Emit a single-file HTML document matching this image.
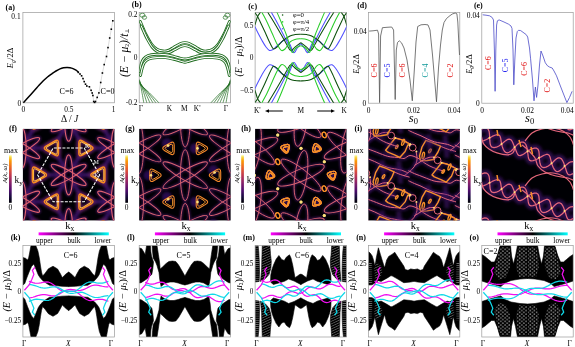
<!DOCTYPE html>
<html><head><meta charset="utf-8"><style>
html,body{margin:0;padding:0;background:#fff;width:575px;height:347px;overflow:hidden}
svg{display:block;font-family:'Liberation Serif', 'DejaVu Serif', serif}
</style></head><body>
<svg width="575" height="347" viewBox="0 0 575 347">
<text x="5.60" y="9.60" font-size="8" text-anchor="start" font-weight="bold" font-style="normal" fill="#000" >(a)</text>
<text x="131.80" y="7.30" font-size="8" text-anchor="start" font-weight="bold" font-style="normal" fill="#000" >(b)</text>
<text x="248.20" y="8.70" font-size="8" text-anchor="start" font-weight="bold" font-style="normal" fill="#000" >(c)</text>
<text x="357.20" y="8.40" font-size="8" text-anchor="start" font-weight="bold" font-style="normal" fill="#000" >(d)</text>
<text x="473.90" y="7.60" font-size="8" text-anchor="start" font-weight="bold" font-style="normal" fill="#000" >(e)</text>
<rect x="22.90" y="12.40" width="91.50" height="90.40" fill="none" stroke="#9a9a9a" stroke-width="0.7"/>
<text x="20.60" y="18.60" font-size="7.4" text-anchor="end" font-weight="normal" font-style="normal" fill="#000" >0.1</text>
<text x="21.30" y="106.20" font-size="7.4" text-anchor="end" font-weight="normal" font-style="normal" fill="#000" >0</text>
<text x="23.40" y="112.30" font-size="7.4" text-anchor="middle" font-weight="normal" font-style="normal" fill="#000" >0</text>
<text x="68.90" y="112.30" font-size="7.4" text-anchor="middle" font-weight="normal" font-style="normal" fill="#000" >0.5</text>
<text x="113.60" y="112.30" font-size="7.4" text-anchor="middle" font-weight="normal" font-style="normal" fill="#000" >1</text>
<text x="69.70" y="122.30" font-size="9.5" text-anchor="middle" font-weight="normal" font-style="normal" fill="#000" >Δ / <tspan font-style="italic">J</tspan></text>
<text transform="translate(13.3,58) rotate(-90)" font-size="8.5" text-anchor="middle"><tspan font-style="italic">E</tspan><tspan font-style="italic" font-size="6" dy="1.5">g</tspan><tspan dy="-1.5">/2Δ</tspan></text>
<text x="66.50" y="93.60" font-size="8" text-anchor="middle" font-weight="normal" font-style="normal" fill="#000" >C=6</text>
<text x="107.50" y="93.60" font-size="8" text-anchor="middle" font-weight="normal" font-style="normal" fill="#000" >C=0</text>
<path d="M23.40,102.70 C24.33,101.67 27.13,98.57 29.00,96.50 C30.87,94.43 32.93,92.17 34.60,90.30 C36.27,88.43 37.55,86.88 39.00,85.30 C40.45,83.72 41.88,82.18 43.30,80.80 C44.72,79.42 46.07,78.17 47.50,77.00 C48.93,75.83 50.48,74.80 51.90,73.80 C53.32,72.80 54.65,71.82 56.00,71.00 C57.35,70.18 58.75,69.43 60.00,68.90 C61.25,68.37 62.33,68.05 63.50,67.80 C64.67,67.55 65.92,67.42 67.00,67.40 C68.08,67.38 69.00,67.50 70.00,67.70 C71.00,67.90 72.00,68.18 73.00,68.60 C74.00,69.02 75.08,69.60 76.00,70.20 C76.92,70.80 78.08,71.87 78.50,72.20" fill="none" stroke="#000" stroke-width="1.5"/>
<path d="M78.30,72.40 L80.00,74.00 L81.60,75.80 L83.00,78.60 L84.20,81.60 L85.50,84.20 L86.80,86.00 L89.40,86.80 L91.10,90.30 L92.20,93.00 L92.90,95.50 L93.70,101.50 L94.60,102.40 L95.50,101.50 L97.20,97.40 L98.90,92.90 L100.70,82.50 L102.40,73.00 L104.20,64.60 L106.50,56.50 L108.00,47.60 L109.70,38.00 L111.30,29.20 L112.80,20.80" fill="none" stroke="#bbb" stroke-width="0.5"/>
<rect x="77.50" y="71.60" width="1.6" height="1.6" fill="#000"/>
<rect x="79.20" y="73.20" width="1.6" height="1.6" fill="#000"/>
<rect x="80.80" y="75.00" width="1.6" height="1.6" fill="#000"/>
<rect x="82.20" y="77.80" width="1.6" height="1.6" fill="#000"/>
<rect x="83.40" y="80.80" width="1.6" height="1.6" fill="#000"/>
<rect x="84.70" y="83.40" width="1.6" height="1.6" fill="#000"/>
<rect x="86.00" y="85.20" width="1.6" height="1.6" fill="#000"/>
<rect x="88.60" y="86.00" width="1.6" height="1.6" fill="#000"/>
<rect x="90.30" y="89.50" width="1.6" height="1.6" fill="#000"/>
<rect x="91.40" y="92.20" width="1.6" height="1.6" fill="#000"/>
<rect x="92.10" y="94.70" width="1.6" height="1.6" fill="#000"/>
<rect x="92.90" y="100.70" width="1.6" height="1.6" fill="#000"/>
<rect x="93.80" y="101.60" width="1.6" height="1.6" fill="#000"/>
<rect x="94.70" y="100.70" width="1.6" height="1.6" fill="#000"/>
<rect x="96.40" y="96.60" width="1.6" height="1.6" fill="#000"/>
<rect x="98.10" y="92.10" width="1.6" height="1.6" fill="#000"/>
<rect x="99.90" y="81.70" width="1.6" height="1.6" fill="#000"/>
<rect x="101.60" y="72.20" width="1.6" height="1.6" fill="#000"/>
<rect x="103.40" y="63.80" width="1.6" height="1.6" fill="#000"/>
<rect x="105.70" y="55.70" width="1.6" height="1.6" fill="#000"/>
<rect x="107.20" y="46.80" width="1.6" height="1.6" fill="#000"/>
<rect x="108.90" y="37.20" width="1.6" height="1.6" fill="#000"/>
<rect x="110.50" y="28.40" width="1.6" height="1.6" fill="#000"/>
<rect x="112.00" y="20.00" width="1.6" height="1.6" fill="#000"/>
<rect x="139.20" y="12.40" width="91.40" height="90.40" fill="none" stroke="#9a9a9a" stroke-width="0.7"/>
<text x="137.50" y="17.20" font-size="7.4" text-anchor="end" font-weight="normal" font-style="normal" fill="#000" >0.2</text>
<text x="137.50" y="60.10" font-size="7.4" text-anchor="end" font-weight="normal" font-style="normal" fill="#000" >0</text>
<text x="137.50" y="104.90" font-size="7.4" text-anchor="end" font-weight="normal" font-style="normal" fill="#000" >-0.2</text>
<text x="140.90" y="111.20" font-size="7.4" text-anchor="middle" font-weight="normal" font-style="normal" fill="#000" >Γ</text>
<text x="169.30" y="111.20" font-size="7.4" text-anchor="middle" font-weight="normal" font-style="normal" fill="#000" >K</text>
<text x="184.20" y="111.20" font-size="7.4" text-anchor="middle" font-weight="normal" font-style="normal" fill="#000" >M</text>
<text x="197.20" y="111.20" font-size="7.4" text-anchor="middle" font-weight="normal" font-style="normal" fill="#000" >K'</text>
<text x="226.00" y="111.20" font-size="7.4" text-anchor="middle" font-weight="normal" font-style="normal" fill="#000" >Γ</text>
<text transform="translate(127.8,52.7) rotate(-90)" font-size="11.6" text-anchor="middle" font-style="italic">(E − μ<tspan font-size="5.5" dy="1.4" font-style="normal">2</tspan><tspan dy="-1.4">)/</tspan><tspan>t</tspan><tspan font-size="5.5" dy="1.4" font-style="normal">⊥</tspan></text>
<clipPath id="clipb"><rect x="139.2" y="12.4" width="91.4" height="90.39999999999999"/></clipPath>
<g clip-path="url(#clipb)">
<path d="M140.30,21.50 C140.67,22.33 141.55,24.33 142.50,26.50 C143.45,28.67 144.50,31.58 146.00,34.50 C147.50,37.42 149.67,41.55 151.50,44.00 C153.33,46.45 155.08,48.03 157.00,49.20 C158.92,50.37 161.17,50.78 163.00,51.00 C164.83,51.22 166.25,51.08 168.00,50.50 C169.75,49.92 171.42,48.67 173.50,47.50 C175.58,46.33 178.60,44.32 180.50,43.50 C182.40,42.68 183.43,42.60 184.90,42.60 C186.37,42.60 187.40,42.68 189.30,43.50 C191.20,44.32 194.22,46.33 196.30,47.50 C198.38,48.67 200.05,49.92 201.80,50.50 C203.55,51.08 204.97,51.22 206.80,51.00 C208.63,50.78 210.88,50.37 212.80,49.20 C214.72,48.03 216.47,46.45 218.30,44.00 C220.13,41.55 222.30,37.42 223.80,34.50 C225.30,31.58 226.35,28.67 227.30,26.50 C228.25,24.33 229.13,22.33 229.50,21.50" fill="none" stroke="#1e6b1e" stroke-width="2.9" stroke-linecap="round" stroke-linejoin="round"/>
<path d="M140.30,21.50 C140.67,22.33 141.55,24.33 142.50,26.50 C143.45,28.67 144.50,31.58 146.00,34.50 C147.50,37.42 149.67,41.55 151.50,44.00 C153.33,46.45 155.08,48.03 157.00,49.20 C158.92,50.37 161.17,50.78 163.00,51.00 C164.83,51.22 166.25,51.08 168.00,50.50 C169.75,49.92 171.42,48.67 173.50,47.50 C175.58,46.33 178.60,44.32 180.50,43.50 C182.40,42.68 183.43,42.60 184.90,42.60 C186.37,42.60 187.40,42.68 189.30,43.50 C191.20,44.32 194.22,46.33 196.30,47.50 C198.38,48.67 200.05,49.92 201.80,50.50 C203.55,51.08 204.97,51.22 206.80,51.00 C208.63,50.78 210.88,50.37 212.80,49.20 C214.72,48.03 216.47,46.45 218.30,44.00 C220.13,41.55 222.30,37.42 223.80,34.50 C225.30,31.58 226.35,28.67 227.30,26.50 C228.25,24.33 229.13,22.33 229.50,21.50" fill="none" stroke="#fff" stroke-width="1.1" stroke-linecap="round" stroke-linejoin="round"/>
<path d="M141.30,26.00 C141.67,26.83 142.55,28.92 143.50,31.00 C144.45,33.08 145.50,35.75 147.00,38.50 C148.50,41.25 150.67,45.25 152.50,47.50 C154.33,49.75 156.08,51.03 158.00,52.00 C159.92,52.97 162.17,53.20 164.00,53.30 C165.83,53.40 167.25,53.18 169.00,52.60 C170.75,52.02 172.50,50.82 174.50,49.80 C176.50,48.78 179.27,47.20 181.00,46.50 C182.73,45.80 183.60,45.60 184.90,45.60 C186.20,45.60 187.07,45.80 188.80,46.50 C190.53,47.20 193.30,48.78 195.30,49.80 C197.30,50.82 199.05,52.02 200.80,52.60 C202.55,53.18 203.97,53.40 205.80,53.30 C207.63,53.20 209.88,52.97 211.80,52.00 C213.72,51.03 215.47,49.75 217.30,47.50 C219.13,45.25 221.30,41.25 222.80,38.50 C224.30,35.75 225.35,33.08 226.30,31.00 C227.25,28.92 228.13,26.83 228.50,26.00" fill="none" stroke="#1e6b1e" stroke-width="2.9" stroke-linecap="round" stroke-linejoin="round"/>
<path d="M141.30,26.00 C141.67,26.83 142.55,28.92 143.50,31.00 C144.45,33.08 145.50,35.75 147.00,38.50 C148.50,41.25 150.67,45.25 152.50,47.50 C154.33,49.75 156.08,51.03 158.00,52.00 C159.92,52.97 162.17,53.20 164.00,53.30 C165.83,53.40 167.25,53.18 169.00,52.60 C170.75,52.02 172.50,50.82 174.50,49.80 C176.50,48.78 179.27,47.20 181.00,46.50 C182.73,45.80 183.60,45.60 184.90,45.60 C186.20,45.60 187.07,45.80 188.80,46.50 C190.53,47.20 193.30,48.78 195.30,49.80 C197.30,50.82 199.05,52.02 200.80,52.60 C202.55,53.18 203.97,53.40 205.80,53.30 C207.63,53.20 209.88,52.97 211.80,52.00 C213.72,51.03 215.47,49.75 217.30,47.50 C219.13,45.25 221.30,41.25 222.80,38.50 C224.30,35.75 225.35,33.08 226.30,31.00 C227.25,28.92 228.13,26.83 228.50,26.00" fill="none" stroke="#fff" stroke-width="1.1" stroke-linecap="round" stroke-linejoin="round"/>
<path d="M140.00,71.50 C140.20,70.25 140.62,66.08 141.20,64.00 C141.78,61.92 142.37,60.40 143.50,59.00 C144.63,57.60 145.87,56.38 148.00,55.60 C150.13,54.82 153.48,54.47 156.30,54.30 C159.12,54.13 162.03,54.27 164.90,54.60 C167.77,54.93 170.90,55.68 173.50,56.30 C176.10,56.92 178.60,57.85 180.50,58.30 C182.40,58.75 183.43,59.00 184.90,59.00 C186.37,59.00 187.40,58.75 189.30,58.30 C191.20,57.85 193.70,56.92 196.30,56.30 C198.90,55.68 202.03,54.93 204.90,54.60 C207.77,54.27 210.68,54.13 213.50,54.30 C216.32,54.47 219.67,54.82 221.80,55.60 C223.93,56.38 225.17,57.60 226.30,59.00 C227.43,60.40 228.02,61.92 228.60,64.00 C229.18,66.08 229.60,70.25 229.80,71.50" fill="none" stroke="#1e6b1e" stroke-width="2.9" stroke-linecap="round" stroke-linejoin="round"/>
<path d="M140.00,71.50 C140.20,70.25 140.62,66.08 141.20,64.00 C141.78,61.92 142.37,60.40 143.50,59.00 C144.63,57.60 145.87,56.38 148.00,55.60 C150.13,54.82 153.48,54.47 156.30,54.30 C159.12,54.13 162.03,54.27 164.90,54.60 C167.77,54.93 170.90,55.68 173.50,56.30 C176.10,56.92 178.60,57.85 180.50,58.30 C182.40,58.75 183.43,59.00 184.90,59.00 C186.37,59.00 187.40,58.75 189.30,58.30 C191.20,57.85 193.70,56.92 196.30,56.30 C198.90,55.68 202.03,54.93 204.90,54.60 C207.77,54.27 210.68,54.13 213.50,54.30 C216.32,54.47 219.67,54.82 221.80,55.60 C223.93,56.38 225.17,57.60 226.30,59.00 C227.43,60.40 228.02,61.92 228.60,64.00 C229.18,66.08 229.60,70.25 229.80,71.50" fill="none" stroke="#fff" stroke-width="1.1" stroke-linecap="round" stroke-linejoin="round"/>
<path d="M140.50,75.50 C140.78,74.25 141.53,70.17 142.20,68.00 C142.87,65.83 143.37,64.00 144.50,62.50 C145.63,61.00 146.92,59.82 149.00,59.00 C151.08,58.18 154.25,57.83 157.00,57.60 C159.75,57.37 162.67,57.32 165.50,57.60 C168.33,57.88 171.42,58.68 174.00,59.30 C176.58,59.92 179.18,60.82 181.00,61.30 C182.82,61.78 183.60,62.20 184.90,62.20 C186.20,62.20 186.98,61.78 188.80,61.30 C190.62,60.82 193.22,59.92 195.80,59.30 C198.38,58.68 201.47,57.88 204.30,57.60 C207.13,57.32 210.05,57.37 212.80,57.60 C215.55,57.83 218.72,58.18 220.80,59.00 C222.88,59.82 224.17,61.00 225.30,62.50 C226.43,64.00 226.93,65.83 227.60,68.00 C228.27,70.17 229.02,74.25 229.30,75.50" fill="none" stroke="#1e6b1e" stroke-width="2.9" stroke-linecap="round" stroke-linejoin="round"/>
<path d="M140.50,75.50 C140.78,74.25 141.53,70.17 142.20,68.00 C142.87,65.83 143.37,64.00 144.50,62.50 C145.63,61.00 146.92,59.82 149.00,59.00 C151.08,58.18 154.25,57.83 157.00,57.60 C159.75,57.37 162.67,57.32 165.50,57.60 C168.33,57.88 171.42,58.68 174.00,59.30 C176.58,59.92 179.18,60.82 181.00,61.30 C182.82,61.78 183.60,62.20 184.90,62.20 C186.20,62.20 186.98,61.78 188.80,61.30 C190.62,60.82 193.22,59.92 195.80,59.30 C198.38,58.68 201.47,57.88 204.30,57.60 C207.13,57.32 210.05,57.37 212.80,57.60 C215.55,57.83 218.72,58.18 220.80,59.00 C222.88,59.82 224.17,61.00 225.30,62.50 C226.43,64.00 226.93,65.83 227.60,68.00 C228.27,70.17 229.02,74.25 229.30,75.50" fill="none" stroke="#fff" stroke-width="1.1" stroke-linecap="round" stroke-linejoin="round"/>
<path d="M139.40,79.50 C139.75,81.25 140.73,85.92 141.50,90.00 C142.27,94.08 143.58,101.67 144.00,104.00" fill="none" stroke="#1e6b1e" stroke-width="0.7"/>
<path d="M230.40,79.50 C230.05,81.25 229.07,85.92 228.30,90.00 C227.53,94.08 226.22,101.67 225.80,104.00" fill="none" stroke="#1e6b1e" stroke-width="0.7"/>
<path d="M139.40,80.40 C140.02,82.10 141.80,86.67 143.10,90.60 C144.40,94.53 146.52,101.77 147.20,104.00" fill="none" stroke="#1e6b1e" stroke-width="0.7"/>
<path d="M230.40,80.40 C229.78,82.10 228.00,86.67 226.70,90.60 C225.40,94.53 223.28,101.77 222.60,104.00" fill="none" stroke="#1e6b1e" stroke-width="0.7"/>
<path d="M139.40,81.30 C140.28,82.95 142.87,87.42 144.70,91.20 C146.53,94.98 149.45,101.87 150.40,104.00" fill="none" stroke="#1e6b1e" stroke-width="0.7"/>
<path d="M230.40,81.30 C229.52,82.95 226.93,87.42 225.10,91.20 C223.27,94.98 220.35,101.87 219.40,104.00" fill="none" stroke="#1e6b1e" stroke-width="0.7"/>
<path d="M139.40,82.20 C140.55,83.80 143.93,88.17 146.30,91.80 C148.67,95.43 152.38,101.97 153.60,104.00" fill="none" stroke="#1e6b1e" stroke-width="0.7"/>
<path d="M230.40,82.20 C229.25,83.80 225.87,88.17 223.50,91.80 C221.13,95.43 217.42,101.97 216.20,104.00" fill="none" stroke="#1e6b1e" stroke-width="0.7"/>
<path d="M139.40,83.10 C140.82,84.65 145.00,88.92 147.90,92.40 C150.80,95.88 155.32,102.07 156.80,104.00" fill="none" stroke="#1e6b1e" stroke-width="0.7"/>
<path d="M230.40,83.10 C228.98,84.65 224.80,88.92 221.90,92.40 C219.00,95.88 214.48,102.07 213.00,104.00" fill="none" stroke="#1e6b1e" stroke-width="0.7"/>
<path d="M139.40,84.00 C141.08,85.50 146.07,89.67 149.50,93.00 C152.93,96.33 158.25,102.17 160.00,104.00" fill="none" stroke="#1e6b1e" stroke-width="0.7"/>
<path d="M230.40,84.00 C228.72,85.50 223.73,89.67 220.30,93.00 C216.87,96.33 211.55,102.17 209.80,104.00" fill="none" stroke="#1e6b1e" stroke-width="0.7"/>
<ellipse cx="142.39999999999998" cy="15.2" rx="2.6" ry="2.0" fill="none" stroke="#1e6b1e" stroke-width="0.7"/>
<ellipse cx="144.39999999999998" cy="17.5" rx="2.2" ry="1.8" fill="none" stroke="#1e6b1e" stroke-width="0.7"/>
<ellipse cx="227.4" cy="15.2" rx="2.6" ry="2.0" fill="none" stroke="#1e6b1e" stroke-width="0.7"/>
<ellipse cx="225.4" cy="17.5" rx="2.2" ry="1.8" fill="none" stroke="#1e6b1e" stroke-width="0.7"/>
</g>
<rect x="255.10" y="12.40" width="91.40" height="90.40" fill="none" stroke="#9a9a9a" stroke-width="0.7"/>
<text x="253.40" y="28.20" font-size="7.4" text-anchor="end" font-weight="normal" font-style="normal" fill="#000" >0.5</text>
<text x="253.40" y="59.60" font-size="7.4" text-anchor="end" font-weight="normal" font-style="normal" fill="#000" >0</text>
<text x="253.40" y="93.10" font-size="7.4" text-anchor="end" font-weight="normal" font-style="normal" fill="#000" >−0.5</text>
<text transform="translate(242.0,56.6) rotate(-90)" font-size="9.6" text-anchor="middle" font-style="italic">(E − μ<tspan font-size="5.5" dy="1.4" font-style="normal">2</tspan><tspan dy="-1.4" font-style="normal">)/Δ</tspan></text>
<text x="257.30" y="113.30" font-size="7.4" text-anchor="middle" font-weight="normal" font-style="normal" fill="#000" >K'</text>
<text x="300.80" y="113.30" font-size="7.4" text-anchor="middle" font-weight="normal" font-style="normal" fill="#000" >M</text>
<text x="344.10" y="113.30" font-size="7.4" text-anchor="middle" font-weight="normal" font-style="normal" fill="#000" >K</text>
<path d="M267.5,111 L282.8,111" stroke="#000" stroke-width="1"/><path d="M265,111 L269,109.3 L269,112.7Z" fill="#000"/>
<path d="M317.2,111 L332.5,111" stroke="#000" stroke-width="1"/><path d="M335,111 L331,109.3 L331,112.7Z" fill="#000"/>
<clipPath id="clipc"><rect x="255.1" y="12.4" width="91.4" height="90.39999999999999"/></clipPath>
<g clip-path="url(#clipc)">
<path d="M253.00,22.00 C253.35,22.83 254.27,25.17 255.10,27.00 C255.93,28.83 256.85,30.75 258.00,33.00 C259.15,35.25 260.67,38.17 262.00,40.50 C263.33,42.83 264.75,45.35 266.00,47.00 C267.25,48.65 268.33,49.98 269.50,50.40 C270.67,50.82 271.75,50.23 273.00,49.50 C274.25,48.77 275.38,47.42 277.00,46.00 C278.62,44.58 281.03,42.05 282.70,41.00 C284.37,39.95 285.78,39.12 287.00,39.70 C288.22,40.28 288.88,42.35 290.00,44.50 C291.12,46.65 292.53,51.93 293.70,52.60 C294.87,53.27 295.82,50.02 297.00,48.50 C298.18,46.98 300.17,44.33 300.80,43.50" fill="none" stroke="#5050ff" stroke-width="1.05"/>
<path d="M253.00,93.20 C253.35,92.37 254.27,90.03 255.10,88.20 C255.93,86.37 256.85,84.45 258.00,82.20 C259.15,79.95 260.67,77.03 262.00,74.70 C263.33,72.37 264.75,69.85 266.00,68.20 C267.25,66.55 268.33,65.22 269.50,64.80 C270.67,64.38 271.75,64.97 273.00,65.70 C274.25,66.43 275.38,67.78 277.00,69.20 C278.62,70.62 281.03,73.15 282.70,74.20 C284.37,75.25 285.78,76.08 287.00,75.50 C288.22,74.92 288.88,72.85 290.00,70.70 C291.12,68.55 292.53,63.27 293.70,62.60 C294.87,61.93 295.82,65.18 297.00,66.70 C298.18,68.22 300.17,70.87 300.80,71.70" fill="none" stroke="#5050ff" stroke-width="1.05"/>
<path d="M348.60,22.00 C348.25,22.83 347.33,25.17 346.50,27.00 C345.67,28.83 344.75,30.75 343.60,33.00 C342.45,35.25 340.93,38.17 339.60,40.50 C338.27,42.83 336.85,45.35 335.60,47.00 C334.35,48.65 333.27,49.98 332.10,50.40 C330.93,50.82 329.85,50.23 328.60,49.50 C327.35,48.77 326.22,47.42 324.60,46.00 C322.98,44.58 320.57,42.05 318.90,41.00 C317.23,39.95 315.82,39.12 314.60,39.70 C313.38,40.28 312.72,42.35 311.60,44.50 C310.48,46.65 309.07,51.93 307.90,52.60 C306.73,53.27 305.78,50.02 304.60,48.50 C303.42,46.98 301.43,44.33 300.80,43.50" fill="none" stroke="#5050ff" stroke-width="1.05"/>
<path d="M348.60,93.20 C348.25,92.37 347.33,90.03 346.50,88.20 C345.67,86.37 344.75,84.45 343.60,82.20 C342.45,79.95 340.93,77.03 339.60,74.70 C338.27,72.37 336.85,69.85 335.60,68.20 C334.35,66.55 333.27,65.22 332.10,64.80 C330.93,64.38 329.85,64.97 328.60,65.70 C327.35,66.43 326.22,67.78 324.60,69.20 C322.98,70.62 320.57,73.15 318.90,74.20 C317.23,75.25 315.82,76.08 314.60,75.50 C313.38,74.92 312.72,72.85 311.60,70.70 C310.48,68.55 309.07,63.27 307.90,62.60 C306.73,61.93 305.78,65.18 304.60,66.70 C303.42,68.22 301.43,70.87 300.80,71.70" fill="none" stroke="#5050ff" stroke-width="1.05"/>
<path d="M270.00,9.00 C270.25,9.57 270.50,10.48 271.50,12.40 C272.50,14.32 274.42,17.57 276.00,20.50 C277.58,23.43 279.33,26.75 281.00,30.00 C282.67,33.25 284.50,37.08 286.00,40.00 C287.50,42.92 288.72,45.40 290.00,47.50 C291.28,49.60 293.08,51.75 293.70,52.60" fill="none" stroke="#5050ff" stroke-width="1.05"/>
<path d="M270.00,106.20 C270.25,105.63 270.50,104.72 271.50,102.80 C272.50,100.88 274.42,97.63 276.00,94.70 C277.58,91.77 279.33,88.45 281.00,85.20 C282.67,81.95 284.50,78.12 286.00,75.20 C287.50,72.28 288.72,69.80 290.00,67.70 C291.28,65.60 293.08,63.45 293.70,62.60" fill="none" stroke="#5050ff" stroke-width="1.05"/>
<path d="M331.60,9.00 C331.35,9.57 331.10,10.48 330.10,12.40 C329.10,14.32 327.18,17.57 325.60,20.50 C324.02,23.43 322.27,26.75 320.60,30.00 C318.93,33.25 317.10,37.08 315.60,40.00 C314.10,42.92 312.88,45.40 311.60,47.50 C310.32,49.60 308.52,51.75 307.90,52.60" fill="none" stroke="#5050ff" stroke-width="1.05"/>
<path d="M331.60,106.20 C331.35,105.63 331.10,104.72 330.10,102.80 C329.10,100.88 327.18,97.63 325.60,94.70 C324.02,91.77 322.27,88.45 320.60,85.20 C318.93,81.95 317.10,78.12 315.60,75.20 C314.10,72.28 312.88,69.80 311.60,67.70 C310.32,65.60 308.52,63.45 307.90,62.60" fill="none" stroke="#5050ff" stroke-width="1.05"/>
<path d="M253.00,10.00 C253.35,10.48 254.33,11.82 255.10,12.90 C255.87,13.98 256.62,14.73 257.60,16.50 C258.58,18.27 259.77,20.92 261.00,23.50 C262.23,26.08 263.67,29.08 265.00,32.00 C266.33,34.92 267.83,38.50 269.00,41.00 C270.17,43.50 271.22,45.67 272.00,47.00 C272.78,48.33 272.87,49.00 273.70,49.00 C274.53,49.00 275.47,48.38 277.00,47.00 C278.53,45.62 280.73,42.53 282.90,40.70 C285.07,38.87 287.98,37.02 290.00,36.00 C292.02,34.98 293.20,34.88 295.00,34.60 C296.80,34.32 299.83,34.35 300.80,34.30" fill="none" stroke="#0b4f0b" stroke-width="1.05"/>
<path d="M253.00,105.20 C253.35,104.72 254.33,103.38 255.10,102.30 C255.87,101.22 256.62,100.47 257.60,98.70 C258.58,96.93 259.77,94.28 261.00,91.70 C262.23,89.12 263.67,86.12 265.00,83.20 C266.33,80.28 267.83,76.70 269.00,74.20 C270.17,71.70 271.22,69.53 272.00,68.20 C272.78,66.87 272.87,66.20 273.70,66.20 C274.53,66.20 275.47,66.82 277.00,68.20 C278.53,69.58 280.73,72.67 282.90,74.50 C285.07,76.33 287.98,78.18 290.00,79.20 C292.02,80.22 293.20,80.32 295.00,80.60 C296.80,80.88 299.83,80.85 300.80,80.90" fill="none" stroke="#0b4f0b" stroke-width="1.05"/>
<path d="M348.60,10.00 C348.25,10.48 347.27,11.82 346.50,12.90 C345.73,13.98 344.98,14.73 344.00,16.50 C343.02,18.27 341.83,20.92 340.60,23.50 C339.37,26.08 337.93,29.08 336.60,32.00 C335.27,34.92 333.77,38.50 332.60,41.00 C331.43,43.50 330.38,45.67 329.60,47.00 C328.82,48.33 328.73,49.00 327.90,49.00 C327.07,49.00 326.13,48.38 324.60,47.00 C323.07,45.62 320.87,42.53 318.70,40.70 C316.53,38.87 313.62,37.02 311.60,36.00 C309.58,34.98 308.40,34.88 306.60,34.60 C304.80,34.32 301.77,34.35 300.80,34.30" fill="none" stroke="#0b4f0b" stroke-width="1.05"/>
<path d="M348.60,105.20 C348.25,104.72 347.27,103.38 346.50,102.30 C345.73,101.22 344.98,100.47 344.00,98.70 C343.02,96.93 341.83,94.28 340.60,91.70 C339.37,89.12 337.93,86.12 336.60,83.20 C335.27,80.28 333.77,76.70 332.60,74.20 C331.43,71.70 330.38,69.53 329.60,68.20 C328.82,66.87 328.73,66.20 327.90,66.20 C327.07,66.20 326.13,66.82 324.60,68.20 C323.07,69.58 320.87,72.67 318.70,74.50 C316.53,76.33 313.62,78.18 311.60,79.20 C309.58,80.22 308.40,80.32 306.60,80.60 C304.80,80.88 301.77,80.85 300.80,80.90" fill="none" stroke="#0b4f0b" stroke-width="1.05"/>
<path d="M266.50,9.00 C266.75,9.57 266.58,9.90 268.00,12.40 C269.42,14.90 272.67,20.07 275.00,24.00 C277.33,27.93 280.00,32.50 282.00,36.00 C284.00,39.50 285.55,42.58 287.00,45.00 C288.45,47.42 289.37,50.13 290.70,50.50 C292.03,50.87 293.32,48.52 295.00,47.20 C296.68,45.88 299.83,43.37 300.80,42.60" fill="none" stroke="#0b4f0b" stroke-width="1.05"/>
<path d="M266.50,106.20 C266.75,105.63 266.58,105.30 268.00,102.80 C269.42,100.30 272.67,95.13 275.00,91.20 C277.33,87.27 280.00,82.70 282.00,79.20 C284.00,75.70 285.55,72.62 287.00,70.20 C288.45,67.78 289.37,65.07 290.70,64.70 C292.03,64.33 293.32,66.68 295.00,68.00 C296.68,69.32 299.83,71.83 300.80,72.60" fill="none" stroke="#0b4f0b" stroke-width="1.05"/>
<path d="M335.10,9.00 C334.85,9.57 335.02,9.90 333.60,12.40 C332.18,14.90 328.93,20.07 326.60,24.00 C324.27,27.93 321.60,32.50 319.60,36.00 C317.60,39.50 316.05,42.58 314.60,45.00 C313.15,47.42 312.23,50.13 310.90,50.50 C309.57,50.87 308.28,48.52 306.60,47.20 C304.92,45.88 301.77,43.37 300.80,42.60" fill="none" stroke="#0b4f0b" stroke-width="1.05"/>
<path d="M335.10,106.20 C334.85,105.63 335.02,105.30 333.60,102.80 C332.18,100.30 328.93,95.13 326.60,91.20 C324.27,87.27 321.60,82.70 319.60,79.20 C317.60,75.70 316.05,72.62 314.60,70.20 C313.15,67.78 312.23,65.07 310.90,64.70 C309.57,64.33 308.28,66.68 306.60,68.00 C304.92,69.32 301.77,71.83 300.80,72.60" fill="none" stroke="#0b4f0b" stroke-width="1.05"/>
<path d="M253.50,27.00 C253.77,26.57 254.42,26.15 255.10,24.40 C255.78,22.65 256.70,18.53 257.60,16.50 C258.50,14.47 259.77,13.45 260.50,12.20 C261.23,10.95 261.75,9.53 262.00,9.00" fill="none" stroke="#0b4f0b" stroke-width="1.05"/>
<path d="M253.50,88.20 C253.77,88.63 254.42,89.05 255.10,90.80 C255.78,92.55 256.70,96.67 257.60,98.70 C258.50,100.73 259.77,101.75 260.50,103.00 C261.23,104.25 261.75,105.67 262.00,106.20" fill="none" stroke="#0b4f0b" stroke-width="1.05"/>
<path d="M348.10,27.00 C347.83,26.57 347.18,26.15 346.50,24.40 C345.82,22.65 344.90,18.53 344.00,16.50 C343.10,14.47 341.83,13.45 341.10,12.20 C340.37,10.95 339.85,9.53 339.60,9.00" fill="none" stroke="#0b4f0b" stroke-width="1.05"/>
<path d="M348.10,88.20 C347.83,88.63 347.18,89.05 346.50,90.80 C345.82,92.55 344.90,96.67 344.00,98.70 C343.10,100.73 341.83,101.75 341.10,103.00 C340.37,104.25 339.85,105.67 339.60,106.20" fill="none" stroke="#0b4f0b" stroke-width="1.05"/>
<path d="M260.50,9.00 C260.75,9.57 260.92,10.23 262.00,12.40 C263.08,14.57 265.33,18.57 267.00,22.00 C268.67,25.43 270.33,29.33 272.00,33.00 C273.67,36.67 275.45,41.10 277.00,44.00 C278.55,46.90 279.97,49.57 281.30,50.40 C282.63,51.23 283.55,50.40 285.00,49.00 C286.45,47.60 288.33,43.60 290.00,42.00 C291.67,40.40 293.20,39.95 295.00,39.40 C296.80,38.85 299.83,38.82 300.80,38.70" fill="none" stroke="#28cc28" stroke-width="1.05"/>
<path d="M260.50,106.20 C260.75,105.63 260.92,104.97 262.00,102.80 C263.08,100.63 265.33,96.63 267.00,93.20 C268.67,89.77 270.33,85.87 272.00,82.20 C273.67,78.53 275.45,74.10 277.00,71.20 C278.55,68.30 279.97,65.63 281.30,64.80 C282.63,63.97 283.55,64.80 285.00,66.20 C286.45,67.60 288.33,71.60 290.00,73.20 C291.67,74.80 293.20,75.25 295.00,75.80 C296.80,76.35 299.83,76.38 300.80,76.50" fill="none" stroke="#28cc28" stroke-width="1.05"/>
<path d="M341.10,9.00 C340.85,9.57 340.68,10.23 339.60,12.40 C338.52,14.57 336.27,18.57 334.60,22.00 C332.93,25.43 331.27,29.33 329.60,33.00 C327.93,36.67 326.15,41.10 324.60,44.00 C323.05,46.90 321.63,49.57 320.30,50.40 C318.97,51.23 318.05,50.40 316.60,49.00 C315.15,47.60 313.27,43.60 311.60,42.00 C309.93,40.40 308.40,39.95 306.60,39.40 C304.80,38.85 301.77,38.82 300.80,38.70" fill="none" stroke="#28cc28" stroke-width="1.05"/>
<path d="M341.10,106.20 C340.85,105.63 340.68,104.97 339.60,102.80 C338.52,100.63 336.27,96.63 334.60,93.20 C332.93,89.77 331.27,85.87 329.60,82.20 C327.93,78.53 326.15,74.10 324.60,71.20 C323.05,68.30 321.63,65.63 320.30,64.80 C318.97,63.97 318.05,64.80 316.60,66.20 C315.15,67.60 313.27,71.60 311.60,73.20 C309.93,74.80 308.40,75.25 306.60,75.80 C304.80,76.35 301.77,76.38 300.80,76.50" fill="none" stroke="#28cc28" stroke-width="1.05"/>
<path d="M275.00,9.00 C275.33,9.57 275.83,9.90 277.00,12.40 C278.17,14.90 280.33,19.98 282.00,24.00 C283.67,28.02 285.38,31.83 287.00,36.50 C288.62,41.17 290.20,50.08 291.70,52.00 C293.20,53.92 294.48,49.07 296.00,48.00 C297.52,46.93 300.00,46.00 300.80,45.60" fill="none" stroke="#28cc28" stroke-width="1.05"/>
<path d="M275.00,106.20 C275.33,105.63 275.83,105.30 277.00,102.80 C278.17,100.30 280.33,95.22 282.00,91.20 C283.67,87.18 285.38,83.37 287.00,78.70 C288.62,74.03 290.20,65.12 291.70,63.20 C293.20,61.28 294.48,66.13 296.00,67.20 C297.52,68.27 300.00,69.20 300.80,69.60" fill="none" stroke="#28cc28" stroke-width="1.05"/>
<path d="M326.60,9.00 C326.27,9.57 325.77,9.90 324.60,12.40 C323.43,14.90 321.27,19.98 319.60,24.00 C317.93,28.02 316.22,31.83 314.60,36.50 C312.98,41.17 311.40,50.08 309.90,52.00 C308.40,53.92 307.12,49.07 305.60,48.00 C304.08,46.93 301.60,46.00 300.80,45.60" fill="none" stroke="#28cc28" stroke-width="1.05"/>
<path d="M326.60,106.20 C326.27,105.63 325.77,105.30 324.60,102.80 C323.43,100.30 321.27,95.22 319.60,91.20 C317.93,87.18 316.22,83.37 314.60,78.70 C312.98,74.03 311.40,65.12 309.90,63.20 C308.40,61.28 307.12,66.13 305.60,67.20 C304.08,68.27 301.60,69.20 300.80,69.60" fill="none" stroke="#28cc28" stroke-width="1.05"/>
</g>
<circle cx="282.6" cy="15" r="0.8" fill="#0b5a0b"/>
<text x="292.80" y="17.20" font-size="6.8" text-anchor="start" font-weight="normal" font-style="normal" fill="#000" >φ=0</text>
<circle cx="282.6" cy="21.9" r="0.8" fill="#33cc33"/>
<text x="292.80" y="24.10" font-size="6.8" text-anchor="start" font-weight="normal" font-style="normal" fill="#000" >φ=π/4</text>
<circle cx="282.6" cy="28.8" r="0.8" fill="#5555ff"/>
<text x="292.80" y="31.00" font-size="6.8" text-anchor="start" font-weight="normal" font-style="normal" fill="#000" >φ=π/2</text>
<rect x="368.40" y="12.40" width="91.40" height="90.80" fill="none" stroke="#9a9a9a" stroke-width="0.7"/>
<text x="366.60" y="33.60" font-size="7.4" text-anchor="end" font-weight="normal" font-style="normal" fill="#000" >0.04</text>
<text x="366.20" y="106.30" font-size="7.4" text-anchor="end" font-weight="normal" font-style="normal" fill="#000" >0</text>
<text x="368.60" y="112.60" font-size="7.4" text-anchor="middle" font-weight="normal" font-style="normal" fill="#000" >0</text>
<text x="413.60" y="112.60" font-size="7.4" text-anchor="middle" font-weight="normal" font-style="normal" fill="#000" >0.02</text>
<text x="453.90" y="112.60" font-size="7.4" text-anchor="middle" font-weight="normal" font-style="normal" fill="#000" >0.04</text>
<text transform="translate(358.6,64) rotate(-90)" font-size="8.2" text-anchor="middle"><tspan font-style="italic">E</tspan><tspan font-style="italic" font-size="5.5" dy="1.4">g</tspan><tspan dy="-1.4">/2Δ</tspan></text>
<text x="413.4" y="121.6" font-size="12.5" text-anchor="middle"><tspan font-style="italic">s</tspan><tspan font-size="8.5" dy="2">0</tspan></text>
<path d="M369.20,31.10 L373.00,30.80 L377.50,30.20 L378.60,34.00 L379.60,102.60 L380.60,36.00 L382.40,27.70 L387.00,27.30 L391.70,27.00 L393.60,30.00 L395.20,99.50 L396.30,50.00 L397.50,42.50 L399.30,40.80 L401.50,42.80 L404.00,48.00 L407.00,60.00 L410.00,80.00 L412.30,100.80 L414.20,72.00 L416.00,42.00 L417.70,26.50 L421.00,24.80 L425.00,24.50 L428.00,24.90 L430.00,30.00 L432.50,55.00 L434.80,82.00 L436.50,101.80 L438.50,68.00 L440.50,45.00 L442.30,30.00 L444.00,22.50 L446.50,18.50 L450.00,15.60 L452.30,14.00 L455.20,13.00 L456.90,13.80 L457.80,22.00 L458.70,40.00 L459.50,55.00" fill="none" stroke="#555" stroke-width="0.8" stroke-linejoin="round"/>
<text x="0" y="0" transform="translate(374.20,70.50) rotate(-90)" font-size="8" text-anchor="middle" font-style="normal" fill="#e01010" dominant-baseline="central">C=6</text>
<text x="0" y="0" transform="translate(387.10,70.50) rotate(-90)" font-size="8" text-anchor="middle" font-style="normal" fill="#1010ee" dominant-baseline="central">C=5</text>
<text x="0" y="0" transform="translate(402.80,70.50) rotate(-90)" font-size="8" text-anchor="middle" font-style="normal" fill="#e01010" dominant-baseline="central">C=6</text>
<text x="0" y="0" transform="translate(425.10,70.50) rotate(-90)" font-size="8" text-anchor="middle" font-style="normal" fill="#129a9a" dominant-baseline="central">C=4</text>
<text x="0" y="0" transform="translate(450.40,70.50) rotate(-90)" font-size="8" text-anchor="middle" font-style="normal" fill="#e01010" dominant-baseline="central">C=2</text>
<rect x="481.80" y="12.40" width="91.40" height="90.80" fill="none" stroke="#9a9a9a" stroke-width="0.7"/>
<text x="479.80" y="18.40" font-size="7.4" text-anchor="end" font-weight="normal" font-style="normal" fill="#000" >0.04</text>
<text x="479.60" y="106.30" font-size="7.4" text-anchor="end" font-weight="normal" font-style="normal" fill="#000" >0</text>
<text x="482.20" y="112.60" font-size="7.4" text-anchor="middle" font-weight="normal" font-style="normal" fill="#000" >0</text>
<text x="527.50" y="112.60" font-size="7.4" text-anchor="middle" font-weight="normal" font-style="normal" fill="#000" >0.02</text>
<text x="567.20" y="112.60" font-size="7.4" text-anchor="middle" font-weight="normal" font-style="normal" fill="#000" >0.04</text>
<text transform="translate(471.8,64) rotate(-90)" font-size="8.2" text-anchor="middle"><tspan font-style="italic">E</tspan><tspan font-style="italic" font-size="5.5" dy="1.4">g</tspan><tspan dy="-1.4">/2Δ</tspan></text>
<text x="529.6" y="121.6" font-size="12.5" text-anchor="middle"><tspan font-style="italic">s</tspan><tspan font-size="8.5" dy="2">0</tspan></text>
<path d="M482.70,14.80 L486.00,15.20 L489.60,15.80 L492.20,17.50 L493.50,20.00 L494.40,50.00 L495.10,91.30 L495.80,50.00 L496.60,25.00 L497.40,20.80 L499.10,19.90 L504.00,22.00 L508.60,24.20 L511.00,26.00 L512.00,28.50 L513.00,50.00 L513.80,84.80 L514.80,60.00 L516.00,38.00 L517.30,31.50 L518.50,30.30 L520.70,30.60 L526.20,34.60 L527.70,37.00 L529.50,48.00 L530.60,58.80 L532.50,80.00 L534.00,100.80 L535.40,87.00 L536.60,97.40 L538.00,85.00 L539.50,65.00 L541.00,51.00 L543.00,56.00 L545.30,62.80 L547.50,65.80 L549.60,67.10 L552.20,68.00 L554.00,71.00 L556.50,75.80 L560.00,85.00 L563.50,94.00 L566.90,102.60 L569.50,97.50 L572.10,91.30" fill="none" stroke="#4a4ac8" stroke-width="0.8" stroke-linejoin="round"/>
<text x="0" y="0" transform="translate(488.70,63.20) rotate(-90)" font-size="8" text-anchor="middle" font-style="normal" fill="#e01010" dominant-baseline="central">C=6</text>
<text x="0" y="0" transform="translate(505.20,65.40) rotate(-90)" font-size="8" text-anchor="middle" font-style="normal" fill="#1010ee" dominant-baseline="central">C=5</text>
<text x="0" y="0" transform="translate(524.50,68.90) rotate(-90)" font-size="8" text-anchor="middle" font-style="normal" fill="#e01010" dominant-baseline="central">C=6</text>
<text x="0" y="0" transform="translate(547.50,85.70) rotate(-90)" font-size="8" text-anchor="middle" font-style="normal" fill="#e01010" dominant-baseline="central">C=2</text>
<defs><linearGradient id="cbar" x1="0" x2="0" y1="0" y2="1"><stop offset="0" stop-color="#fcffa4"/><stop offset="0.050000000000000044" stop-color="#f7d13d"/><stop offset="0.12" stop-color="#fb9b06"/><stop offset="0.25" stop-color="#ed6925"/><stop offset="0.37" stop-color="#cf4446"/><stop offset="0.5" stop-color="#a52c60"/><stop offset="0.62" stop-color="#781c6d"/><stop offset="0.75" stop-color="#4a0c6b"/><stop offset="0.87" stop-color="#1b0c41"/><stop offset="1" stop-color="#000004"/></linearGradient><filter id="glow" x="-50%" y="-50%" width="200%" height="200%"><feGaussianBlur stdDeviation="1.6"/></filter><filter id="glow2" x="-50%" y="-50%" width="200%" height="200%"><feGaussianBlur stdDeviation="0.9"/></filter><filter id="soft" x="-10%" y="-10%" width="120%" height="120%"><feGaussianBlur stdDeviation="0.35"/></filter></defs>
<clipPath id="hc0"><rect x="22.90" y="128.90" width="91.50" height="91.50"/></clipPath>
<rect x="22.90" y="128.90" width="91.50" height="91.50" fill="#000004"/>
<g clip-path="url(#hc0)">
<g fill="none" stroke="#4b1580" stroke-width="4.5" opacity="0.75" filter="url(#glow)"><path d="M124.15,94.35L136.15,94.35"/><path d="M119.65,102.14L125.65,112.54"/><path d="M110.65,102.14L104.65,112.54"/><path d="M106.15,94.35L94.15,94.35"/><path d="M110.65,86.56L104.65,76.16"/><path d="M119.65,86.56L125.65,76.16"/><path d="M31.15,94.35L43.15,94.35"/><path d="M26.65,102.14L32.65,112.54"/><path d="M17.65,102.14L11.65,112.54"/><path d="M13.15,94.35L1.15,94.35"/><path d="M17.65,86.56L11.65,76.16"/><path d="M26.65,86.56L32.65,76.16"/><path d="M77.65,121.20L89.65,121.20"/><path d="M73.15,128.99L79.15,139.39"/><path d="M64.15,128.99L58.15,139.39"/><path d="M59.65,121.20L47.65,121.20"/><path d="M64.15,113.41L58.15,103.01"/><path d="M73.15,113.41L79.15,103.01"/><path d="M124.15,148.05L136.15,148.05"/><path d="M119.65,155.84L125.65,166.24"/><path d="M110.65,155.84L104.65,166.24"/><path d="M106.15,148.05L94.15,148.05"/><path d="M110.65,140.26L104.65,129.86"/><path d="M119.65,140.26L125.65,129.86"/><path d="M31.15,148.05L43.15,148.05"/><path d="M26.65,155.84L32.65,166.24"/><path d="M17.65,155.84L11.65,166.24"/><path d="M13.15,148.05L1.15,148.05"/><path d="M17.65,140.26L11.65,129.86"/><path d="M26.65,140.26L32.65,129.86"/><path d="M77.65,174.90L89.65,174.90"/><path d="M73.15,182.69L79.15,193.09"/><path d="M64.15,182.69L58.15,193.09"/><path d="M59.65,174.90L47.65,174.90"/><path d="M64.15,167.11L58.15,156.71"/><path d="M73.15,167.11L79.15,156.71"/><path d="M124.15,201.75L136.15,201.75"/><path d="M119.65,209.54L125.65,219.94"/><path d="M110.65,209.54L104.65,219.94"/><path d="M106.15,201.75L94.15,201.75"/><path d="M110.65,193.96L104.65,183.56"/><path d="M119.65,193.96L125.65,183.56"/><path d="M31.15,201.75L43.15,201.75"/><path d="M26.65,209.54L32.65,219.94"/><path d="M17.65,209.54L11.65,219.94"/><path d="M13.15,201.75L1.15,201.75"/><path d="M17.65,193.96L11.65,183.56"/><path d="M26.65,193.96L32.65,183.56"/><path d="M77.65,228.60L89.65,228.60"/><path d="M73.15,236.39L79.15,246.79"/><path d="M64.15,236.39L58.15,246.79"/><path d="M59.65,228.60L47.65,228.60"/><path d="M64.15,220.81L58.15,210.41"/><path d="M73.15,220.81L79.15,210.41"/><path d="M124.15,255.45L136.15,255.45"/><path d="M119.65,263.24L125.65,273.64"/><path d="M110.65,263.24L104.65,273.64"/><path d="M106.15,255.45L94.15,255.45"/><path d="M110.65,247.66L104.65,237.26"/><path d="M119.65,247.66L125.65,237.26"/><path d="M31.15,255.45L43.15,255.45"/><path d="M26.65,263.24L32.65,273.64"/><path d="M17.65,263.24L11.65,273.64"/><path d="M13.15,255.45L1.15,255.45"/><path d="M17.65,247.66L11.65,237.26"/><path d="M26.65,247.66L32.65,237.26"/></g>
<g fill="none" stroke="#5a1a7a" stroke-width="3" opacity="0.6" filter="url(#glow2)"><ellipse cx="0" cy="0" rx="20.0" ry="4.0" transform="translate(115.15,94.35) rotate(90)"/><ellipse cx="0" cy="0" rx="20.0" ry="4.0" transform="translate(115.15,94.35) rotate(30)"/><ellipse cx="0" cy="0" rx="20.0" ry="4.0" transform="translate(115.15,94.35) rotate(150)"/><ellipse cx="0" cy="0" rx="20.0" ry="4.0" transform="translate(22.15,94.35) rotate(90)"/><ellipse cx="0" cy="0" rx="20.0" ry="4.0" transform="translate(22.15,94.35) rotate(30)"/><ellipse cx="0" cy="0" rx="20.0" ry="4.0" transform="translate(22.15,94.35) rotate(150)"/><ellipse cx="0" cy="0" rx="20.0" ry="4.0" transform="translate(68.65,121.20) rotate(90)"/><ellipse cx="0" cy="0" rx="20.0" ry="4.0" transform="translate(68.65,121.20) rotate(30)"/><ellipse cx="0" cy="0" rx="20.0" ry="4.0" transform="translate(68.65,121.20) rotate(150)"/><ellipse cx="0" cy="0" rx="20.0" ry="4.0" transform="translate(115.15,148.05) rotate(90)"/><ellipse cx="0" cy="0" rx="20.0" ry="4.0" transform="translate(115.15,148.05) rotate(30)"/><ellipse cx="0" cy="0" rx="20.0" ry="4.0" transform="translate(115.15,148.05) rotate(150)"/><ellipse cx="0" cy="0" rx="20.0" ry="4.0" transform="translate(22.15,148.05) rotate(90)"/><ellipse cx="0" cy="0" rx="20.0" ry="4.0" transform="translate(22.15,148.05) rotate(30)"/><ellipse cx="0" cy="0" rx="20.0" ry="4.0" transform="translate(22.15,148.05) rotate(150)"/><ellipse cx="0" cy="0" rx="20.0" ry="4.0" transform="translate(68.65,174.90) rotate(90)"/><ellipse cx="0" cy="0" rx="20.0" ry="4.0" transform="translate(68.65,174.90) rotate(30)"/><ellipse cx="0" cy="0" rx="20.0" ry="4.0" transform="translate(68.65,174.90) rotate(150)"/><ellipse cx="0" cy="0" rx="20.0" ry="4.0" transform="translate(115.15,201.75) rotate(90)"/><ellipse cx="0" cy="0" rx="20.0" ry="4.0" transform="translate(115.15,201.75) rotate(30)"/><ellipse cx="0" cy="0" rx="20.0" ry="4.0" transform="translate(115.15,201.75) rotate(150)"/><ellipse cx="0" cy="0" rx="20.0" ry="4.0" transform="translate(22.15,201.75) rotate(90)"/><ellipse cx="0" cy="0" rx="20.0" ry="4.0" transform="translate(22.15,201.75) rotate(30)"/><ellipse cx="0" cy="0" rx="20.0" ry="4.0" transform="translate(22.15,201.75) rotate(150)"/><ellipse cx="0" cy="0" rx="20.0" ry="4.0" transform="translate(68.65,228.60) rotate(90)"/><ellipse cx="0" cy="0" rx="20.0" ry="4.0" transform="translate(68.65,228.60) rotate(30)"/><ellipse cx="0" cy="0" rx="20.0" ry="4.0" transform="translate(68.65,228.60) rotate(150)"/><ellipse cx="0" cy="0" rx="20.0" ry="4.0" transform="translate(115.15,255.45) rotate(90)"/><ellipse cx="0" cy="0" rx="20.0" ry="4.0" transform="translate(115.15,255.45) rotate(30)"/><ellipse cx="0" cy="0" rx="20.0" ry="4.0" transform="translate(115.15,255.45) rotate(150)"/><ellipse cx="0" cy="0" rx="20.0" ry="4.0" transform="translate(22.15,255.45) rotate(90)"/><ellipse cx="0" cy="0" rx="20.0" ry="4.0" transform="translate(22.15,255.45) rotate(30)"/><ellipse cx="0" cy="0" rx="20.0" ry="4.0" transform="translate(22.15,255.45) rotate(150)"/></g>
<g fill="none" stroke="#8a2a8a" stroke-width="5" opacity="0.7" filter="url(#glow)"><path d="M-1.75,253.43 Q1.75,255.45 -1.75,257.47 L-10.65,262.61 Q-14.15,264.63 -14.15,260.59 L-14.15,250.31 Q-14.15,246.27 -10.65,248.29 Z"/><path d="M151.45,260.59 Q151.45,264.63 147.95,262.61 L139.05,257.47 Q135.55,255.45 139.05,253.43 L147.95,248.29 Q151.45,246.27 151.45,250.31 Z"/><path d="M58.45,260.59 Q58.45,264.63 54.95,262.61 L46.05,257.47 Q42.55,255.45 46.05,253.43 L54.95,248.29 Q58.45,246.27 58.45,250.31 Z"/><path d="M44.75,226.58 Q48.25,228.60 44.75,230.62 L35.85,235.76 Q32.35,237.78 32.35,233.74 L32.35,223.46 Q32.35,219.42 35.85,221.44 Z"/><path d="M-1.75,199.73 Q1.75,201.75 -1.75,203.77 L-10.65,208.91 Q-14.15,210.93 -14.15,206.89 L-14.15,196.61 Q-14.15,192.57 -10.65,194.59 Z"/><path d="M44.75,119.18 Q48.25,121.20 44.75,123.22 L35.85,128.36 Q32.35,130.38 32.35,126.34 L32.35,116.06 Q32.35,112.02 35.85,114.04 Z"/><path d="M11.95,72.64 Q11.95,76.68 8.45,74.66 L-0.45,69.52 Q-3.95,67.50 -0.45,65.48 L8.45,60.34 Q11.95,58.32 11.95,62.36 Z"/><path d="M137.75,226.58 Q141.25,228.60 137.75,230.62 L128.85,235.76 Q125.35,237.78 125.35,233.74 L125.35,223.46 Q125.35,219.42 128.85,221.44 Z"/><path d="M137.75,119.18 Q141.25,121.20 137.75,123.22 L128.85,128.36 Q125.35,130.38 125.35,126.34 L125.35,116.06 Q125.35,112.02 128.85,114.04 Z"/><path d="M44.75,280.28 Q48.25,282.30 44.75,284.32 L35.85,289.46 Q32.35,291.48 32.35,287.44 L32.35,277.16 Q32.35,273.12 35.85,275.14 Z"/><path d="M91.25,92.33 Q94.75,94.35 91.25,96.37 L82.35,101.51 Q78.85,103.53 78.85,99.49 L78.85,89.21 Q78.85,85.17 82.35,87.19 Z"/><path d="M58.45,206.89 Q58.45,210.93 54.95,208.91 L46.05,203.77 Q42.55,201.75 46.05,199.73 L54.95,194.59 Q58.45,192.57 58.45,196.61 Z"/><path d="M104.95,233.74 Q104.95,237.78 101.45,235.76 L92.55,230.62 Q89.05,228.60 92.55,226.58 L101.45,221.44 Q104.95,219.42 104.95,223.46 Z"/><path d="M44.75,172.88 Q48.25,174.90 44.75,176.92 L35.85,182.06 Q32.35,184.08 32.35,180.04 L32.35,169.76 Q32.35,165.72 35.85,167.74 Z"/><path d="M151.45,206.89 Q151.45,210.93 147.95,208.91 L139.05,203.77 Q135.55,201.75 139.05,199.73 L147.95,194.59 Q151.45,192.57 151.45,196.61 Z"/><path d="M11.95,233.74 Q11.95,237.78 8.45,235.76 L-0.45,230.62 Q-3.95,228.60 -0.45,226.58 L8.45,221.44 Q11.95,219.42 11.95,223.46 Z"/><path d="M104.95,287.44 Q104.95,291.48 101.45,289.46 L92.55,284.32 Q89.05,282.30 92.55,280.28 L101.45,275.14 Q104.95,273.12 104.95,277.16 Z"/><path d="M104.95,126.34 Q104.95,130.38 101.45,128.36 L92.55,123.22 Q89.05,121.20 92.55,119.18 L101.45,114.04 Q104.95,112.02 104.95,116.06 Z"/><path d="M137.75,280.28 Q141.25,282.30 137.75,284.32 L128.85,289.46 Q125.35,291.48 125.35,287.44 L125.35,277.16 Q125.35,273.12 128.85,275.14 Z"/><path d="M91.25,146.03 Q94.75,148.05 91.25,150.07 L82.35,155.21 Q78.85,157.23 78.85,153.19 L78.85,142.91 Q78.85,138.87 82.35,140.89 Z"/><path d="M-1.75,92.33 Q1.75,94.35 -1.75,96.37 L-10.65,101.51 Q-14.15,103.53 -14.15,99.49 L-14.15,89.21 Q-14.15,85.17 -10.65,87.19 Z"/><path d="M11.95,287.44 Q11.95,291.48 8.45,289.46 L-0.45,284.32 Q-3.95,282.30 -0.45,280.28 L8.45,275.14 Q11.95,273.12 11.95,277.16 Z"/><path d="M11.95,126.34 Q11.95,130.38 8.45,128.36 L-0.45,123.22 Q-3.95,121.20 -0.45,119.18 L8.45,114.04 Q11.95,112.02 11.95,116.06 Z"/><path d="M151.45,99.49 Q151.45,103.53 147.95,101.51 L139.05,96.37 Q135.55,94.35 139.05,92.33 L147.95,87.19 Q151.45,85.17 151.45,89.21 Z"/><path d="M104.95,180.04 Q104.95,184.08 101.45,182.06 L92.55,176.92 Q89.05,174.90 92.55,172.88 L101.45,167.74 Q104.95,165.72 104.95,169.76 Z"/><path d="M137.75,172.88 Q141.25,174.90 137.75,176.92 L128.85,182.06 Q125.35,184.08 125.35,180.04 L125.35,169.76 Q125.35,165.72 128.85,167.74 Z"/><path d="M58.45,99.49 Q58.45,103.53 54.95,101.51 L46.05,96.37 Q42.55,94.35 46.05,92.33 L54.95,87.19 Q58.45,85.17 58.45,89.21 Z"/><path d="M-1.75,146.03 Q1.75,148.05 -1.75,150.07 L-10.65,155.21 Q-14.15,157.23 -14.15,153.19 L-14.15,142.91 Q-14.15,138.87 -10.65,140.89 Z"/><path d="M44.75,65.48 Q48.25,67.50 44.75,69.52 L35.85,74.66 Q32.35,76.68 32.35,72.64 L32.35,62.36 Q32.35,58.32 35.85,60.34 Z"/><path d="M11.95,180.04 Q11.95,184.08 8.45,182.06 L-0.45,176.92 Q-3.95,174.90 -0.45,172.88 L8.45,167.74 Q11.95,165.72 11.95,169.76 Z"/><path d="M91.25,253.43 Q94.75,255.45 91.25,257.47 L82.35,262.61 Q78.85,264.63 78.85,260.59 L78.85,250.31 Q78.85,246.27 82.35,248.29 Z"/><path d="M151.45,153.19 Q151.45,157.23 147.95,155.21 L139.05,150.07 Q135.55,148.05 139.05,146.03 L147.95,140.89 Q151.45,138.87 151.45,142.91 Z"/><path d="M91.25,199.73 Q94.75,201.75 91.25,203.77 L82.35,208.91 Q78.85,210.93 78.85,206.89 L78.85,196.61 Q78.85,192.57 82.35,194.59 Z"/><path d="M58.45,153.19 Q58.45,157.23 54.95,155.21 L46.05,150.07 Q42.55,148.05 46.05,146.03 L54.95,140.89 Q58.45,138.87 58.45,142.91 Z"/><path d="M137.75,65.48 Q141.25,67.50 137.75,69.52 L128.85,74.66 Q125.35,76.68 125.35,72.64 L125.35,62.36 Q125.35,58.32 128.85,60.34 Z"/><path d="M104.95,72.64 Q104.95,76.68 101.45,74.66 L92.55,69.52 Q89.05,67.50 92.55,65.48 L101.45,60.34 Q104.95,58.32 104.95,62.36 Z"/></g>
<g fill="none" stroke="#e0626e" stroke-width="1.1"><ellipse cx="0" cy="0" rx="20.0" ry="4.0" transform="translate(115.15,94.35) rotate(90)"/><ellipse cx="0" cy="0" rx="20.0" ry="4.0" transform="translate(115.15,94.35) rotate(30)"/><ellipse cx="0" cy="0" rx="20.0" ry="4.0" transform="translate(115.15,94.35) rotate(150)"/><ellipse cx="0" cy="0" rx="20.0" ry="4.0" transform="translate(22.15,94.35) rotate(90)"/><ellipse cx="0" cy="0" rx="20.0" ry="4.0" transform="translate(22.15,94.35) rotate(30)"/><ellipse cx="0" cy="0" rx="20.0" ry="4.0" transform="translate(22.15,94.35) rotate(150)"/><ellipse cx="0" cy="0" rx="20.0" ry="4.0" transform="translate(68.65,121.20) rotate(90)"/><ellipse cx="0" cy="0" rx="20.0" ry="4.0" transform="translate(68.65,121.20) rotate(30)"/><ellipse cx="0" cy="0" rx="20.0" ry="4.0" transform="translate(68.65,121.20) rotate(150)"/><ellipse cx="0" cy="0" rx="20.0" ry="4.0" transform="translate(115.15,148.05) rotate(90)"/><ellipse cx="0" cy="0" rx="20.0" ry="4.0" transform="translate(115.15,148.05) rotate(30)"/><ellipse cx="0" cy="0" rx="20.0" ry="4.0" transform="translate(115.15,148.05) rotate(150)"/><ellipse cx="0" cy="0" rx="20.0" ry="4.0" transform="translate(22.15,148.05) rotate(90)"/><ellipse cx="0" cy="0" rx="20.0" ry="4.0" transform="translate(22.15,148.05) rotate(30)"/><ellipse cx="0" cy="0" rx="20.0" ry="4.0" transform="translate(22.15,148.05) rotate(150)"/><ellipse cx="0" cy="0" rx="20.0" ry="4.0" transform="translate(68.65,174.90) rotate(90)"/><ellipse cx="0" cy="0" rx="20.0" ry="4.0" transform="translate(68.65,174.90) rotate(30)"/><ellipse cx="0" cy="0" rx="20.0" ry="4.0" transform="translate(68.65,174.90) rotate(150)"/><ellipse cx="0" cy="0" rx="20.0" ry="4.0" transform="translate(115.15,201.75) rotate(90)"/><ellipse cx="0" cy="0" rx="20.0" ry="4.0" transform="translate(115.15,201.75) rotate(30)"/><ellipse cx="0" cy="0" rx="20.0" ry="4.0" transform="translate(115.15,201.75) rotate(150)"/><ellipse cx="0" cy="0" rx="20.0" ry="4.0" transform="translate(22.15,201.75) rotate(90)"/><ellipse cx="0" cy="0" rx="20.0" ry="4.0" transform="translate(22.15,201.75) rotate(30)"/><ellipse cx="0" cy="0" rx="20.0" ry="4.0" transform="translate(22.15,201.75) rotate(150)"/><ellipse cx="0" cy="0" rx="20.0" ry="4.0" transform="translate(68.65,228.60) rotate(90)"/><ellipse cx="0" cy="0" rx="20.0" ry="4.0" transform="translate(68.65,228.60) rotate(30)"/><ellipse cx="0" cy="0" rx="20.0" ry="4.0" transform="translate(68.65,228.60) rotate(150)"/><ellipse cx="0" cy="0" rx="20.0" ry="4.0" transform="translate(115.15,255.45) rotate(90)"/><ellipse cx="0" cy="0" rx="20.0" ry="4.0" transform="translate(115.15,255.45) rotate(30)"/><ellipse cx="0" cy="0" rx="20.0" ry="4.0" transform="translate(115.15,255.45) rotate(150)"/><ellipse cx="0" cy="0" rx="20.0" ry="4.0" transform="translate(22.15,255.45) rotate(90)"/><ellipse cx="0" cy="0" rx="20.0" ry="4.0" transform="translate(22.15,255.45) rotate(30)"/><ellipse cx="0" cy="0" rx="20.0" ry="4.0" transform="translate(22.15,255.45) rotate(150)"/></g>
<g fill="none" stroke="#f98c1e" stroke-width="1.45"><path d="M-1.75,253.43 Q1.75,255.45 -1.75,257.47 L-10.65,262.61 Q-14.15,264.63 -14.15,260.59 L-14.15,250.31 Q-14.15,246.27 -10.65,248.29 Z"/><path d="M151.45,260.59 Q151.45,264.63 147.95,262.61 L139.05,257.47 Q135.55,255.45 139.05,253.43 L147.95,248.29 Q151.45,246.27 151.45,250.31 Z"/><path d="M58.45,260.59 Q58.45,264.63 54.95,262.61 L46.05,257.47 Q42.55,255.45 46.05,253.43 L54.95,248.29 Q58.45,246.27 58.45,250.31 Z"/><path d="M44.75,226.58 Q48.25,228.60 44.75,230.62 L35.85,235.76 Q32.35,237.78 32.35,233.74 L32.35,223.46 Q32.35,219.42 35.85,221.44 Z"/><path d="M-1.75,199.73 Q1.75,201.75 -1.75,203.77 L-10.65,208.91 Q-14.15,210.93 -14.15,206.89 L-14.15,196.61 Q-14.15,192.57 -10.65,194.59 Z"/><path d="M44.75,119.18 Q48.25,121.20 44.75,123.22 L35.85,128.36 Q32.35,130.38 32.35,126.34 L32.35,116.06 Q32.35,112.02 35.85,114.04 Z"/><path d="M11.95,72.64 Q11.95,76.68 8.45,74.66 L-0.45,69.52 Q-3.95,67.50 -0.45,65.48 L8.45,60.34 Q11.95,58.32 11.95,62.36 Z"/><path d="M137.75,226.58 Q141.25,228.60 137.75,230.62 L128.85,235.76 Q125.35,237.78 125.35,233.74 L125.35,223.46 Q125.35,219.42 128.85,221.44 Z"/><path d="M137.75,119.18 Q141.25,121.20 137.75,123.22 L128.85,128.36 Q125.35,130.38 125.35,126.34 L125.35,116.06 Q125.35,112.02 128.85,114.04 Z"/><path d="M44.75,280.28 Q48.25,282.30 44.75,284.32 L35.85,289.46 Q32.35,291.48 32.35,287.44 L32.35,277.16 Q32.35,273.12 35.85,275.14 Z"/><path d="M91.25,92.33 Q94.75,94.35 91.25,96.37 L82.35,101.51 Q78.85,103.53 78.85,99.49 L78.85,89.21 Q78.85,85.17 82.35,87.19 Z"/><path d="M58.45,206.89 Q58.45,210.93 54.95,208.91 L46.05,203.77 Q42.55,201.75 46.05,199.73 L54.95,194.59 Q58.45,192.57 58.45,196.61 Z"/><path d="M104.95,233.74 Q104.95,237.78 101.45,235.76 L92.55,230.62 Q89.05,228.60 92.55,226.58 L101.45,221.44 Q104.95,219.42 104.95,223.46 Z"/><path d="M44.75,172.88 Q48.25,174.90 44.75,176.92 L35.85,182.06 Q32.35,184.08 32.35,180.04 L32.35,169.76 Q32.35,165.72 35.85,167.74 Z"/><path d="M151.45,206.89 Q151.45,210.93 147.95,208.91 L139.05,203.77 Q135.55,201.75 139.05,199.73 L147.95,194.59 Q151.45,192.57 151.45,196.61 Z"/><path d="M11.95,233.74 Q11.95,237.78 8.45,235.76 L-0.45,230.62 Q-3.95,228.60 -0.45,226.58 L8.45,221.44 Q11.95,219.42 11.95,223.46 Z"/><path d="M104.95,287.44 Q104.95,291.48 101.45,289.46 L92.55,284.32 Q89.05,282.30 92.55,280.28 L101.45,275.14 Q104.95,273.12 104.95,277.16 Z"/><path d="M104.95,126.34 Q104.95,130.38 101.45,128.36 L92.55,123.22 Q89.05,121.20 92.55,119.18 L101.45,114.04 Q104.95,112.02 104.95,116.06 Z"/><path d="M137.75,280.28 Q141.25,282.30 137.75,284.32 L128.85,289.46 Q125.35,291.48 125.35,287.44 L125.35,277.16 Q125.35,273.12 128.85,275.14 Z"/><path d="M91.25,146.03 Q94.75,148.05 91.25,150.07 L82.35,155.21 Q78.85,157.23 78.85,153.19 L78.85,142.91 Q78.85,138.87 82.35,140.89 Z"/><path d="M-1.75,92.33 Q1.75,94.35 -1.75,96.37 L-10.65,101.51 Q-14.15,103.53 -14.15,99.49 L-14.15,89.21 Q-14.15,85.17 -10.65,87.19 Z"/><path d="M11.95,287.44 Q11.95,291.48 8.45,289.46 L-0.45,284.32 Q-3.95,282.30 -0.45,280.28 L8.45,275.14 Q11.95,273.12 11.95,277.16 Z"/><path d="M11.95,126.34 Q11.95,130.38 8.45,128.36 L-0.45,123.22 Q-3.95,121.20 -0.45,119.18 L8.45,114.04 Q11.95,112.02 11.95,116.06 Z"/><path d="M151.45,99.49 Q151.45,103.53 147.95,101.51 L139.05,96.37 Q135.55,94.35 139.05,92.33 L147.95,87.19 Q151.45,85.17 151.45,89.21 Z"/><path d="M104.95,180.04 Q104.95,184.08 101.45,182.06 L92.55,176.92 Q89.05,174.90 92.55,172.88 L101.45,167.74 Q104.95,165.72 104.95,169.76 Z"/><path d="M137.75,172.88 Q141.25,174.90 137.75,176.92 L128.85,182.06 Q125.35,184.08 125.35,180.04 L125.35,169.76 Q125.35,165.72 128.85,167.74 Z"/><path d="M58.45,99.49 Q58.45,103.53 54.95,101.51 L46.05,96.37 Q42.55,94.35 46.05,92.33 L54.95,87.19 Q58.45,85.17 58.45,89.21 Z"/><path d="M-1.75,146.03 Q1.75,148.05 -1.75,150.07 L-10.65,155.21 Q-14.15,157.23 -14.15,153.19 L-14.15,142.91 Q-14.15,138.87 -10.65,140.89 Z"/><path d="M44.75,65.48 Q48.25,67.50 44.75,69.52 L35.85,74.66 Q32.35,76.68 32.35,72.64 L32.35,62.36 Q32.35,58.32 35.85,60.34 Z"/><path d="M11.95,180.04 Q11.95,184.08 8.45,182.06 L-0.45,176.92 Q-3.95,174.90 -0.45,172.88 L8.45,167.74 Q11.95,165.72 11.95,169.76 Z"/><path d="M91.25,253.43 Q94.75,255.45 91.25,257.47 L82.35,262.61 Q78.85,264.63 78.85,260.59 L78.85,250.31 Q78.85,246.27 82.35,248.29 Z"/><path d="M151.45,153.19 Q151.45,157.23 147.95,155.21 L139.05,150.07 Q135.55,148.05 139.05,146.03 L147.95,140.89 Q151.45,138.87 151.45,142.91 Z"/><path d="M91.25,199.73 Q94.75,201.75 91.25,203.77 L82.35,208.91 Q78.85,210.93 78.85,206.89 L78.85,196.61 Q78.85,192.57 82.35,194.59 Z"/><path d="M58.45,153.19 Q58.45,157.23 54.95,155.21 L46.05,150.07 Q42.55,148.05 46.05,146.03 L54.95,140.89 Q58.45,138.87 58.45,142.91 Z"/><path d="M137.75,65.48 Q141.25,67.50 137.75,69.52 L128.85,74.66 Q125.35,76.68 125.35,72.64 L125.35,62.36 Q125.35,58.32 128.85,60.34 Z"/><path d="M104.95,72.64 Q104.95,76.68 101.45,74.66 L92.55,69.52 Q89.05,67.50 92.55,65.48 L101.45,60.34 Q104.95,58.32 104.95,62.36 Z"/></g>
<g fill="none" stroke="#fcb83e" stroke-width="1.1"><path d="M-3.29,253.87 Q-0.55,255.45 -3.29,257.03 L-10.26,261.06 Q-13.00,262.64 -13.00,259.48 L-13.00,251.42 Q-13.00,248.26 -10.26,249.84 Z"/><path d="M150.30,259.48 Q150.30,262.64 147.56,261.06 L140.59,257.03 Q137.85,255.45 140.59,253.87 L147.56,249.84 Q150.30,248.26 150.30,251.42 Z"/><path d="M57.30,259.48 Q57.30,262.64 54.56,261.06 L47.59,257.03 Q44.85,255.45 47.59,253.87 L54.56,249.84 Q57.30,248.26 57.30,251.42 Z"/><path d="M43.21,227.02 Q45.95,228.60 43.21,230.18 L36.24,234.21 Q33.50,235.79 33.50,232.63 L33.50,224.57 Q33.50,221.41 36.24,222.99 Z"/><path d="M-3.29,200.17 Q-0.55,201.75 -3.29,203.33 L-10.26,207.36 Q-13.00,208.94 -13.00,205.78 L-13.00,197.72 Q-13.00,194.56 -10.26,196.14 Z"/><path d="M43.21,119.62 Q45.95,121.20 43.21,122.78 L36.24,126.81 Q33.50,128.39 33.50,125.23 L33.50,117.17 Q33.50,114.01 36.24,115.59 Z"/><path d="M10.80,71.53 Q10.80,74.69 8.06,73.11 L1.09,69.08 Q-1.65,67.50 1.09,65.92 L8.06,61.89 Q10.80,60.31 10.80,63.47 Z"/><path d="M136.21,227.02 Q138.95,228.60 136.21,230.18 L129.24,234.21 Q126.50,235.79 126.50,232.63 L126.50,224.57 Q126.50,221.41 129.24,222.99 Z"/><path d="M136.21,119.62 Q138.95,121.20 136.21,122.78 L129.24,126.81 Q126.50,128.39 126.50,125.23 L126.50,117.17 Q126.50,114.01 129.24,115.59 Z"/><path d="M43.21,280.72 Q45.95,282.30 43.21,283.88 L36.24,287.91 Q33.50,289.49 33.50,286.33 L33.50,278.27 Q33.50,275.11 36.24,276.69 Z"/><path d="M89.71,92.77 Q92.45,94.35 89.71,95.93 L82.74,99.96 Q80.00,101.54 80.00,98.38 L80.00,90.32 Q80.00,87.16 82.74,88.74 Z"/><path d="M57.30,205.78 Q57.30,208.94 54.56,207.36 L47.59,203.33 Q44.85,201.75 47.59,200.17 L54.56,196.14 Q57.30,194.56 57.30,197.72 Z"/><path d="M103.80,232.63 Q103.80,235.79 101.06,234.21 L94.09,230.18 Q91.35,228.60 94.09,227.02 L101.06,222.99 Q103.80,221.41 103.80,224.57 Z"/><path d="M43.21,173.32 Q45.95,174.90 43.21,176.48 L36.24,180.51 Q33.50,182.09 33.50,178.93 L33.50,170.87 Q33.50,167.71 36.24,169.29 Z"/><path d="M150.30,205.78 Q150.30,208.94 147.56,207.36 L140.59,203.33 Q137.85,201.75 140.59,200.17 L147.56,196.14 Q150.30,194.56 150.30,197.72 Z"/><path d="M10.80,232.63 Q10.80,235.79 8.06,234.21 L1.09,230.18 Q-1.65,228.60 1.09,227.02 L8.06,222.99 Q10.80,221.41 10.80,224.57 Z"/><path d="M103.80,286.33 Q103.80,289.49 101.06,287.91 L94.09,283.88 Q91.35,282.30 94.09,280.72 L101.06,276.69 Q103.80,275.11 103.80,278.27 Z"/><path d="M103.80,125.23 Q103.80,128.39 101.06,126.81 L94.09,122.78 Q91.35,121.20 94.09,119.62 L101.06,115.59 Q103.80,114.01 103.80,117.17 Z"/><path d="M136.21,280.72 Q138.95,282.30 136.21,283.88 L129.24,287.91 Q126.50,289.49 126.50,286.33 L126.50,278.27 Q126.50,275.11 129.24,276.69 Z"/><path d="M89.71,146.47 Q92.45,148.05 89.71,149.63 L82.74,153.66 Q80.00,155.24 80.00,152.08 L80.00,144.02 Q80.00,140.86 82.74,142.44 Z"/><path d="M-3.29,92.77 Q-0.55,94.35 -3.29,95.93 L-10.26,99.96 Q-13.00,101.54 -13.00,98.38 L-13.00,90.32 Q-13.00,87.16 -10.26,88.74 Z"/><path d="M10.80,286.33 Q10.80,289.49 8.06,287.91 L1.09,283.88 Q-1.65,282.30 1.09,280.72 L8.06,276.69 Q10.80,275.11 10.80,278.27 Z"/><path d="M10.80,125.23 Q10.80,128.39 8.06,126.81 L1.09,122.78 Q-1.65,121.20 1.09,119.62 L8.06,115.59 Q10.80,114.01 10.80,117.17 Z"/><path d="M150.30,98.38 Q150.30,101.54 147.56,99.96 L140.59,95.93 Q137.85,94.35 140.59,92.77 L147.56,88.74 Q150.30,87.16 150.30,90.32 Z"/><path d="M103.80,178.93 Q103.80,182.09 101.06,180.51 L94.09,176.48 Q91.35,174.90 94.09,173.32 L101.06,169.29 Q103.80,167.71 103.80,170.87 Z"/><path d="M136.21,173.32 Q138.95,174.90 136.21,176.48 L129.24,180.51 Q126.50,182.09 126.50,178.93 L126.50,170.87 Q126.50,167.71 129.24,169.29 Z"/><path d="M57.30,98.38 Q57.30,101.54 54.56,99.96 L47.59,95.93 Q44.85,94.35 47.59,92.77 L54.56,88.74 Q57.30,87.16 57.30,90.32 Z"/><path d="M-3.29,146.47 Q-0.55,148.05 -3.29,149.63 L-10.26,153.66 Q-13.00,155.24 -13.00,152.08 L-13.00,144.02 Q-13.00,140.86 -10.26,142.44 Z"/><path d="M43.21,65.92 Q45.95,67.50 43.21,69.08 L36.24,73.11 Q33.50,74.69 33.50,71.53 L33.50,63.47 Q33.50,60.31 36.24,61.89 Z"/><path d="M10.80,178.93 Q10.80,182.09 8.06,180.51 L1.09,176.48 Q-1.65,174.90 1.09,173.32 L8.06,169.29 Q10.80,167.71 10.80,170.87 Z"/><path d="M89.71,253.87 Q92.45,255.45 89.71,257.03 L82.74,261.06 Q80.00,262.64 80.00,259.48 L80.00,251.42 Q80.00,248.26 82.74,249.84 Z"/><path d="M150.30,152.08 Q150.30,155.24 147.56,153.66 L140.59,149.63 Q137.85,148.05 140.59,146.47 L147.56,142.44 Q150.30,140.86 150.30,144.02 Z"/><path d="M89.71,200.17 Q92.45,201.75 89.71,203.33 L82.74,207.36 Q80.00,208.94 80.00,205.78 L80.00,197.72 Q80.00,194.56 82.74,196.14 Z"/><path d="M57.30,152.08 Q57.30,155.24 54.56,153.66 L47.59,149.63 Q44.85,148.05 47.59,146.47 L54.56,142.44 Q57.30,140.86 57.30,144.02 Z"/><path d="M136.21,65.92 Q138.95,67.50 136.21,69.08 L129.24,73.11 Q126.50,74.69 126.50,71.53 L126.50,63.47 Q126.50,60.31 129.24,61.89 Z"/><path d="M103.80,71.53 Q103.80,74.69 101.06,73.11 L94.09,69.08 Q91.35,67.50 94.09,65.92 L101.06,61.89 Q103.80,60.31 103.80,63.47 Z"/></g>
<path d="M99.65,174.90 L84.15,201.75 L53.15,201.75 L37.65,174.90 L53.15,148.05 L84.15,148.05Z" fill="none" stroke="#fff" stroke-width="1.1" stroke-dasharray="3,1.3"/>
<text x="85.0" y="147.6" font-size="6" fill="#fff">K'</text>
<text x="93.4" y="163.5" font-size="6" fill="#fff">M</text>
<text x="94.2" y="176.7" font-size="6" fill="#fff">K</text>
</g>
<text x="9.00" y="131.20" font-size="8" text-anchor="start" font-weight="bold" font-style="normal" fill="#000" >(f)</text>
<text x="11.00" y="152.80" font-size="8" text-anchor="middle" font-weight="normal" font-style="normal" fill="#000" >max</text>
<rect x="9.00" y="155.2" width="2.7" height="47.6" fill="url(#cbar)"/>
<text x="10.40" y="210.30" font-size="7.4" text-anchor="middle" font-weight="normal" font-style="normal" fill="#000" >0</text>
<text transform="translate(4.70,173.3) rotate(-90)" font-size="6.6" text-anchor="middle" dominant-baseline="central" font-style="italic">A(k, ω)</text>
<text x="14.60" y="183" font-size="9.5">k<tspan font-size="7" dy="1.8">y</tspan></text>
<text x="69.85" y="229.3" font-size="10.5" text-anchor="middle">k<tspan font-size="7.5" dy="1.8">x</tspan></text>
<clipPath id="hc1"><rect x="139.20" y="128.90" width="91.40" height="91.50"/></clipPath>
<rect x="139.20" y="128.90" width="91.40" height="91.50" fill="#000004"/>
<g clip-path="url(#hc1)">
<g fill="#3a1070" opacity="0.7" filter="url(#glow)"><circle cx="241.20" cy="121.50" r="5"/><circle cx="148.20" cy="175.20" r="5"/><circle cx="148.20" cy="282.60" r="5"/><circle cx="120.20" cy="170.00" r="5"/><circle cx="166.70" cy="196.85" r="5"/><circle cx="120.20" cy="277.40" r="5"/><circle cx="120.20" cy="223.70" r="5"/><circle cx="120.20" cy="62.60" r="5"/><circle cx="101.70" cy="94.65" r="5"/><circle cx="194.70" cy="202.05" r="5"/><circle cx="194.70" cy="94.65" r="5"/><circle cx="259.70" cy="143.15" r="5"/><circle cx="101.70" cy="255.75" r="5"/><circle cx="166.70" cy="89.45" r="5"/><circle cx="148.20" cy="121.50" r="5"/><circle cx="259.70" cy="196.85" r="5"/><circle cx="120.20" cy="116.30" r="5"/><circle cx="241.20" cy="67.80" r="5"/><circle cx="213.20" cy="223.70" r="5"/><circle cx="241.20" cy="175.20" r="5"/><circle cx="259.70" cy="89.45" r="5"/><circle cx="194.70" cy="255.75" r="5"/><circle cx="213.20" cy="62.60" r="5"/><circle cx="241.20" cy="228.90" r="5"/><circle cx="241.20" cy="282.60" r="5"/><circle cx="213.20" cy="170.00" r="5"/><circle cx="166.70" cy="250.55" r="5"/><circle cx="213.20" cy="277.40" r="5"/><circle cx="101.70" cy="148.35" r="5"/><circle cx="259.70" cy="250.55" r="5"/><circle cx="148.20" cy="228.90" r="5"/><circle cx="148.20" cy="67.80" r="5"/><circle cx="166.70" cy="143.15" r="5"/><circle cx="101.70" cy="202.05" r="5"/><circle cx="213.20" cy="116.30" r="5"/><circle cx="194.70" cy="148.35" r="5"/></g>
<g fill="none" stroke="#5a1a7a" stroke-width="3" opacity="0.5" filter="url(#glow2)"><ellipse cx="0" cy="0" rx="25.5" ry="4.8" transform="translate(231.70,94.65) rotate(90)"/><ellipse cx="0" cy="0" rx="25.5" ry="4.8" transform="translate(231.70,94.65) rotate(30)"/><ellipse cx="0" cy="0" rx="25.5" ry="4.8" transform="translate(231.70,94.65) rotate(150)"/><ellipse cx="0" cy="0" rx="25.5" ry="4.8" transform="translate(138.70,94.65) rotate(90)"/><ellipse cx="0" cy="0" rx="25.5" ry="4.8" transform="translate(138.70,94.65) rotate(30)"/><ellipse cx="0" cy="0" rx="25.5" ry="4.8" transform="translate(138.70,94.65) rotate(150)"/><ellipse cx="0" cy="0" rx="25.5" ry="4.8" transform="translate(185.20,121.50) rotate(90)"/><ellipse cx="0" cy="0" rx="25.5" ry="4.8" transform="translate(185.20,121.50) rotate(30)"/><ellipse cx="0" cy="0" rx="25.5" ry="4.8" transform="translate(185.20,121.50) rotate(150)"/><ellipse cx="0" cy="0" rx="25.5" ry="4.8" transform="translate(231.70,148.35) rotate(90)"/><ellipse cx="0" cy="0" rx="25.5" ry="4.8" transform="translate(231.70,148.35) rotate(30)"/><ellipse cx="0" cy="0" rx="25.5" ry="4.8" transform="translate(231.70,148.35) rotate(150)"/><ellipse cx="0" cy="0" rx="25.5" ry="4.8" transform="translate(138.70,148.35) rotate(90)"/><ellipse cx="0" cy="0" rx="25.5" ry="4.8" transform="translate(138.70,148.35) rotate(30)"/><ellipse cx="0" cy="0" rx="25.5" ry="4.8" transform="translate(138.70,148.35) rotate(150)"/><ellipse cx="0" cy="0" rx="25.5" ry="4.8" transform="translate(185.20,175.20) rotate(90)"/><ellipse cx="0" cy="0" rx="25.5" ry="4.8" transform="translate(185.20,175.20) rotate(30)"/><ellipse cx="0" cy="0" rx="25.5" ry="4.8" transform="translate(185.20,175.20) rotate(150)"/><ellipse cx="0" cy="0" rx="25.5" ry="4.8" transform="translate(231.70,202.05) rotate(90)"/><ellipse cx="0" cy="0" rx="25.5" ry="4.8" transform="translate(231.70,202.05) rotate(30)"/><ellipse cx="0" cy="0" rx="25.5" ry="4.8" transform="translate(231.70,202.05) rotate(150)"/><ellipse cx="0" cy="0" rx="25.5" ry="4.8" transform="translate(138.70,202.05) rotate(90)"/><ellipse cx="0" cy="0" rx="25.5" ry="4.8" transform="translate(138.70,202.05) rotate(30)"/><ellipse cx="0" cy="0" rx="25.5" ry="4.8" transform="translate(138.70,202.05) rotate(150)"/><ellipse cx="0" cy="0" rx="25.5" ry="4.8" transform="translate(185.20,228.90) rotate(90)"/><ellipse cx="0" cy="0" rx="25.5" ry="4.8" transform="translate(185.20,228.90) rotate(30)"/><ellipse cx="0" cy="0" rx="25.5" ry="4.8" transform="translate(185.20,228.90) rotate(150)"/><ellipse cx="0" cy="0" rx="25.5" ry="4.8" transform="translate(231.70,255.75) rotate(90)"/><ellipse cx="0" cy="0" rx="25.5" ry="4.8" transform="translate(231.70,255.75) rotate(30)"/><ellipse cx="0" cy="0" rx="25.5" ry="4.8" transform="translate(231.70,255.75) rotate(150)"/><ellipse cx="0" cy="0" rx="25.5" ry="4.8" transform="translate(138.70,255.75) rotate(90)"/><ellipse cx="0" cy="0" rx="25.5" ry="4.8" transform="translate(138.70,255.75) rotate(30)"/><ellipse cx="0" cy="0" rx="25.5" ry="4.8" transform="translate(138.70,255.75) rotate(150)"/></g>
<g fill="none" stroke="#dc6470" stroke-width="0.9"><ellipse cx="0" cy="0" rx="25.5" ry="4.8" transform="translate(231.70,94.65) rotate(90)"/><ellipse cx="0" cy="0" rx="25.5" ry="4.8" transform="translate(231.70,94.65) rotate(30)"/><ellipse cx="0" cy="0" rx="25.5" ry="4.8" transform="translate(231.70,94.65) rotate(150)"/><ellipse cx="0" cy="0" rx="25.5" ry="4.8" transform="translate(138.70,94.65) rotate(90)"/><ellipse cx="0" cy="0" rx="25.5" ry="4.8" transform="translate(138.70,94.65) rotate(30)"/><ellipse cx="0" cy="0" rx="25.5" ry="4.8" transform="translate(138.70,94.65) rotate(150)"/><ellipse cx="0" cy="0" rx="25.5" ry="4.8" transform="translate(185.20,121.50) rotate(90)"/><ellipse cx="0" cy="0" rx="25.5" ry="4.8" transform="translate(185.20,121.50) rotate(30)"/><ellipse cx="0" cy="0" rx="25.5" ry="4.8" transform="translate(185.20,121.50) rotate(150)"/><ellipse cx="0" cy="0" rx="25.5" ry="4.8" transform="translate(231.70,148.35) rotate(90)"/><ellipse cx="0" cy="0" rx="25.5" ry="4.8" transform="translate(231.70,148.35) rotate(30)"/><ellipse cx="0" cy="0" rx="25.5" ry="4.8" transform="translate(231.70,148.35) rotate(150)"/><ellipse cx="0" cy="0" rx="25.5" ry="4.8" transform="translate(138.70,148.35) rotate(90)"/><ellipse cx="0" cy="0" rx="25.5" ry="4.8" transform="translate(138.70,148.35) rotate(30)"/><ellipse cx="0" cy="0" rx="25.5" ry="4.8" transform="translate(138.70,148.35) rotate(150)"/><ellipse cx="0" cy="0" rx="25.5" ry="4.8" transform="translate(185.20,175.20) rotate(90)"/><ellipse cx="0" cy="0" rx="25.5" ry="4.8" transform="translate(185.20,175.20) rotate(30)"/><ellipse cx="0" cy="0" rx="25.5" ry="4.8" transform="translate(185.20,175.20) rotate(150)"/><ellipse cx="0" cy="0" rx="25.5" ry="4.8" transform="translate(231.70,202.05) rotate(90)"/><ellipse cx="0" cy="0" rx="25.5" ry="4.8" transform="translate(231.70,202.05) rotate(30)"/><ellipse cx="0" cy="0" rx="25.5" ry="4.8" transform="translate(231.70,202.05) rotate(150)"/><ellipse cx="0" cy="0" rx="25.5" ry="4.8" transform="translate(138.70,202.05) rotate(90)"/><ellipse cx="0" cy="0" rx="25.5" ry="4.8" transform="translate(138.70,202.05) rotate(30)"/><ellipse cx="0" cy="0" rx="25.5" ry="4.8" transform="translate(138.70,202.05) rotate(150)"/><ellipse cx="0" cy="0" rx="25.5" ry="4.8" transform="translate(185.20,228.90) rotate(90)"/><ellipse cx="0" cy="0" rx="25.5" ry="4.8" transform="translate(185.20,228.90) rotate(30)"/><ellipse cx="0" cy="0" rx="25.5" ry="4.8" transform="translate(185.20,228.90) rotate(150)"/><ellipse cx="0" cy="0" rx="25.5" ry="4.8" transform="translate(231.70,255.75) rotate(90)"/><ellipse cx="0" cy="0" rx="25.5" ry="4.8" transform="translate(231.70,255.75) rotate(30)"/><ellipse cx="0" cy="0" rx="25.5" ry="4.8" transform="translate(231.70,255.75) rotate(150)"/><ellipse cx="0" cy="0" rx="25.5" ry="4.8" transform="translate(138.70,255.75) rotate(90)"/><ellipse cx="0" cy="0" rx="25.5" ry="4.8" transform="translate(138.70,255.75) rotate(30)"/><ellipse cx="0" cy="0" rx="25.5" ry="4.8" transform="translate(138.70,255.75) rotate(150)"/></g>
<g fill="none" stroke="#f4882a" stroke-width="1.1"><path d="M252.15,119.16 Q256.20,121.50 252.15,123.84 L246.75,126.96 Q242.70,129.29 242.70,124.62 L242.70,118.38 Q242.70,113.71 246.75,116.04 Z"/><path d="M159.15,172.86 Q163.20,175.20 159.15,177.54 L153.75,180.66 Q149.70,182.99 149.70,178.32 L149.70,172.08 Q149.70,167.41 153.75,169.74 Z"/><path d="M159.15,280.26 Q163.20,282.60 159.15,284.94 L153.75,288.06 Q149.70,290.39 149.70,285.72 L149.70,279.48 Q149.70,274.81 153.75,277.14 Z"/><path d="M127.70,178.32 Q127.70,182.99 123.65,180.66 L118.25,177.54 Q114.20,175.20 118.25,172.86 L123.65,169.74 Q127.70,167.41 127.70,172.08 Z"/><path d="M174.20,205.17 Q174.20,209.84 170.15,207.51 L164.75,204.39 Q160.70,202.05 164.75,199.71 L170.15,196.59 Q174.20,194.26 174.20,198.93 Z"/><path d="M127.70,285.72 Q127.70,290.39 123.65,288.06 L118.25,284.94 Q114.20,282.60 118.25,280.26 L123.65,277.14 Q127.70,274.81 127.70,279.48 Z"/><path d="M127.70,232.02 Q127.70,236.69 123.65,234.36 L118.25,231.24 Q114.20,228.90 118.25,226.56 L123.65,223.44 Q127.70,221.11 127.70,225.78 Z"/><path d="M127.70,70.92 Q127.70,75.59 123.65,73.26 L118.25,70.14 Q114.20,67.80 118.25,65.46 L123.65,62.34 Q127.70,60.01 127.70,64.68 Z"/><path d="M112.65,92.31 Q116.70,94.65 112.65,96.99 L107.25,100.11 Q103.20,102.44 103.20,97.77 L103.20,91.53 Q103.20,86.86 107.25,89.19 Z"/><path d="M205.65,199.71 Q209.70,202.05 205.65,204.39 L200.25,207.51 Q196.20,209.84 196.20,205.17 L196.20,198.93 Q196.20,194.26 200.25,196.59 Z"/><path d="M205.65,92.31 Q209.70,94.65 205.65,96.99 L200.25,100.11 Q196.20,102.44 196.20,97.77 L196.20,91.53 Q196.20,86.86 200.25,89.19 Z"/><path d="M267.20,151.47 Q267.20,156.14 263.15,153.81 L257.75,150.69 Q253.70,148.35 257.75,146.01 L263.15,142.89 Q267.20,140.56 267.20,145.23 Z"/><path d="M112.65,253.41 Q116.70,255.75 112.65,258.09 L107.25,261.21 Q103.20,263.54 103.20,258.87 L103.20,252.63 Q103.20,247.96 107.25,250.29 Z"/><path d="M174.20,97.77 Q174.20,102.44 170.15,100.11 L164.75,96.99 Q160.70,94.65 164.75,92.31 L170.15,89.19 Q174.20,86.86 174.20,91.53 Z"/><path d="M159.15,119.16 Q163.20,121.50 159.15,123.84 L153.75,126.96 Q149.70,129.29 149.70,124.62 L149.70,118.38 Q149.70,113.71 153.75,116.04 Z"/><path d="M267.20,205.17 Q267.20,209.84 263.15,207.51 L257.75,204.39 Q253.70,202.05 257.75,199.71 L263.15,196.59 Q267.20,194.26 267.20,198.93 Z"/><path d="M127.70,124.62 Q127.70,129.29 123.65,126.96 L118.25,123.84 Q114.20,121.50 118.25,119.16 L123.65,116.04 Q127.70,113.71 127.70,118.38 Z"/><path d="M252.15,65.46 Q256.20,67.80 252.15,70.14 L246.75,73.26 Q242.70,75.59 242.70,70.92 L242.70,64.68 Q242.70,60.01 246.75,62.34 Z"/><path d="M220.70,232.02 Q220.70,236.69 216.65,234.36 L211.25,231.24 Q207.20,228.90 211.25,226.56 L216.65,223.44 Q220.70,221.11 220.70,225.78 Z"/><path d="M252.15,172.86 Q256.20,175.20 252.15,177.54 L246.75,180.66 Q242.70,182.99 242.70,178.32 L242.70,172.08 Q242.70,167.41 246.75,169.74 Z"/><path d="M267.20,97.77 Q267.20,102.44 263.15,100.11 L257.75,96.99 Q253.70,94.65 257.75,92.31 L263.15,89.19 Q267.20,86.86 267.20,91.53 Z"/><path d="M205.65,253.41 Q209.70,255.75 205.65,258.09 L200.25,261.21 Q196.20,263.54 196.20,258.87 L196.20,252.63 Q196.20,247.96 200.25,250.29 Z"/><path d="M220.70,70.92 Q220.70,75.59 216.65,73.26 L211.25,70.14 Q207.20,67.80 211.25,65.46 L216.65,62.34 Q220.70,60.01 220.70,64.68 Z"/><path d="M252.15,226.56 Q256.20,228.90 252.15,231.24 L246.75,234.36 Q242.70,236.69 242.70,232.02 L242.70,225.78 Q242.70,221.11 246.75,223.44 Z"/><path d="M252.15,280.26 Q256.20,282.60 252.15,284.94 L246.75,288.06 Q242.70,290.39 242.70,285.72 L242.70,279.48 Q242.70,274.81 246.75,277.14 Z"/><path d="M220.70,178.32 Q220.70,182.99 216.65,180.66 L211.25,177.54 Q207.20,175.20 211.25,172.86 L216.65,169.74 Q220.70,167.41 220.70,172.08 Z"/><path d="M174.20,258.87 Q174.20,263.54 170.15,261.21 L164.75,258.09 Q160.70,255.75 164.75,253.41 L170.15,250.29 Q174.20,247.96 174.20,252.63 Z"/><path d="M220.70,285.72 Q220.70,290.39 216.65,288.06 L211.25,284.94 Q207.20,282.60 211.25,280.26 L216.65,277.14 Q220.70,274.81 220.70,279.48 Z"/><path d="M112.65,146.01 Q116.70,148.35 112.65,150.69 L107.25,153.81 Q103.20,156.14 103.20,151.47 L103.20,145.23 Q103.20,140.56 107.25,142.89 Z"/><path d="M267.20,258.87 Q267.20,263.54 263.15,261.21 L257.75,258.09 Q253.70,255.75 257.75,253.41 L263.15,250.29 Q267.20,247.96 267.20,252.63 Z"/><path d="M159.15,226.56 Q163.20,228.90 159.15,231.24 L153.75,234.36 Q149.70,236.69 149.70,232.02 L149.70,225.78 Q149.70,221.11 153.75,223.44 Z"/><path d="M159.15,65.46 Q163.20,67.80 159.15,70.14 L153.75,73.26 Q149.70,75.59 149.70,70.92 L149.70,64.68 Q149.70,60.01 153.75,62.34 Z"/><path d="M174.20,151.47 Q174.20,156.14 170.15,153.81 L164.75,150.69 Q160.70,148.35 164.75,146.01 L170.15,142.89 Q174.20,140.56 174.20,145.23 Z"/><path d="M112.65,199.71 Q116.70,202.05 112.65,204.39 L107.25,207.51 Q103.20,209.84 103.20,205.17 L103.20,198.93 Q103.20,194.26 107.25,196.59 Z"/><path d="M220.70,124.62 Q220.70,129.29 216.65,126.96 L211.25,123.84 Q207.20,121.50 211.25,119.16 L216.65,116.04 Q220.70,113.71 220.70,118.38 Z"/><path d="M205.65,146.01 Q209.70,148.35 205.65,150.69 L200.25,153.81 Q196.20,156.14 196.20,151.47 L196.20,145.23 Q196.20,140.56 200.25,142.89 Z"/></g>
<g fill="none" stroke="#f79a30" stroke-width="1.0"><path d="M250.50,119.94 Q253.20,121.50 250.50,123.06 L246.90,125.14 Q244.20,126.70 244.20,123.58 L244.20,119.42 Q244.20,116.30 246.90,117.86 Z"/><path d="M157.50,173.64 Q160.20,175.20 157.50,176.76 L153.90,178.84 Q151.20,180.40 151.20,177.28 L151.20,173.12 Q151.20,170.00 153.90,171.56 Z"/><path d="M157.50,281.04 Q160.20,282.60 157.50,284.16 L153.90,286.24 Q151.20,287.80 151.20,284.68 L151.20,280.52 Q151.20,277.40 153.90,278.96 Z"/><path d="M126.20,177.28 Q126.20,180.40 123.50,178.84 L119.90,176.76 Q117.20,175.20 119.90,173.64 L123.50,171.56 Q126.20,170.00 126.20,173.12 Z"/><path d="M172.70,204.13 Q172.70,207.25 170.00,205.69 L166.40,203.61 Q163.70,202.05 166.40,200.49 L170.00,198.41 Q172.70,196.85 172.70,199.97 Z"/><path d="M126.20,284.68 Q126.20,287.80 123.50,286.24 L119.90,284.16 Q117.20,282.60 119.90,281.04 L123.50,278.96 Q126.20,277.40 126.20,280.52 Z"/><path d="M126.20,230.98 Q126.20,234.10 123.50,232.54 L119.90,230.46 Q117.20,228.90 119.90,227.34 L123.50,225.26 Q126.20,223.70 126.20,226.82 Z"/><path d="M126.20,69.88 Q126.20,73.00 123.50,71.44 L119.90,69.36 Q117.20,67.80 119.90,66.24 L123.50,64.16 Q126.20,62.60 126.20,65.72 Z"/><path d="M111.00,93.09 Q113.70,94.65 111.00,96.21 L107.40,98.29 Q104.70,99.85 104.70,96.73 L104.70,92.57 Q104.70,89.45 107.40,91.01 Z"/><path d="M204.00,200.49 Q206.70,202.05 204.00,203.61 L200.40,205.69 Q197.70,207.25 197.70,204.13 L197.70,199.97 Q197.70,196.85 200.40,198.41 Z"/><path d="M204.00,93.09 Q206.70,94.65 204.00,96.21 L200.40,98.29 Q197.70,99.85 197.70,96.73 L197.70,92.57 Q197.70,89.45 200.40,91.01 Z"/><path d="M265.70,150.43 Q265.70,153.55 263.00,151.99 L259.40,149.91 Q256.70,148.35 259.40,146.79 L263.00,144.71 Q265.70,143.15 265.70,146.27 Z"/><path d="M111.00,254.19 Q113.70,255.75 111.00,257.31 L107.40,259.39 Q104.70,260.95 104.70,257.83 L104.70,253.67 Q104.70,250.55 107.40,252.11 Z"/><path d="M172.70,96.73 Q172.70,99.85 170.00,98.29 L166.40,96.21 Q163.70,94.65 166.40,93.09 L170.00,91.01 Q172.70,89.45 172.70,92.57 Z"/><path d="M157.50,119.94 Q160.20,121.50 157.50,123.06 L153.90,125.14 Q151.20,126.70 151.20,123.58 L151.20,119.42 Q151.20,116.30 153.90,117.86 Z"/><path d="M265.70,204.13 Q265.70,207.25 263.00,205.69 L259.40,203.61 Q256.70,202.05 259.40,200.49 L263.00,198.41 Q265.70,196.85 265.70,199.97 Z"/><path d="M126.20,123.58 Q126.20,126.70 123.50,125.14 L119.90,123.06 Q117.20,121.50 119.90,119.94 L123.50,117.86 Q126.20,116.30 126.20,119.42 Z"/><path d="M250.50,66.24 Q253.20,67.80 250.50,69.36 L246.90,71.44 Q244.20,73.00 244.20,69.88 L244.20,65.72 Q244.20,62.60 246.90,64.16 Z"/><path d="M219.20,230.98 Q219.20,234.10 216.50,232.54 L212.90,230.46 Q210.20,228.90 212.90,227.34 L216.50,225.26 Q219.20,223.70 219.20,226.82 Z"/><path d="M250.50,173.64 Q253.20,175.20 250.50,176.76 L246.90,178.84 Q244.20,180.40 244.20,177.28 L244.20,173.12 Q244.20,170.00 246.90,171.56 Z"/><path d="M265.70,96.73 Q265.70,99.85 263.00,98.29 L259.40,96.21 Q256.70,94.65 259.40,93.09 L263.00,91.01 Q265.70,89.45 265.70,92.57 Z"/><path d="M204.00,254.19 Q206.70,255.75 204.00,257.31 L200.40,259.39 Q197.70,260.95 197.70,257.83 L197.70,253.67 Q197.70,250.55 200.40,252.11 Z"/><path d="M219.20,69.88 Q219.20,73.00 216.50,71.44 L212.90,69.36 Q210.20,67.80 212.90,66.24 L216.50,64.16 Q219.20,62.60 219.20,65.72 Z"/><path d="M250.50,227.34 Q253.20,228.90 250.50,230.46 L246.90,232.54 Q244.20,234.10 244.20,230.98 L244.20,226.82 Q244.20,223.70 246.90,225.26 Z"/><path d="M250.50,281.04 Q253.20,282.60 250.50,284.16 L246.90,286.24 Q244.20,287.80 244.20,284.68 L244.20,280.52 Q244.20,277.40 246.90,278.96 Z"/><path d="M219.20,177.28 Q219.20,180.40 216.50,178.84 L212.90,176.76 Q210.20,175.20 212.90,173.64 L216.50,171.56 Q219.20,170.00 219.20,173.12 Z"/><path d="M172.70,257.83 Q172.70,260.95 170.00,259.39 L166.40,257.31 Q163.70,255.75 166.40,254.19 L170.00,252.11 Q172.70,250.55 172.70,253.67 Z"/><path d="M219.20,284.68 Q219.20,287.80 216.50,286.24 L212.90,284.16 Q210.20,282.60 212.90,281.04 L216.50,278.96 Q219.20,277.40 219.20,280.52 Z"/><path d="M111.00,146.79 Q113.70,148.35 111.00,149.91 L107.40,151.99 Q104.70,153.55 104.70,150.43 L104.70,146.27 Q104.70,143.15 107.40,144.71 Z"/><path d="M265.70,257.83 Q265.70,260.95 263.00,259.39 L259.40,257.31 Q256.70,255.75 259.40,254.19 L263.00,252.11 Q265.70,250.55 265.70,253.67 Z"/><path d="M157.50,227.34 Q160.20,228.90 157.50,230.46 L153.90,232.54 Q151.20,234.10 151.20,230.98 L151.20,226.82 Q151.20,223.70 153.90,225.26 Z"/><path d="M157.50,66.24 Q160.20,67.80 157.50,69.36 L153.90,71.44 Q151.20,73.00 151.20,69.88 L151.20,65.72 Q151.20,62.60 153.90,64.16 Z"/><path d="M172.70,150.43 Q172.70,153.55 170.00,151.99 L166.40,149.91 Q163.70,148.35 166.40,146.79 L170.00,144.71 Q172.70,143.15 172.70,146.27 Z"/><path d="M111.00,200.49 Q113.70,202.05 111.00,203.61 L107.40,205.69 Q104.70,207.25 104.70,204.13 L104.70,199.97 Q104.70,196.85 107.40,198.41 Z"/><path d="M219.20,123.58 Q219.20,126.70 216.50,125.14 L212.90,123.06 Q210.20,121.50 212.90,119.94 L216.50,117.86 Q219.20,116.30 219.20,119.42 Z"/><path d="M204.00,146.79 Q206.70,148.35 204.00,149.91 L200.40,151.99 Q197.70,153.55 197.70,150.43 L197.70,146.27 Q197.70,143.15 200.40,144.71 Z"/></g>
<g fill="#fde27a" filter="url(#soft)"><circle cx="244.00" cy="121.50" r="1.3"/><circle cx="151.00" cy="175.20" r="1.3"/><circle cx="151.00" cy="282.60" r="1.3"/><circle cx="121.60" cy="172.43" r="1.3"/><circle cx="168.10" cy="199.28" r="1.3"/><circle cx="121.60" cy="279.83" r="1.3"/><circle cx="121.60" cy="226.13" r="1.3"/><circle cx="121.60" cy="65.03" r="1.3"/><circle cx="104.50" cy="94.65" r="1.3"/><circle cx="197.50" cy="202.05" r="1.3"/><circle cx="197.50" cy="94.65" r="1.3"/><circle cx="261.10" cy="145.58" r="1.3"/><circle cx="104.50" cy="255.75" r="1.3"/><circle cx="168.10" cy="91.88" r="1.3"/><circle cx="151.00" cy="121.50" r="1.3"/><circle cx="261.10" cy="199.28" r="1.3"/><circle cx="121.60" cy="118.73" r="1.3"/><circle cx="244.00" cy="67.80" r="1.3"/><circle cx="214.60" cy="226.13" r="1.3"/><circle cx="244.00" cy="175.20" r="1.3"/><circle cx="261.10" cy="91.88" r="1.3"/><circle cx="197.50" cy="255.75" r="1.3"/><circle cx="214.60" cy="65.03" r="1.3"/><circle cx="244.00" cy="228.90" r="1.3"/><circle cx="244.00" cy="282.60" r="1.3"/><circle cx="214.60" cy="172.43" r="1.3"/><circle cx="168.10" cy="252.98" r="1.3"/><circle cx="214.60" cy="279.83" r="1.3"/><circle cx="104.50" cy="148.35" r="1.3"/><circle cx="261.10" cy="252.98" r="1.3"/><circle cx="151.00" cy="228.90" r="1.3"/><circle cx="151.00" cy="67.80" r="1.3"/><circle cx="168.10" cy="145.58" r="1.3"/><circle cx="104.50" cy="202.05" r="1.3"/><circle cx="214.60" cy="118.73" r="1.3"/><circle cx="197.50" cy="148.35" r="1.3"/></g>
</g>
<text x="125.30" y="131.20" font-size="8" text-anchor="start" font-weight="bold" font-style="normal" fill="#000" >(g)</text>
<text x="127.30" y="152.80" font-size="8" text-anchor="middle" font-weight="normal" font-style="normal" fill="#000" >max</text>
<rect x="125.30" y="155.2" width="2.7" height="47.6" fill="url(#cbar)"/>
<text x="126.70" y="210.30" font-size="7.4" text-anchor="middle" font-weight="normal" font-style="normal" fill="#000" >0</text>
<text transform="translate(121.00,173.3) rotate(-90)" font-size="6.6" text-anchor="middle" dominant-baseline="central" font-style="italic">A(k, ω)</text>
<text x="130.90" y="183" font-size="9.5">k<tspan font-size="7" dy="1.8">y</tspan></text>
<text x="186.10" y="229.3" font-size="10.5" text-anchor="middle">k<tspan font-size="7.5" dy="1.8">x</tspan></text>
<clipPath id="hc2"><rect x="255.10" y="128.90" width="91.40" height="91.50"/></clipPath>
<rect x="255.10" y="128.90" width="91.40" height="91.50" fill="#000004"/>
<g clip-path="url(#hc2)">
<g fill="#4a1478" opacity="0.6" filter="url(#glow)"><circle cx="378.50" cy="94.65" r="4.5"/><circle cx="363.00" cy="121.50" r="4.5"/><circle cx="332.00" cy="121.50" r="4.5"/><circle cx="316.50" cy="94.65" r="4.5"/><circle cx="332.00" cy="67.80" r="4.5"/><circle cx="363.00" cy="67.80" r="4.5"/><circle cx="285.50" cy="94.65" r="4.5"/><circle cx="270.00" cy="121.50" r="4.5"/><circle cx="239.00" cy="121.50" r="4.5"/><circle cx="223.50" cy="94.65" r="4.5"/><circle cx="239.00" cy="67.80" r="4.5"/><circle cx="270.00" cy="67.80" r="4.5"/><circle cx="332.00" cy="121.50" r="4.5"/><circle cx="316.50" cy="148.35" r="4.5"/><circle cx="285.50" cy="148.35" r="4.5"/><circle cx="270.00" cy="121.50" r="4.5"/><circle cx="285.50" cy="94.65" r="4.5"/><circle cx="316.50" cy="94.65" r="4.5"/><circle cx="378.50" cy="148.35" r="4.5"/><circle cx="363.00" cy="175.20" r="4.5"/><circle cx="332.00" cy="175.20" r="4.5"/><circle cx="316.50" cy="148.35" r="4.5"/><circle cx="332.00" cy="121.50" r="4.5"/><circle cx="363.00" cy="121.50" r="4.5"/><circle cx="285.50" cy="148.35" r="4.5"/><circle cx="270.00" cy="175.20" r="4.5"/><circle cx="239.00" cy="175.20" r="4.5"/><circle cx="223.50" cy="148.35" r="4.5"/><circle cx="239.00" cy="121.50" r="4.5"/><circle cx="270.00" cy="121.50" r="4.5"/><circle cx="332.00" cy="175.20" r="4.5"/><circle cx="316.50" cy="202.05" r="4.5"/><circle cx="285.50" cy="202.05" r="4.5"/><circle cx="270.00" cy="175.20" r="4.5"/><circle cx="285.50" cy="148.35" r="4.5"/><circle cx="316.50" cy="148.35" r="4.5"/><circle cx="378.50" cy="202.05" r="4.5"/><circle cx="363.00" cy="228.90" r="4.5"/><circle cx="332.00" cy="228.90" r="4.5"/><circle cx="316.50" cy="202.05" r="4.5"/><circle cx="332.00" cy="175.20" r="4.5"/><circle cx="363.00" cy="175.20" r="4.5"/><circle cx="285.50" cy="202.05" r="4.5"/><circle cx="270.00" cy="228.90" r="4.5"/><circle cx="239.00" cy="228.90" r="4.5"/><circle cx="223.50" cy="202.05" r="4.5"/><circle cx="239.00" cy="175.20" r="4.5"/><circle cx="270.00" cy="175.20" r="4.5"/><circle cx="332.00" cy="228.90" r="4.5"/><circle cx="316.50" cy="255.75" r="4.5"/><circle cx="285.50" cy="255.75" r="4.5"/><circle cx="270.00" cy="228.90" r="4.5"/><circle cx="285.50" cy="202.05" r="4.5"/><circle cx="316.50" cy="202.05" r="4.5"/><circle cx="378.50" cy="255.75" r="4.5"/><circle cx="363.00" cy="282.60" r="4.5"/><circle cx="332.00" cy="282.60" r="4.5"/><circle cx="316.50" cy="255.75" r="4.5"/><circle cx="332.00" cy="228.90" r="4.5"/><circle cx="363.00" cy="228.90" r="4.5"/><circle cx="285.50" cy="255.75" r="4.5"/><circle cx="270.00" cy="282.60" r="4.5"/><circle cx="239.00" cy="282.60" r="4.5"/><circle cx="223.50" cy="255.75" r="4.5"/><circle cx="239.00" cy="228.90" r="4.5"/><circle cx="270.00" cy="228.90" r="4.5"/></g>
<g fill="none" stroke="#5a1a7a" stroke-width="3" opacity="0.5" filter="url(#glow2)"><ellipse cx="0" cy="0" rx="25.0" ry="6.0" transform="translate(347.50,94.65) rotate(98)"/><ellipse cx="0" cy="0" rx="25.0" ry="6.0" transform="translate(347.50,94.65) rotate(38)"/><ellipse cx="0" cy="0" rx="25.0" ry="6.0" transform="translate(347.50,94.65) rotate(158)"/><ellipse cx="0" cy="0" rx="25.0" ry="6.0" transform="translate(254.50,94.65) rotate(98)"/><ellipse cx="0" cy="0" rx="25.0" ry="6.0" transform="translate(254.50,94.65) rotate(38)"/><ellipse cx="0" cy="0" rx="25.0" ry="6.0" transform="translate(254.50,94.65) rotate(158)"/><ellipse cx="0" cy="0" rx="25.0" ry="6.0" transform="translate(301.00,121.50) rotate(98)"/><ellipse cx="0" cy="0" rx="25.0" ry="6.0" transform="translate(301.00,121.50) rotate(38)"/><ellipse cx="0" cy="0" rx="25.0" ry="6.0" transform="translate(301.00,121.50) rotate(158)"/><ellipse cx="0" cy="0" rx="25.0" ry="6.0" transform="translate(347.50,148.35) rotate(98)"/><ellipse cx="0" cy="0" rx="25.0" ry="6.0" transform="translate(347.50,148.35) rotate(38)"/><ellipse cx="0" cy="0" rx="25.0" ry="6.0" transform="translate(347.50,148.35) rotate(158)"/><ellipse cx="0" cy="0" rx="25.0" ry="6.0" transform="translate(254.50,148.35) rotate(98)"/><ellipse cx="0" cy="0" rx="25.0" ry="6.0" transform="translate(254.50,148.35) rotate(38)"/><ellipse cx="0" cy="0" rx="25.0" ry="6.0" transform="translate(254.50,148.35) rotate(158)"/><ellipse cx="0" cy="0" rx="25.0" ry="6.0" transform="translate(301.00,175.20) rotate(98)"/><ellipse cx="0" cy="0" rx="25.0" ry="6.0" transform="translate(301.00,175.20) rotate(38)"/><ellipse cx="0" cy="0" rx="25.0" ry="6.0" transform="translate(301.00,175.20) rotate(158)"/><ellipse cx="0" cy="0" rx="25.0" ry="6.0" transform="translate(347.50,202.05) rotate(98)"/><ellipse cx="0" cy="0" rx="25.0" ry="6.0" transform="translate(347.50,202.05) rotate(38)"/><ellipse cx="0" cy="0" rx="25.0" ry="6.0" transform="translate(347.50,202.05) rotate(158)"/><ellipse cx="0" cy="0" rx="25.0" ry="6.0" transform="translate(254.50,202.05) rotate(98)"/><ellipse cx="0" cy="0" rx="25.0" ry="6.0" transform="translate(254.50,202.05) rotate(38)"/><ellipse cx="0" cy="0" rx="25.0" ry="6.0" transform="translate(254.50,202.05) rotate(158)"/><ellipse cx="0" cy="0" rx="25.0" ry="6.0" transform="translate(301.00,228.90) rotate(98)"/><ellipse cx="0" cy="0" rx="25.0" ry="6.0" transform="translate(301.00,228.90) rotate(38)"/><ellipse cx="0" cy="0" rx="25.0" ry="6.0" transform="translate(301.00,228.90) rotate(158)"/><ellipse cx="0" cy="0" rx="25.0" ry="6.0" transform="translate(347.50,255.75) rotate(98)"/><ellipse cx="0" cy="0" rx="25.0" ry="6.0" transform="translate(347.50,255.75) rotate(38)"/><ellipse cx="0" cy="0" rx="25.0" ry="6.0" transform="translate(347.50,255.75) rotate(158)"/><ellipse cx="0" cy="0" rx="25.0" ry="6.0" transform="translate(254.50,255.75) rotate(98)"/><ellipse cx="0" cy="0" rx="25.0" ry="6.0" transform="translate(254.50,255.75) rotate(38)"/><ellipse cx="0" cy="0" rx="25.0" ry="6.0" transform="translate(254.50,255.75) rotate(158)"/></g>
<g fill="none" stroke="#dc6470" stroke-width="0.9"><ellipse cx="0" cy="0" rx="25.0" ry="6.0" transform="translate(347.50,94.65) rotate(98)"/><ellipse cx="0" cy="0" rx="25.0" ry="6.0" transform="translate(347.50,94.65) rotate(38)"/><ellipse cx="0" cy="0" rx="25.0" ry="6.0" transform="translate(347.50,94.65) rotate(158)"/><ellipse cx="0" cy="0" rx="25.0" ry="6.0" transform="translate(254.50,94.65) rotate(98)"/><ellipse cx="0" cy="0" rx="25.0" ry="6.0" transform="translate(254.50,94.65) rotate(38)"/><ellipse cx="0" cy="0" rx="25.0" ry="6.0" transform="translate(254.50,94.65) rotate(158)"/><ellipse cx="0" cy="0" rx="25.0" ry="6.0" transform="translate(301.00,121.50) rotate(98)"/><ellipse cx="0" cy="0" rx="25.0" ry="6.0" transform="translate(301.00,121.50) rotate(38)"/><ellipse cx="0" cy="0" rx="25.0" ry="6.0" transform="translate(301.00,121.50) rotate(158)"/><ellipse cx="0" cy="0" rx="25.0" ry="6.0" transform="translate(347.50,148.35) rotate(98)"/><ellipse cx="0" cy="0" rx="25.0" ry="6.0" transform="translate(347.50,148.35) rotate(38)"/><ellipse cx="0" cy="0" rx="25.0" ry="6.0" transform="translate(347.50,148.35) rotate(158)"/><ellipse cx="0" cy="0" rx="25.0" ry="6.0" transform="translate(254.50,148.35) rotate(98)"/><ellipse cx="0" cy="0" rx="25.0" ry="6.0" transform="translate(254.50,148.35) rotate(38)"/><ellipse cx="0" cy="0" rx="25.0" ry="6.0" transform="translate(254.50,148.35) rotate(158)"/><ellipse cx="0" cy="0" rx="25.0" ry="6.0" transform="translate(301.00,175.20) rotate(98)"/><ellipse cx="0" cy="0" rx="25.0" ry="6.0" transform="translate(301.00,175.20) rotate(38)"/><ellipse cx="0" cy="0" rx="25.0" ry="6.0" transform="translate(301.00,175.20) rotate(158)"/><ellipse cx="0" cy="0" rx="25.0" ry="6.0" transform="translate(347.50,202.05) rotate(98)"/><ellipse cx="0" cy="0" rx="25.0" ry="6.0" transform="translate(347.50,202.05) rotate(38)"/><ellipse cx="0" cy="0" rx="25.0" ry="6.0" transform="translate(347.50,202.05) rotate(158)"/><ellipse cx="0" cy="0" rx="25.0" ry="6.0" transform="translate(254.50,202.05) rotate(98)"/><ellipse cx="0" cy="0" rx="25.0" ry="6.0" transform="translate(254.50,202.05) rotate(38)"/><ellipse cx="0" cy="0" rx="25.0" ry="6.0" transform="translate(254.50,202.05) rotate(158)"/><ellipse cx="0" cy="0" rx="25.0" ry="6.0" transform="translate(301.00,228.90) rotate(98)"/><ellipse cx="0" cy="0" rx="25.0" ry="6.0" transform="translate(301.00,228.90) rotate(38)"/><ellipse cx="0" cy="0" rx="25.0" ry="6.0" transform="translate(301.00,228.90) rotate(158)"/><ellipse cx="0" cy="0" rx="25.0" ry="6.0" transform="translate(347.50,255.75) rotate(98)"/><ellipse cx="0" cy="0" rx="25.0" ry="6.0" transform="translate(347.50,255.75) rotate(38)"/><ellipse cx="0" cy="0" rx="25.0" ry="6.0" transform="translate(347.50,255.75) rotate(158)"/><ellipse cx="0" cy="0" rx="25.0" ry="6.0" transform="translate(254.50,255.75) rotate(98)"/><ellipse cx="0" cy="0" rx="25.0" ry="6.0" transform="translate(254.50,255.75) rotate(38)"/><ellipse cx="0" cy="0" rx="25.0" ry="6.0" transform="translate(254.50,255.75) rotate(158)"/></g>
<g fill="none" stroke="#f7902a" stroke-width="1.1"><path d="M381.57,96.73 Q380.31,101.41 376.88,97.98 L375.17,96.27 Q371.74,92.84 376.42,91.58 L378.77,90.96 Q383.45,89.70 382.19,94.38 Z"/><path d="M380.94,96.50 Q380.19,99.31 378.13,97.25 L377.10,96.22 Q375.04,94.16 377.85,93.41 L379.26,93.03 Q382.07,92.28 381.32,95.09 Z"/><path d="M366.33,119.88 Q369.76,123.31 365.08,124.56 L362.73,125.19 Q358.05,126.45 359.31,121.76 L359.93,119.42 Q361.19,114.74 364.62,118.16 Z"/><path d="M365.60,121.13 Q367.66,123.18 364.85,123.94 L363.44,124.31 Q360.63,125.07 361.38,122.26 L361.76,120.85 Q362.51,118.04 364.57,120.10 Z"/><path d="M335.07,123.57 Q333.81,128.26 330.38,124.83 L328.67,123.11 Q325.24,119.69 329.92,118.43 L332.27,117.80 Q336.95,116.55 335.69,121.23 Z"/><path d="M334.44,123.34 Q333.69,126.15 331.63,124.10 L330.60,123.07 Q328.54,121.01 331.35,120.26 L332.76,119.88 Q335.57,119.13 334.82,121.94 Z"/><path d="M319.83,93.03 Q323.26,96.46 318.58,97.72 L316.23,98.34 Q311.55,99.60 312.81,94.92 L313.43,92.57 Q314.69,87.89 318.12,91.32 Z"/><path d="M319.10,94.28 Q321.16,96.34 318.35,97.09 L316.94,97.47 Q314.13,98.22 314.88,95.41 L315.26,94.00 Q316.01,91.19 318.07,93.25 Z"/><path d="M335.07,69.88 Q333.81,74.56 330.38,71.14 L328.67,69.42 Q325.24,65.99 329.92,64.74 L332.27,64.11 Q336.95,62.85 335.69,67.54 Z"/><path d="M334.44,69.65 Q333.69,72.46 331.63,70.40 L330.60,69.37 Q328.54,67.32 331.35,66.56 L332.76,66.19 Q335.57,65.43 334.82,68.24 Z"/><path d="M366.33,66.19 Q369.76,69.61 365.08,70.87 L362.73,71.50 Q358.05,72.75 359.31,68.07 L359.93,65.73 Q361.19,61.04 364.62,64.47 Z"/><path d="M365.60,67.43 Q367.66,69.49 364.85,70.24 L363.44,70.62 Q360.63,71.37 361.38,68.56 L361.76,67.16 Q362.51,64.35 364.57,66.40 Z"/><ellipse cx="370.75" cy="108.08" rx="2.0" ry="2.9" transform="rotate(-20 370.75 108.08)"/><ellipse cx="324.25" cy="81.22" rx="2.0" ry="2.9" transform="rotate(-20 324.25 81.22)"/><path d="M288.57,96.73 Q287.31,101.41 283.88,97.98 L282.17,96.27 Q278.74,92.84 283.42,91.58 L285.77,90.96 Q290.45,89.70 289.19,94.38 Z"/><path d="M287.94,96.50 Q287.19,99.31 285.13,97.25 L284.10,96.22 Q282.04,94.16 284.85,93.41 L286.26,93.03 Q289.07,92.28 288.32,95.09 Z"/><path d="M273.33,119.88 Q276.76,123.31 272.08,124.56 L269.73,125.19 Q265.05,126.45 266.31,121.76 L266.93,119.42 Q268.19,114.74 271.62,118.16 Z"/><path d="M272.60,121.13 Q274.66,123.18 271.85,123.94 L270.44,124.31 Q267.63,125.07 268.38,122.26 L268.76,120.85 Q269.51,118.04 271.57,120.10 Z"/><path d="M242.07,123.57 Q240.81,128.26 237.38,124.83 L235.67,123.11 Q232.24,119.69 236.92,118.43 L239.27,117.80 Q243.95,116.55 242.69,121.23 Z"/><path d="M241.44,123.34 Q240.69,126.15 238.63,124.10 L237.60,123.07 Q235.54,121.01 238.35,120.26 L239.76,119.88 Q242.57,119.13 241.82,121.94 Z"/><path d="M226.83,93.03 Q230.26,96.46 225.58,97.72 L223.23,98.34 Q218.55,99.60 219.81,94.92 L220.43,92.57 Q221.69,87.89 225.12,91.32 Z"/><path d="M226.10,94.28 Q228.16,96.34 225.35,97.09 L223.94,97.47 Q221.13,98.22 221.88,95.41 L222.26,94.00 Q223.01,91.19 225.07,93.25 Z"/><path d="M242.07,69.88 Q240.81,74.56 237.38,71.14 L235.67,69.42 Q232.24,65.99 236.92,64.74 L239.27,64.11 Q243.95,62.85 242.69,67.54 Z"/><path d="M241.44,69.65 Q240.69,72.46 238.63,70.40 L237.60,69.37 Q235.54,67.32 238.35,66.56 L239.76,66.19 Q242.57,65.43 241.82,68.24 Z"/><path d="M273.33,66.19 Q276.76,69.61 272.08,70.87 L269.73,71.50 Q265.05,72.75 266.31,68.07 L266.93,65.73 Q268.19,61.04 271.62,64.47 Z"/><path d="M272.60,67.43 Q274.66,69.49 271.85,70.24 L270.44,70.62 Q267.63,71.37 268.38,68.56 L268.76,67.16 Q269.51,64.35 271.57,66.40 Z"/><ellipse cx="277.75" cy="108.08" rx="2.0" ry="2.9" transform="rotate(-20 277.75 108.08)"/><ellipse cx="231.25" cy="81.22" rx="2.0" ry="2.9" transform="rotate(-20 231.25 81.22)"/><path d="M335.07,123.58 Q333.81,128.26 330.38,124.83 L328.67,123.12 Q325.24,119.69 329.92,118.43 L332.27,117.81 Q336.95,116.55 335.69,121.23 Z"/><path d="M334.44,123.35 Q333.69,126.16 331.63,124.10 L330.60,123.07 Q328.54,121.01 331.35,120.26 L332.76,119.88 Q335.57,119.13 334.82,121.94 Z"/><path d="M319.83,146.73 Q323.26,150.16 318.58,151.41 L316.23,152.04 Q311.55,153.30 312.81,148.61 L313.43,146.27 Q314.69,141.59 318.12,145.01 Z"/><path d="M319.10,147.98 Q321.16,150.03 318.35,150.79 L316.94,151.16 Q314.13,151.92 314.88,149.11 L315.26,147.70 Q316.01,144.89 318.07,146.95 Z"/><path d="M288.57,150.42 Q287.31,155.11 283.88,151.68 L282.17,149.96 Q278.74,146.54 283.42,145.28 L285.77,144.65 Q290.45,143.40 289.19,148.08 Z"/><path d="M287.94,150.19 Q287.19,153.00 285.13,150.95 L284.10,149.92 Q282.04,147.86 284.85,147.11 L286.26,146.73 Q289.07,145.98 288.32,148.79 Z"/><path d="M273.33,119.88 Q276.76,123.31 272.08,124.57 L269.73,125.19 Q265.05,126.45 266.31,121.77 L266.93,119.42 Q268.19,114.74 271.62,118.17 Z"/><path d="M272.60,121.13 Q274.66,123.19 271.85,123.94 L270.44,124.32 Q267.63,125.07 268.38,122.26 L268.76,120.85 Q269.51,118.04 271.57,120.10 Z"/><path d="M288.57,96.73 Q287.31,101.41 283.88,97.99 L282.17,96.27 Q278.74,92.84 283.42,91.59 L285.77,90.96 Q290.45,89.70 289.19,94.39 Z"/><path d="M287.94,96.50 Q287.19,99.31 285.13,97.25 L284.10,96.22 Q282.04,94.17 284.85,93.41 L286.26,93.04 Q289.07,92.28 288.32,95.09 Z"/><path d="M319.83,93.04 Q323.26,96.46 318.58,97.72 L316.23,98.35 Q311.55,99.60 312.81,94.92 L313.43,92.58 Q314.69,87.89 318.12,91.32 Z"/><path d="M319.10,94.28 Q321.16,96.34 318.35,97.09 L316.94,97.47 Q314.13,98.22 314.88,95.41 L315.26,94.01 Q316.01,91.20 318.07,93.25 Z"/><ellipse cx="324.25" cy="134.93" rx="2.0" ry="2.9" transform="rotate(-20 324.25 134.93)"/><ellipse cx="277.75" cy="108.08" rx="2.0" ry="2.9" transform="rotate(-20 277.75 108.08)"/><path d="M381.57,150.43 Q380.31,155.11 376.88,151.68 L375.17,149.97 Q371.74,146.54 376.42,145.28 L378.77,144.66 Q383.45,143.40 382.19,148.08 Z"/><path d="M380.94,150.20 Q380.19,153.01 378.13,150.95 L377.10,149.92 Q375.04,147.86 377.85,147.11 L379.26,146.73 Q382.07,145.98 381.32,148.79 Z"/><path d="M366.33,173.58 Q369.76,177.01 365.08,178.26 L362.73,178.89 Q358.05,180.15 359.31,175.46 L359.93,173.12 Q361.19,168.44 364.62,171.86 Z"/><path d="M365.60,174.83 Q367.66,176.88 364.85,177.64 L363.44,178.01 Q360.63,178.77 361.38,175.96 L361.76,174.55 Q362.51,171.74 364.57,173.80 Z"/><path d="M335.07,177.27 Q333.81,181.96 330.38,178.53 L328.67,176.81 Q325.24,173.39 329.92,172.13 L332.27,171.50 Q336.95,170.25 335.69,174.93 Z"/><path d="M334.44,177.04 Q333.69,179.85 331.63,177.80 L330.60,176.77 Q328.54,174.71 331.35,173.96 L332.76,173.58 Q335.57,172.83 334.82,175.64 Z"/><path d="M319.83,146.73 Q323.26,150.16 318.58,151.42 L316.23,152.04 Q311.55,153.30 312.81,148.62 L313.43,146.27 Q314.69,141.59 318.12,145.02 Z"/><path d="M319.10,147.98 Q321.16,150.04 318.35,150.79 L316.94,151.17 Q314.13,151.92 314.88,149.11 L315.26,147.70 Q316.01,144.89 318.07,146.95 Z"/><path d="M335.07,123.58 Q333.81,128.26 330.38,124.84 L328.67,123.12 Q325.24,119.69 329.92,118.44 L332.27,117.81 Q336.95,116.55 335.69,121.24 Z"/><path d="M334.44,123.35 Q333.69,126.16 331.63,124.10 L330.60,123.07 Q328.54,121.02 331.35,120.26 L332.76,119.89 Q335.57,119.13 334.82,121.94 Z"/><path d="M366.33,119.89 Q369.76,123.31 365.08,124.57 L362.73,125.20 Q358.05,126.45 359.31,121.77 L359.93,119.43 Q361.19,114.74 364.62,118.17 Z"/><path d="M365.60,121.13 Q367.66,123.19 364.85,123.94 L363.44,124.32 Q360.63,125.07 361.38,122.26 L361.76,120.86 Q362.51,118.05 364.57,120.10 Z"/><ellipse cx="370.75" cy="161.78" rx="2.0" ry="2.9" transform="rotate(-20 370.75 161.78)"/><ellipse cx="324.25" cy="134.93" rx="2.0" ry="2.9" transform="rotate(-20 324.25 134.93)"/><path d="M288.57,150.43 Q287.31,155.11 283.88,151.68 L282.17,149.97 Q278.74,146.54 283.42,145.28 L285.77,144.66 Q290.45,143.40 289.19,148.08 Z"/><path d="M287.94,150.20 Q287.19,153.01 285.13,150.95 L284.10,149.92 Q282.04,147.86 284.85,147.11 L286.26,146.73 Q289.07,145.98 288.32,148.79 Z"/><path d="M273.33,173.58 Q276.76,177.01 272.08,178.26 L269.73,178.89 Q265.05,180.15 266.31,175.46 L266.93,173.12 Q268.19,168.44 271.62,171.86 Z"/><path d="M272.60,174.83 Q274.66,176.88 271.85,177.64 L270.44,178.01 Q267.63,178.77 268.38,175.96 L268.76,174.55 Q269.51,171.74 271.57,173.80 Z"/><path d="M242.07,177.27 Q240.81,181.96 237.38,178.53 L235.67,176.81 Q232.24,173.39 236.92,172.13 L239.27,171.50 Q243.95,170.25 242.69,174.93 Z"/><path d="M241.44,177.04 Q240.69,179.85 238.63,177.80 L237.60,176.77 Q235.54,174.71 238.35,173.96 L239.76,173.58 Q242.57,172.83 241.82,175.64 Z"/><path d="M226.83,146.73 Q230.26,150.16 225.58,151.42 L223.23,152.04 Q218.55,153.30 219.81,148.62 L220.43,146.27 Q221.69,141.59 225.12,145.02 Z"/><path d="M226.10,147.98 Q228.16,150.04 225.35,150.79 L223.94,151.17 Q221.13,151.92 221.88,149.11 L222.26,147.70 Q223.01,144.89 225.07,146.95 Z"/><path d="M242.07,123.58 Q240.81,128.26 237.38,124.84 L235.67,123.12 Q232.24,119.69 236.92,118.44 L239.27,117.81 Q243.95,116.55 242.69,121.24 Z"/><path d="M241.44,123.35 Q240.69,126.16 238.63,124.10 L237.60,123.07 Q235.54,121.02 238.35,120.26 L239.76,119.89 Q242.57,119.13 241.82,121.94 Z"/><path d="M273.33,119.89 Q276.76,123.31 272.08,124.57 L269.73,125.20 Q265.05,126.45 266.31,121.77 L266.93,119.43 Q268.19,114.74 271.62,118.17 Z"/><path d="M272.60,121.13 Q274.66,123.19 271.85,123.94 L270.44,124.32 Q267.63,125.07 268.38,122.26 L268.76,120.86 Q269.51,118.05 271.57,120.10 Z"/><ellipse cx="277.75" cy="161.78" rx="2.0" ry="2.9" transform="rotate(-20 277.75 161.78)"/><ellipse cx="231.25" cy="134.93" rx="2.0" ry="2.9" transform="rotate(-20 231.25 134.93)"/><path d="M335.07,177.28 Q333.81,181.96 330.38,178.53 L328.67,176.82 Q325.24,173.39 329.92,172.13 L332.27,171.51 Q336.95,170.25 335.69,174.93 Z"/><path d="M334.44,177.05 Q333.69,179.86 331.63,177.80 L330.60,176.77 Q328.54,174.71 331.35,173.96 L332.76,173.58 Q335.57,172.83 334.82,175.64 Z"/><path d="M319.83,200.43 Q323.26,203.86 318.58,205.11 L316.23,205.74 Q311.55,207.00 312.81,202.31 L313.43,199.97 Q314.69,195.29 318.12,198.71 Z"/><path d="M319.10,201.68 Q321.16,203.73 318.35,204.49 L316.94,204.86 Q314.13,205.62 314.88,202.81 L315.26,201.40 Q316.01,198.59 318.07,200.65 Z"/><path d="M288.57,204.12 Q287.31,208.81 283.88,205.38 L282.17,203.66 Q278.74,200.24 283.42,198.98 L285.77,198.35 Q290.45,197.10 289.19,201.78 Z"/><path d="M287.94,203.89 Q287.19,206.70 285.13,204.65 L284.10,203.62 Q282.04,201.56 284.85,200.81 L286.26,200.43 Q289.07,199.68 288.32,202.49 Z"/><path d="M273.33,173.58 Q276.76,177.01 272.08,178.27 L269.73,178.89 Q265.05,180.15 266.31,175.47 L266.93,173.12 Q268.19,168.44 271.62,171.87 Z"/><path d="M272.60,174.83 Q274.66,176.89 271.85,177.64 L270.44,178.02 Q267.63,178.77 268.38,175.96 L268.76,174.55 Q269.51,171.74 271.57,173.80 Z"/><path d="M288.57,150.43 Q287.31,155.11 283.88,151.69 L282.17,149.97 Q278.74,146.54 283.42,145.29 L285.77,144.66 Q290.45,143.40 289.19,148.09 Z"/><path d="M287.94,150.20 Q287.19,153.01 285.13,150.95 L284.10,149.92 Q282.04,147.87 284.85,147.11 L286.26,146.74 Q289.07,145.98 288.32,148.79 Z"/><path d="M319.83,146.74 Q323.26,150.16 318.58,151.42 L316.23,152.05 Q311.55,153.30 312.81,148.62 L313.43,146.28 Q314.69,141.59 318.12,145.02 Z"/><path d="M319.10,147.98 Q321.16,150.04 318.35,150.79 L316.94,151.17 Q314.13,151.92 314.88,149.11 L315.26,147.71 Q316.01,144.90 318.07,146.95 Z"/><ellipse cx="324.25" cy="188.63" rx="2.0" ry="2.9" transform="rotate(-20 324.25 188.63)"/><ellipse cx="277.75" cy="161.78" rx="2.0" ry="2.9" transform="rotate(-20 277.75 161.78)"/><path d="M381.57,204.13 Q380.31,208.81 376.88,205.38 L375.17,203.67 Q371.74,200.24 376.42,198.98 L378.77,198.36 Q383.45,197.10 382.19,201.78 Z"/><path d="M380.94,203.90 Q380.19,206.71 378.13,204.65 L377.10,203.62 Q375.04,201.56 377.85,200.81 L379.26,200.43 Q382.07,199.68 381.32,202.49 Z"/><path d="M366.33,227.28 Q369.76,230.71 365.08,231.96 L362.73,232.59 Q358.05,233.85 359.31,229.16 L359.93,226.82 Q361.19,222.14 364.62,225.56 Z"/><path d="M365.60,228.53 Q367.66,230.58 364.85,231.34 L363.44,231.71 Q360.63,232.47 361.38,229.66 L361.76,228.25 Q362.51,225.44 364.57,227.50 Z"/><path d="M335.07,230.97 Q333.81,235.66 330.38,232.23 L328.67,230.51 Q325.24,227.09 329.92,225.83 L332.27,225.20 Q336.95,223.95 335.69,228.63 Z"/><path d="M334.44,230.74 Q333.69,233.55 331.63,231.50 L330.60,230.47 Q328.54,228.41 331.35,227.66 L332.76,227.28 Q335.57,226.53 334.82,229.34 Z"/><path d="M319.83,200.43 Q323.26,203.86 318.58,205.12 L316.23,205.74 Q311.55,207.00 312.81,202.32 L313.43,199.97 Q314.69,195.29 318.12,198.72 Z"/><path d="M319.10,201.68 Q321.16,203.74 318.35,204.49 L316.94,204.87 Q314.13,205.62 314.88,202.81 L315.26,201.40 Q316.01,198.59 318.07,200.65 Z"/><path d="M335.07,177.28 Q333.81,181.96 330.38,178.54 L328.67,176.82 Q325.24,173.39 329.92,172.14 L332.27,171.51 Q336.95,170.25 335.69,174.94 Z"/><path d="M334.44,177.05 Q333.69,179.86 331.63,177.80 L330.60,176.77 Q328.54,174.72 331.35,173.96 L332.76,173.59 Q335.57,172.83 334.82,175.64 Z"/><path d="M366.33,173.59 Q369.76,177.01 365.08,178.27 L362.73,178.90 Q358.05,180.15 359.31,175.47 L359.93,173.13 Q361.19,168.44 364.62,171.87 Z"/><path d="M365.60,174.83 Q367.66,176.89 364.85,177.64 L363.44,178.02 Q360.63,178.77 361.38,175.96 L361.76,174.56 Q362.51,171.75 364.57,173.80 Z"/><ellipse cx="370.75" cy="215.48" rx="2.0" ry="2.9" transform="rotate(-20 370.75 215.48)"/><ellipse cx="324.25" cy="188.62" rx="2.0" ry="2.9" transform="rotate(-20 324.25 188.62)"/><path d="M288.57,204.13 Q287.31,208.81 283.88,205.38 L282.17,203.67 Q278.74,200.24 283.42,198.98 L285.77,198.36 Q290.45,197.10 289.19,201.78 Z"/><path d="M287.94,203.90 Q287.19,206.71 285.13,204.65 L284.10,203.62 Q282.04,201.56 284.85,200.81 L286.26,200.43 Q289.07,199.68 288.32,202.49 Z"/><path d="M273.33,227.28 Q276.76,230.71 272.08,231.96 L269.73,232.59 Q265.05,233.85 266.31,229.16 L266.93,226.82 Q268.19,222.14 271.62,225.56 Z"/><path d="M272.60,228.53 Q274.66,230.58 271.85,231.34 L270.44,231.71 Q267.63,232.47 268.38,229.66 L268.76,228.25 Q269.51,225.44 271.57,227.50 Z"/><path d="M242.07,230.97 Q240.81,235.66 237.38,232.23 L235.67,230.51 Q232.24,227.09 236.92,225.83 L239.27,225.20 Q243.95,223.95 242.69,228.63 Z"/><path d="M241.44,230.74 Q240.69,233.55 238.63,231.50 L237.60,230.47 Q235.54,228.41 238.35,227.66 L239.76,227.28 Q242.57,226.53 241.82,229.34 Z"/><path d="M226.83,200.43 Q230.26,203.86 225.58,205.12 L223.23,205.74 Q218.55,207.00 219.81,202.32 L220.43,199.97 Q221.69,195.29 225.12,198.72 Z"/><path d="M226.10,201.68 Q228.16,203.74 225.35,204.49 L223.94,204.87 Q221.13,205.62 221.88,202.81 L222.26,201.40 Q223.01,198.59 225.07,200.65 Z"/><path d="M242.07,177.28 Q240.81,181.96 237.38,178.54 L235.67,176.82 Q232.24,173.39 236.92,172.14 L239.27,171.51 Q243.95,170.25 242.69,174.94 Z"/><path d="M241.44,177.05 Q240.69,179.86 238.63,177.80 L237.60,176.77 Q235.54,174.72 238.35,173.96 L239.76,173.59 Q242.57,172.83 241.82,175.64 Z"/><path d="M273.33,173.59 Q276.76,177.01 272.08,178.27 L269.73,178.90 Q265.05,180.15 266.31,175.47 L266.93,173.13 Q268.19,168.44 271.62,171.87 Z"/><path d="M272.60,174.83 Q274.66,176.89 271.85,177.64 L270.44,178.02 Q267.63,178.77 268.38,175.96 L268.76,174.56 Q269.51,171.75 271.57,173.80 Z"/><ellipse cx="277.75" cy="215.48" rx="2.0" ry="2.9" transform="rotate(-20 277.75 215.48)"/><ellipse cx="231.25" cy="188.63" rx="2.0" ry="2.9" transform="rotate(-20 231.25 188.63)"/><path d="M335.07,230.98 Q333.81,235.66 330.38,232.23 L328.67,230.52 Q325.24,227.09 329.92,225.83 L332.27,225.21 Q336.95,223.95 335.69,228.63 Z"/><path d="M334.44,230.75 Q333.69,233.56 331.63,231.50 L330.60,230.47 Q328.54,228.41 331.35,227.66 L332.76,227.28 Q335.57,226.53 334.82,229.34 Z"/><path d="M319.83,254.13 Q323.26,257.56 318.58,258.81 L316.23,259.44 Q311.55,260.70 312.81,256.01 L313.43,253.67 Q314.69,248.99 318.12,252.41 Z"/><path d="M319.10,255.38 Q321.16,257.43 318.35,258.19 L316.94,258.56 Q314.13,259.32 314.88,256.51 L315.26,255.10 Q316.01,252.29 318.07,254.35 Z"/><path d="M288.57,257.82 Q287.31,262.51 283.88,259.08 L282.17,257.36 Q278.74,253.94 283.42,252.68 L285.77,252.05 Q290.45,250.80 289.19,255.48 Z"/><path d="M287.94,257.59 Q287.19,260.40 285.13,258.35 L284.10,257.32 Q282.04,255.26 284.85,254.51 L286.26,254.13 Q289.07,253.38 288.32,256.19 Z"/><path d="M273.33,227.28 Q276.76,230.71 272.08,231.97 L269.73,232.59 Q265.05,233.85 266.31,229.17 L266.93,226.82 Q268.19,222.14 271.62,225.57 Z"/><path d="M272.60,228.53 Q274.66,230.59 271.85,231.34 L270.44,231.72 Q267.63,232.47 268.38,229.66 L268.76,228.25 Q269.51,225.44 271.57,227.50 Z"/><path d="M288.57,204.13 Q287.31,208.81 283.88,205.39 L282.17,203.67 Q278.74,200.24 283.42,198.99 L285.77,198.36 Q290.45,197.10 289.19,201.79 Z"/><path d="M287.94,203.90 Q287.19,206.71 285.13,204.65 L284.10,203.62 Q282.04,201.57 284.85,200.81 L286.26,200.44 Q289.07,199.68 288.32,202.49 Z"/><path d="M319.83,200.44 Q323.26,203.86 318.58,205.12 L316.23,205.75 Q311.55,207.00 312.81,202.32 L313.43,199.98 Q314.69,195.29 318.12,198.72 Z"/><path d="M319.10,201.68 Q321.16,203.74 318.35,204.49 L316.94,204.87 Q314.13,205.62 314.88,202.81 L315.26,201.41 Q316.01,198.60 318.07,200.65 Z"/><ellipse cx="324.25" cy="242.33" rx="2.0" ry="2.9" transform="rotate(-20 324.25 242.33)"/><ellipse cx="277.75" cy="215.48" rx="2.0" ry="2.9" transform="rotate(-20 277.75 215.48)"/><path d="M381.57,257.83 Q380.31,262.51 376.88,259.08 L375.17,257.37 Q371.74,253.94 376.42,252.68 L378.77,252.06 Q383.45,250.80 382.19,255.48 Z"/><path d="M380.94,257.60 Q380.19,260.41 378.13,258.35 L377.10,257.32 Q375.04,255.26 377.85,254.51 L379.26,254.13 Q382.07,253.38 381.32,256.19 Z"/><path d="M366.33,280.98 Q369.76,284.41 365.08,285.66 L362.73,286.29 Q358.05,287.55 359.31,282.86 L359.93,280.52 Q361.19,275.84 364.62,279.26 Z"/><path d="M365.60,282.23 Q367.66,284.28 364.85,285.04 L363.44,285.41 Q360.63,286.17 361.38,283.36 L361.76,281.95 Q362.51,279.14 364.57,281.20 Z"/><path d="M335.07,284.67 Q333.81,289.36 330.38,285.93 L328.67,284.21 Q325.24,280.79 329.92,279.53 L332.27,278.90 Q336.95,277.65 335.69,282.33 Z"/><path d="M334.44,284.44 Q333.69,287.25 331.63,285.20 L330.60,284.17 Q328.54,282.11 331.35,281.36 L332.76,280.98 Q335.57,280.23 334.82,283.04 Z"/><path d="M319.83,254.13 Q323.26,257.56 318.58,258.82 L316.23,259.44 Q311.55,260.70 312.81,256.02 L313.43,253.67 Q314.69,248.99 318.12,252.42 Z"/><path d="M319.10,255.38 Q321.16,257.44 318.35,258.19 L316.94,258.57 Q314.13,259.32 314.88,256.51 L315.26,255.10 Q316.01,252.29 318.07,254.35 Z"/><path d="M335.07,230.98 Q333.81,235.66 330.38,232.24 L328.67,230.52 Q325.24,227.09 329.92,225.84 L332.27,225.21 Q336.95,223.95 335.69,228.64 Z"/><path d="M334.44,230.75 Q333.69,233.56 331.63,231.50 L330.60,230.47 Q328.54,228.42 331.35,227.66 L332.76,227.29 Q335.57,226.53 334.82,229.34 Z"/><path d="M366.33,227.29 Q369.76,230.71 365.08,231.97 L362.73,232.60 Q358.05,233.85 359.31,229.17 L359.93,226.83 Q361.19,222.14 364.62,225.57 Z"/><path d="M365.60,228.53 Q367.66,230.59 364.85,231.34 L363.44,231.72 Q360.63,232.47 361.38,229.66 L361.76,228.26 Q362.51,225.45 364.57,227.50 Z"/><ellipse cx="370.75" cy="269.18" rx="2.0" ry="2.9" transform="rotate(-20 370.75 269.18)"/><ellipse cx="324.25" cy="242.33" rx="2.0" ry="2.9" transform="rotate(-20 324.25 242.33)"/><path d="M288.57,257.83 Q287.31,262.51 283.88,259.08 L282.17,257.37 Q278.74,253.94 283.42,252.68 L285.77,252.06 Q290.45,250.80 289.19,255.48 Z"/><path d="M287.94,257.60 Q287.19,260.41 285.13,258.35 L284.10,257.32 Q282.04,255.26 284.85,254.51 L286.26,254.13 Q289.07,253.38 288.32,256.19 Z"/><path d="M273.33,280.98 Q276.76,284.41 272.08,285.66 L269.73,286.29 Q265.05,287.55 266.31,282.86 L266.93,280.52 Q268.19,275.84 271.62,279.26 Z"/><path d="M272.60,282.23 Q274.66,284.28 271.85,285.04 L270.44,285.41 Q267.63,286.17 268.38,283.36 L268.76,281.95 Q269.51,279.14 271.57,281.20 Z"/><path d="M242.07,284.67 Q240.81,289.36 237.38,285.93 L235.67,284.21 Q232.24,280.79 236.92,279.53 L239.27,278.90 Q243.95,277.65 242.69,282.33 Z"/><path d="M241.44,284.44 Q240.69,287.25 238.63,285.20 L237.60,284.17 Q235.54,282.11 238.35,281.36 L239.76,280.98 Q242.57,280.23 241.82,283.04 Z"/><path d="M226.83,254.13 Q230.26,257.56 225.58,258.82 L223.23,259.44 Q218.55,260.70 219.81,256.02 L220.43,253.67 Q221.69,248.99 225.12,252.42 Z"/><path d="M226.10,255.38 Q228.16,257.44 225.35,258.19 L223.94,258.57 Q221.13,259.32 221.88,256.51 L222.26,255.10 Q223.01,252.29 225.07,254.35 Z"/><path d="M242.07,230.98 Q240.81,235.66 237.38,232.24 L235.67,230.52 Q232.24,227.09 236.92,225.84 L239.27,225.21 Q243.95,223.95 242.69,228.64 Z"/><path d="M241.44,230.75 Q240.69,233.56 238.63,231.50 L237.60,230.47 Q235.54,228.42 238.35,227.66 L239.76,227.29 Q242.57,226.53 241.82,229.34 Z"/><path d="M273.33,227.29 Q276.76,230.71 272.08,231.97 L269.73,232.60 Q265.05,233.85 266.31,229.17 L266.93,226.83 Q268.19,222.14 271.62,225.57 Z"/><path d="M272.60,228.53 Q274.66,230.59 271.85,231.34 L270.44,231.72 Q267.63,232.47 268.38,229.66 L268.76,228.26 Q269.51,225.45 271.57,227.50 Z"/><ellipse cx="277.75" cy="269.18" rx="2.0" ry="2.9" transform="rotate(-20 277.75 269.18)"/><ellipse cx="231.25" cy="242.33" rx="2.0" ry="2.9" transform="rotate(-20 231.25 242.33)"/></g>
<g fill="#fde27a" filter="url(#soft)"><circle cx="347.50" cy="121.50" r="1.5"/><circle cx="324.25" cy="108.08" r="1.5"/><circle cx="347.50" cy="67.80" r="1.5"/><circle cx="370.75" cy="81.22" r="1.5"/><circle cx="254.50" cy="121.50" r="1.5"/><circle cx="231.25" cy="108.08" r="1.5"/><circle cx="254.50" cy="67.80" r="1.5"/><circle cx="277.75" cy="81.22" r="1.5"/><circle cx="301.00" cy="148.35" r="1.5"/><circle cx="277.75" cy="134.93" r="1.5"/><circle cx="301.00" cy="94.65" r="1.5"/><circle cx="324.25" cy="108.08" r="1.5"/><circle cx="347.50" cy="175.20" r="1.5"/><circle cx="324.25" cy="161.78" r="1.5"/><circle cx="347.50" cy="121.50" r="1.5"/><circle cx="370.75" cy="134.93" r="1.5"/><circle cx="254.50" cy="175.20" r="1.5"/><circle cx="231.25" cy="161.78" r="1.5"/><circle cx="254.50" cy="121.50" r="1.5"/><circle cx="277.75" cy="134.93" r="1.5"/><circle cx="301.00" cy="202.05" r="1.5"/><circle cx="277.75" cy="188.63" r="1.5"/><circle cx="301.00" cy="148.35" r="1.5"/><circle cx="324.25" cy="161.78" r="1.5"/><circle cx="347.50" cy="228.90" r="1.5"/><circle cx="324.25" cy="215.48" r="1.5"/><circle cx="347.50" cy="175.20" r="1.5"/><circle cx="370.75" cy="188.62" r="1.5"/><circle cx="254.50" cy="228.90" r="1.5"/><circle cx="231.25" cy="215.48" r="1.5"/><circle cx="254.50" cy="175.20" r="1.5"/><circle cx="277.75" cy="188.63" r="1.5"/><circle cx="301.00" cy="255.75" r="1.5"/><circle cx="277.75" cy="242.33" r="1.5"/><circle cx="301.00" cy="202.05" r="1.5"/><circle cx="324.25" cy="215.48" r="1.5"/><circle cx="347.50" cy="282.60" r="1.5"/><circle cx="324.25" cy="269.18" r="1.5"/><circle cx="347.50" cy="228.90" r="1.5"/><circle cx="370.75" cy="242.33" r="1.5"/><circle cx="254.50" cy="282.60" r="1.5"/><circle cx="231.25" cy="269.18" r="1.5"/><circle cx="254.50" cy="228.90" r="1.5"/><circle cx="277.75" cy="242.33" r="1.5"/></g>
</g>
<text x="241.20" y="131.20" font-size="8" text-anchor="start" font-weight="bold" font-style="normal" fill="#000" >(h)</text>
<text x="243.20" y="152.80" font-size="8" text-anchor="middle" font-weight="normal" font-style="normal" fill="#000" >max</text>
<rect x="241.20" y="155.2" width="2.7" height="47.6" fill="url(#cbar)"/>
<text x="242.60" y="210.30" font-size="7.4" text-anchor="middle" font-weight="normal" font-style="normal" fill="#000" >0</text>
<text transform="translate(236.90,173.3) rotate(-90)" font-size="6.6" text-anchor="middle" dominant-baseline="central" font-style="italic">A(k, ω)</text>
<text x="246.80" y="183" font-size="9.5">k<tspan font-size="7" dy="1.8">y</tspan></text>
<text x="302.00" y="229.3" font-size="10.5" text-anchor="middle">k<tspan font-size="7.5" dy="1.8">x</tspan></text>
<clipPath id="hc3"><rect x="368.40" y="128.90" width="91.40" height="91.50"/></clipPath>
<rect x="368.40" y="128.90" width="91.40" height="91.50" fill="#000004"/>
<g clip-path="url(#hc3)">
<g id="mot_i"><g fill="none" stroke="#4a1478" stroke-width="4" opacity="0.55" filter="url(#glow)"><path d="M368.00,140.70 C368.67,140.30 370.45,139.25 372.00,138.30 C373.55,137.35 375.53,135.93 377.30,135.00 C379.07,134.07 380.88,133.13 382.60,132.70 C384.32,132.27 386.77,132.45 387.60,132.40"/><path d="M395.20,138.00 C396.20,138.27 399.40,139.02 401.20,139.60 C403.00,140.18 404.47,140.72 406.00,141.50 C407.53,142.28 409.67,143.83 410.40,144.30"/><path d="M362.00,146.00 C363.00,146.48 366.12,148.08 368.00,148.90 C369.88,149.72 371.32,150.13 373.30,150.90 C375.28,151.67 377.92,152.73 379.90,153.50 C381.88,154.27 383.43,154.93 385.20,155.50 C386.97,156.07 388.28,156.57 390.50,156.90 C392.72,157.23 396.25,157.23 398.50,157.50 C400.75,157.77 402.08,158.83 404.00,158.50 C405.92,158.17 407.67,155.55 410.00,155.50 C412.33,155.45 415.78,157.08 418.00,158.20 C420.22,159.32 421.32,160.88 423.30,162.20 C425.28,163.52 427.70,165.00 429.90,166.10 C432.10,167.20 434.07,167.92 436.50,168.80 C438.93,169.68 443.17,170.97 444.50,171.40"/><path d="M362.00,156.00 C363.00,156.47 365.90,157.88 368.00,158.80 C370.10,159.72 372.38,160.50 374.60,161.50 C376.82,162.50 379.08,163.80 381.30,164.80 C383.52,165.80 385.70,166.83 387.90,167.50 C390.10,168.17 392.28,168.37 394.50,168.80 C396.72,169.23 398.98,169.43 401.20,170.10 C403.42,170.77 406.70,172.35 407.80,172.80"/><path d="M416.00,151.00 C416.17,152.50 417.33,157.33 417.00,160.00 C416.67,162.67 415.33,165.00 414.00,167.00 C412.67,169.00 410.67,170.50 409.00,172.00 C407.33,173.50 404.83,175.33 404.00,176.00"/><path d="M440.50,146.20 C441.60,146.65 444.52,148.02 447.10,148.90 C449.68,149.78 454.52,151.07 456.00,151.50"/><path d="M395.20,138.00 L385.60,150.20 L387.90,152.20 L394.50,154.90 L399.80,157.50 L405.10,151.50 L407.80,144.90 L410.40,144.30 L401.20,139.60Z"/><path d="M425.90,140.30 L432.00,142.50 L440.50,146.20 L438.00,152.00 L433.20,159.50 L427.00,160.50 L420.60,160.80 L419.50,156.00 L422.00,147.00Z"/><path d="M382,160 L384,182" stroke-width="5"/><path d="M445,135 L447,158" stroke-width="5"/></g><g fill="none" stroke="#e4677a" stroke-width="1.0"><path d="M368.00,140.70 C368.67,140.30 370.45,139.25 372.00,138.30 C373.55,137.35 375.53,135.93 377.30,135.00 C379.07,134.07 380.88,133.13 382.60,132.70 C384.32,132.27 386.77,132.45 387.60,132.40"/><path d="M395.20,138.00 C396.20,138.27 399.40,139.02 401.20,139.60 C403.00,140.18 404.47,140.72 406.00,141.50 C407.53,142.28 409.67,143.83 410.40,144.30"/><path d="M362.00,146.00 C363.00,146.48 366.12,148.08 368.00,148.90 C369.88,149.72 371.32,150.13 373.30,150.90 C375.28,151.67 377.92,152.73 379.90,153.50 C381.88,154.27 383.43,154.93 385.20,155.50 C386.97,156.07 388.28,156.57 390.50,156.90 C392.72,157.23 396.25,157.23 398.50,157.50 C400.75,157.77 402.08,158.83 404.00,158.50 C405.92,158.17 407.67,155.55 410.00,155.50 C412.33,155.45 415.78,157.08 418.00,158.20 C420.22,159.32 421.32,160.88 423.30,162.20 C425.28,163.52 427.70,165.00 429.90,166.10 C432.10,167.20 434.07,167.92 436.50,168.80 C438.93,169.68 443.17,170.97 444.50,171.40"/><path d="M362.00,156.00 C363.00,156.47 365.90,157.88 368.00,158.80 C370.10,159.72 372.38,160.50 374.60,161.50 C376.82,162.50 379.08,163.80 381.30,164.80 C383.52,165.80 385.70,166.83 387.90,167.50 C390.10,168.17 392.28,168.37 394.50,168.80 C396.72,169.23 398.98,169.43 401.20,170.10 C403.42,170.77 406.70,172.35 407.80,172.80"/><path d="M416.00,151.00 C416.17,152.50 417.33,157.33 417.00,160.00 C416.67,162.67 415.33,165.00 414.00,167.00 C412.67,169.00 410.67,170.50 409.00,172.00 C407.33,173.50 404.83,175.33 404.00,176.00"/><path d="M440.50,146.20 C441.60,146.65 444.52,148.02 447.10,148.90 C449.68,149.78 454.52,151.07 456.00,151.50"/><circle cx="391.2" cy="135.6" r="3.4"/><circle cx="412.7" cy="147.6" r="3.4"/></g><g fill="none" stroke="#f7902a" stroke-width="1.4"><path d="M395.20,138.00 L385.60,150.20 L387.90,152.20 L394.50,154.90 L399.80,157.50 L405.10,151.50 L407.80,144.90 L410.40,144.30 L401.20,139.60Z" stroke-linejoin="round"/><path d="M425.90,140.30 L432.00,142.50 L440.50,146.20 L438.00,152.00 L433.20,159.50 L427.00,160.50 L420.60,160.80 L419.50,156.00 L422.00,147.00Z" stroke-linejoin="round"/><ellipse cx="403.1" cy="142.3" rx="1.1" ry="3.2" transform="rotate(20 403.1 142.3)"/><ellipse cx="396.8" cy="146.8" rx="0.9" ry="2.0" transform="rotate(35 396.8 146.8)"/><ellipse cx="423.3" cy="155.5" rx="1.1" ry="3.4" transform="rotate(10 423.3 155.5)"/><ellipse cx="429.9" cy="150.9" rx="0.9" ry="2.2" transform="rotate(30 429.9 150.9)"/></g><g fill="#fde27a" filter="url(#soft)"><circle cx="395.2" cy="138" r="1.0"/><circle cx="410.4" cy="144.3" r="1.0"/><circle cx="387.6" cy="132.6" r="0.9"/><circle cx="416.5" cy="151.5" r="0.9"/><circle cx="409.5" cy="145.5" r="0.9"/></g></g>
<use href="#mot_i" transform="translate(92.80,-51.40)"/>
<use href="#mot_i" transform="translate(0.00,-50.40)"/>
<use href="#mot_i" transform="translate(46.40,-25.70)"/>
<use href="#mot_i" transform="translate(92.80,-1.00)"/>
<use href="#mot_i" transform="translate(-46.40,-24.70)"/>
<use href="#mot_i" transform="translate(46.40,24.70)"/>
<use href="#mot_i" transform="translate(92.80,49.40)"/>
<use href="#mot_i" transform="translate(-46.40,25.70)"/>
<use href="#mot_i" transform="translate(0.00,50.40)"/>
<use href="#mot_i" transform="translate(46.40,75.10)"/>
<use href="#mot_i" transform="translate(92.80,99.80)"/>
<use href="#mot_i" transform="translate(-46.40,76.10)"/>
<use href="#mot_i" transform="translate(0.00,100.80)"/>
</g>
<text x="354.50" y="131.20" font-size="8" text-anchor="start" font-weight="bold" font-style="normal" fill="#000" >(i)</text>
<text x="356.50" y="152.80" font-size="8" text-anchor="middle" font-weight="normal" font-style="normal" fill="#000" >max</text>
<rect x="354.50" y="155.2" width="2.7" height="47.6" fill="url(#cbar)"/>
<text x="355.90" y="210.30" font-size="7.4" text-anchor="middle" font-weight="normal" font-style="normal" fill="#000" >0</text>
<text transform="translate(350.20,173.3) rotate(-90)" font-size="6.6" text-anchor="middle" dominant-baseline="central" font-style="italic">A(k, ω)</text>
<text x="360.10" y="183" font-size="9.5">k<tspan font-size="7" dy="1.8">y</tspan></text>
<text x="415.30" y="229.3" font-size="10.5" text-anchor="middle">k<tspan font-size="7.5" dy="1.8">x</tspan></text>
<clipPath id="hc4"><rect x="481.80" y="128.90" width="91.40" height="91.50"/></clipPath>
<rect x="481.80" y="128.90" width="91.40" height="91.50" fill="#000004"/>
<g clip-path="url(#hc4)">
<g fill="none" stroke="#4a1478" stroke-width="7" opacity="0.6" filter="url(#glow)"><path d="M440.00,72.72 L440.03,74.83 L440.17,77.54 L440.71,80.19 L441.99,82.06 L444.10,82.67 L446.79,82.08 L449.53,80.75 L452.18,79.05 L454.69,77.35 L456.93,75.99 L458.80,75.23 L460.30,75.26 L461.47,76.14 L462.32,77.76 L463.17,79.98 L464.16,82.58 L465.24,85.26 L466.32,87.75 L467.35,89.78 L468.37,91.14 L469.79,91.74 L471.40,91.48 L473.20,90.44 L475.20,88.82 L477.42,86.92 L479.83,85.07 L482.35,83.66 L484.79,82.97 L486.82,83.20 L488.27,84.39 L489.12,86.48 L489.49,89.27 L489.65,92.46 L489.82,95.66 L490.12,98.56 L490.81,100.82 L492.08,102.22 L493.97,102.66 L496.33,102.19 L498.92,100.94 L501.41,99.19 L503.71,97.30 L505.77,95.62 L507.60,94.47 L509.23,94.06 L510.68,94.51 L511.86,95.80 L512.81,97.73 L513.84,100.17 L514.92,102.84 L515.97,105.46 L516.92,107.74 L517.77,109.44 L518.83,110.43 L520.25,110.60 L522.03,109.96 L524.17,108.68 L526.60,107.00 L529.21,105.26 L531.83,103.81 L534.38,103.05 L536.53,103.19 L538.03,104.29 L538.86,106.31 L539.18,109.05 L539.30,112.21 L539.53,115.42 L539.97,118.32 L540.78,120.62 L542.06,122.08 L543.82,122.59 L545.96,122.18 L548.31,120.98 L550.68,119.22 L552.83,117.20 L554.76,115.26 L556.55,113.74 L558.26,112.90 L559.94,112.92 L561.49,113.85 L562.61,115.54 L563.65,117.84 L564.64,120.52 L565.54,123.30 L566.35,125.86 L567.11,127.92 L567.95,129.27 L569.16,129.81 L570.89,129.55 L573.14,128.58 L575.78,127.14 L578.59,125.52 L581.30,124.07 L583.83,123.20 L585.99,123.19 L587.53,124.14 L588.41,126.00 L588.80,128.60 L588.98,131.67 L589.31,134.83 L589.93,137.74 L590.89,140.07 L592.22,141.61 L593.86,142.21 L595.74,141.90 L597.80,140.77 L599.98,139.05 L602.29,136.80 L604.55,134.47 L606.62,132.65 L608.41,131.74 L609.85,131.72 L610.97,132.24"/><path d="M440.00,72.72 L441.89,71.75 L444.36,70.63 L446.92,69.86 L449.05,70.01 L450.43,71.41 L451.12,73.85 L451.47,76.73 L451.82,79.84 L452.31,82.87 L453.07,85.50 L454.20,87.43 L455.70,88.49 L457.53,88.60 L459.68,87.86 L461.83,86.34 L463.84,84.33 L465.76,82.16 L467.68,80.19 L469.65,78.74 L471.63,78.07 L473.21,78.22 L474.60,79.25 L475.80,81.10 L476.80,83.59 L477.58,86.46 L478.17,89.38 L478.65,92.04 L479.21,94.14 L480.18,95.48 L481.73,95.95 L483.88,95.57 L486.51,94.50 L489.35,93.00 L492.18,91.43 L494.88,90.24 L497.19,89.70 L498.92,90.00 L500.03,91.20 L500.67,93.19 L501.08,95.79 L501.59,98.73 L502.29,101.66 L503.23,104.27 L504.40,106.27 L505.77,107.47 L507.32,107.78 L509.14,107.25 L511.19,105.95 L513.16,104.07 L515.08,101.91 L517.03,99.82 L519.08,98.15 L521.23,97.21 L523.17,97.15 L524.75,98.01 L525.97,99.76 L526.83,102.25 L527.40,105.21 L527.79,108.31 L528.17,111.20 L528.62,113.52 L529.47,115.11 L530.97,115.82 L533.14,115.64 L535.82,114.72 L538.70,113.28 L541.47,111.65 L544.03,110.28 L546.22,109.47 L547.94,109.45 L549.18,110.29 L550.04,111.96 L550.69,114.30 L551.32,117.04 L552.17,119.87 L553.24,122.49 L554.45,124.61 L555.74,126.02 L557.06,126.60 L558.51,126.34 L560.39,125.35 L562.35,123.72 L564.36,121.71 L566.46,119.65 L568.65,117.89 L570.89,116.77 L573.05,116.53 L574.84,117.26 L576.11,118.95 L576.86,121.44 L577.22,124.47 L577.41,127.71 L577.70,130.79 L578.17,133.29 L579.01,135.02 L580.47,135.87 L582.59,135.81 L585.20,134.95 L588.02,133.52 L590.69,131.83 L593.07,130.24 L595.11,129.11 L596.78,128.68 L598.14,129.09 L599.26,130.35 L600.20,132.36 L601.05,134.91 L602.03,137.95 L603.25,141.02 L604.63,143.49 L606.07,144.98 L607.43,145.49 L608.48,145.36"/><path d="M440.00,117.72 L440.03,119.83 L440.17,122.54 L440.71,125.19 L441.99,127.06 L444.10,127.67 L446.79,127.08 L449.53,125.75 L452.18,124.05 L454.69,122.35 L456.93,120.99 L458.80,120.23 L460.30,120.26 L461.47,121.14 L462.32,122.76 L463.17,124.98 L464.16,127.58 L465.24,130.26 L466.32,132.75 L467.35,134.78 L468.37,136.14 L469.79,136.74 L471.40,136.48 L473.20,135.44 L475.20,133.82 L477.42,131.92 L479.83,130.07 L482.35,128.66 L484.79,127.97 L486.82,128.20 L488.27,129.39 L489.12,131.48 L489.49,134.27 L489.65,137.46 L489.82,140.66 L490.12,143.56 L490.81,145.82 L492.08,147.22 L493.97,147.66 L496.33,147.19 L498.92,145.94 L501.41,144.19 L503.71,142.30 L505.77,140.62 L507.60,139.47 L509.23,139.06 L510.68,139.51 L511.86,140.80 L512.81,142.73 L513.84,145.17 L514.92,147.84 L515.97,150.46 L516.92,152.74 L517.77,154.44 L518.83,155.43 L520.25,155.60 L522.03,154.96 L524.17,153.68 L526.60,152.00 L529.21,150.26 L531.83,148.81 L534.38,148.05 L536.53,148.19 L538.03,149.29 L538.86,151.31 L539.18,154.05 L539.30,157.21 L539.53,160.42 L539.97,163.32 L540.78,165.62 L542.06,167.08 L543.82,167.59 L545.96,167.18 L548.31,165.98 L550.68,164.22 L552.83,162.20 L554.76,160.26 L556.55,158.74 L558.26,157.90 L559.94,157.92 L561.49,158.85 L562.61,160.54 L563.65,162.84 L564.64,165.52 L565.54,168.30 L566.35,170.86 L567.11,172.92 L567.95,174.27 L569.16,174.81 L570.89,174.55 L573.14,173.58 L575.78,172.14 L578.59,170.52 L581.30,169.07 L583.83,168.20 L585.99,168.19 L587.53,169.14 L588.41,171.00 L588.80,173.60 L588.98,176.67 L589.31,179.83 L589.93,182.74 L590.89,185.07 L592.22,186.61 L593.86,187.21 L595.74,186.90 L597.80,185.77 L599.98,184.05 L602.29,181.80 L604.55,179.47 L606.62,177.65 L608.41,176.74 L609.85,176.72 L610.97,177.24"/><path d="M440.00,117.72 L441.89,116.75 L444.36,115.63 L446.92,114.86 L449.05,115.01 L450.43,116.41 L451.12,118.85 L451.47,121.73 L451.82,124.84 L452.31,127.87 L453.07,130.50 L454.20,132.43 L455.70,133.49 L457.53,133.60 L459.68,132.86 L461.83,131.34 L463.84,129.33 L465.76,127.16 L467.68,125.19 L469.65,123.74 L471.63,123.07 L473.21,123.22 L474.60,124.25 L475.80,126.10 L476.80,128.59 L477.58,131.46 L478.17,134.38 L478.65,137.04 L479.21,139.14 L480.18,140.48 L481.73,140.95 L483.88,140.57 L486.51,139.50 L489.35,138.00 L492.18,136.43 L494.88,135.24 L497.19,134.70 L498.92,135.00 L500.03,136.20 L500.67,138.19 L501.08,140.79 L501.59,143.73 L502.29,146.66 L503.23,149.27 L504.40,151.27 L505.77,152.47 L507.32,152.78 L509.14,152.25 L511.19,150.95 L513.16,149.07 L515.08,146.91 L517.03,144.82 L519.08,143.15 L521.23,142.21 L523.17,142.15 L524.75,143.01 L525.97,144.76 L526.83,147.25 L527.40,150.21 L527.79,153.31 L528.17,156.20 L528.62,158.52 L529.47,160.11 L530.97,160.82 L533.14,160.64 L535.82,159.72 L538.70,158.28 L541.47,156.65 L544.03,155.28 L546.22,154.47 L547.94,154.45 L549.18,155.29 L550.04,156.96 L550.69,159.30 L551.32,162.04 L552.17,164.87 L553.24,167.49 L554.45,169.61 L555.74,171.02 L557.06,171.60 L558.51,171.34 L560.39,170.35 L562.35,168.72 L564.36,166.71 L566.46,164.65 L568.65,162.89 L570.89,161.77 L573.05,161.53 L574.84,162.26 L576.11,163.95 L576.86,166.44 L577.22,169.47 L577.41,172.71 L577.70,175.79 L578.17,178.29 L579.01,180.02 L580.47,180.87 L582.59,180.81 L585.20,179.95 L588.02,178.52 L590.69,176.83 L593.07,175.24 L595.11,174.11 L596.78,173.68 L598.14,174.09 L599.26,175.35 L600.20,177.36 L601.05,179.91 L602.03,182.95 L603.25,186.02 L604.63,188.49 L606.07,189.98 L607.43,190.49 L608.48,190.36"/><path d="M440.00,162.72 L440.03,164.83 L440.17,167.54 L440.71,170.19 L441.99,172.06 L444.10,172.67 L446.79,172.08 L449.53,170.75 L452.18,169.05 L454.69,167.35 L456.93,165.99 L458.80,165.23 L460.30,165.26 L461.47,166.14 L462.32,167.76 L463.17,169.98 L464.16,172.58 L465.24,175.26 L466.32,177.75 L467.35,179.78 L468.37,181.14 L469.79,181.74 L471.40,181.48 L473.20,180.44 L475.20,178.82 L477.42,176.92 L479.83,175.07 L482.35,173.66 L484.79,172.97 L486.82,173.20 L488.27,174.39 L489.12,176.48 L489.49,179.27 L489.65,182.46 L489.82,185.66 L490.12,188.56 L490.81,190.82 L492.08,192.22 L493.97,192.66 L496.33,192.19 L498.92,190.94 L501.41,189.19 L503.71,187.30 L505.77,185.62 L507.60,184.47 L509.23,184.06 L510.68,184.51 L511.86,185.80 L512.81,187.73 L513.84,190.17 L514.92,192.84 L515.97,195.46 L516.92,197.74 L517.77,199.44 L518.83,200.43 L520.25,200.60 L522.03,199.96 L524.17,198.68 L526.60,197.00 L529.21,195.26 L531.83,193.81 L534.38,193.05 L536.53,193.19 L538.03,194.29 L538.86,196.31 L539.18,199.05 L539.30,202.21 L539.53,205.42 L539.97,208.32 L540.78,210.62 L542.06,212.08 L543.82,212.59 L545.96,212.18 L548.31,210.98 L550.68,209.22 L552.83,207.20 L554.76,205.26 L556.55,203.74 L558.26,202.90 L559.94,202.92 L561.49,203.85 L562.61,205.54 L563.65,207.84 L564.64,210.52 L565.54,213.30 L566.35,215.86 L567.11,217.92 L567.95,219.27 L569.16,219.81 L570.89,219.55 L573.14,218.58 L575.78,217.14 L578.59,215.52 L581.30,214.07 L583.83,213.20 L585.99,213.19 L587.53,214.14 L588.41,216.00 L588.80,218.60 L588.98,221.67 L589.31,224.83 L589.93,227.74 L590.89,230.07 L592.22,231.61 L593.86,232.21 L595.74,231.90 L597.80,230.77 L599.98,229.05 L602.29,226.80 L604.55,224.47 L606.62,222.65 L608.41,221.74 L609.85,221.72 L610.97,222.24"/><path d="M440.00,162.72 L441.89,161.75 L444.36,160.63 L446.92,159.86 L449.05,160.01 L450.43,161.41 L451.12,163.85 L451.47,166.73 L451.82,169.84 L452.31,172.87 L453.07,175.50 L454.20,177.43 L455.70,178.49 L457.53,178.60 L459.68,177.86 L461.83,176.34 L463.84,174.33 L465.76,172.16 L467.68,170.19 L469.65,168.74 L471.63,168.07 L473.21,168.22 L474.60,169.25 L475.80,171.10 L476.80,173.59 L477.58,176.46 L478.17,179.38 L478.65,182.04 L479.21,184.14 L480.18,185.48 L481.73,185.95 L483.88,185.57 L486.51,184.50 L489.35,183.00 L492.18,181.43 L494.88,180.24 L497.19,179.70 L498.92,180.00 L500.03,181.20 L500.67,183.19 L501.08,185.79 L501.59,188.73 L502.29,191.66 L503.23,194.27 L504.40,196.27 L505.77,197.47 L507.32,197.78 L509.14,197.25 L511.19,195.95 L513.16,194.07 L515.08,191.91 L517.03,189.82 L519.08,188.15 L521.23,187.21 L523.17,187.15 L524.75,188.01 L525.97,189.76 L526.83,192.25 L527.40,195.21 L527.79,198.31 L528.17,201.20 L528.62,203.52 L529.47,205.11 L530.97,205.82 L533.14,205.64 L535.82,204.72 L538.70,203.28 L541.47,201.65 L544.03,200.28 L546.22,199.47 L547.94,199.45 L549.18,200.29 L550.04,201.96 L550.69,204.30 L551.32,207.04 L552.17,209.87 L553.24,212.49 L554.45,214.61 L555.74,216.02 L557.06,216.60 L558.51,216.34 L560.39,215.35 L562.35,213.72 L564.36,211.71 L566.46,209.65 L568.65,207.89 L570.89,206.77 L573.05,206.53 L574.84,207.26 L576.11,208.95 L576.86,211.44 L577.22,214.47 L577.41,217.71 L577.70,220.79 L578.17,223.29 L579.01,225.02 L580.47,225.87 L582.59,225.81 L585.20,224.95 L588.02,223.52 L590.69,221.83 L593.07,220.24 L595.11,219.11 L596.78,218.68 L598.14,219.09 L599.26,220.35 L600.20,222.36 L601.05,224.91 L602.03,227.95 L603.25,231.02 L604.63,233.49 L606.07,234.98 L607.43,235.49 L608.48,235.36"/><path d="M440.00,207.72 L440.03,209.83 L440.17,212.54 L440.71,215.19 L441.99,217.06 L444.10,217.67 L446.79,217.08 L449.53,215.75 L452.18,214.05 L454.69,212.35 L456.93,210.99 L458.80,210.23 L460.30,210.26 L461.47,211.14 L462.32,212.76 L463.17,214.98 L464.16,217.58 L465.24,220.26 L466.32,222.75 L467.35,224.78 L468.37,226.14 L469.79,226.74 L471.40,226.48 L473.20,225.44 L475.20,223.82 L477.42,221.92 L479.83,220.07 L482.35,218.66 L484.79,217.97 L486.82,218.20 L488.27,219.39 L489.12,221.48 L489.49,224.27 L489.65,227.46 L489.82,230.66 L490.12,233.56 L490.81,235.82 L492.08,237.22 L493.97,237.66 L496.33,237.19 L498.92,235.94 L501.41,234.19 L503.71,232.30 L505.77,230.62 L507.60,229.47 L509.23,229.06 L510.68,229.51 L511.86,230.80 L512.81,232.73 L513.84,235.17 L514.92,237.84 L515.97,240.46 L516.92,242.74 L517.77,244.44 L518.83,245.43 L520.25,245.60 L522.03,244.96 L524.17,243.68 L526.60,242.00 L529.21,240.26 L531.83,238.81 L534.38,238.05 L536.53,238.19 L538.03,239.29 L538.86,241.31 L539.18,244.05 L539.30,247.21 L539.53,250.42 L539.97,253.32 L540.78,255.62 L542.06,257.08 L543.82,257.59 L545.96,257.18 L548.31,255.98 L550.68,254.22 L552.83,252.20 L554.76,250.26 L556.55,248.74 L558.26,247.90 L559.94,247.92 L561.49,248.85 L562.61,250.54 L563.65,252.84 L564.64,255.52 L565.54,258.30 L566.35,260.86 L567.11,262.92 L567.95,264.27 L569.16,264.81 L570.89,264.55 L573.14,263.58 L575.78,262.14 L578.59,260.52 L581.30,259.07 L583.83,258.20 L585.99,258.19 L587.53,259.14 L588.41,261.00 L588.80,263.60 L588.98,266.67 L589.31,269.83 L589.93,272.74 L590.89,275.07 L592.22,276.61 L593.86,277.21 L595.74,276.90 L597.80,275.77 L599.98,274.05 L602.29,271.80 L604.55,269.47 L606.62,267.65 L608.41,266.74 L609.85,266.72 L610.97,267.24"/><path d="M440.00,207.72 L441.89,206.75 L444.36,205.63 L446.92,204.86 L449.05,205.01 L450.43,206.41 L451.12,208.85 L451.47,211.73 L451.82,214.84 L452.31,217.87 L453.07,220.50 L454.20,222.43 L455.70,223.49 L457.53,223.60 L459.68,222.86 L461.83,221.34 L463.84,219.33 L465.76,217.16 L467.68,215.19 L469.65,213.74 L471.63,213.07 L473.21,213.22 L474.60,214.25 L475.80,216.10 L476.80,218.59 L477.58,221.46 L478.17,224.38 L478.65,227.04 L479.21,229.14 L480.18,230.48 L481.73,230.95 L483.88,230.57 L486.51,229.50 L489.35,228.00 L492.18,226.43 L494.88,225.24 L497.19,224.70 L498.92,225.00 L500.03,226.20 L500.67,228.19 L501.08,230.79 L501.59,233.73 L502.29,236.66 L503.23,239.27 L504.40,241.27 L505.77,242.47 L507.32,242.78 L509.14,242.25 L511.19,240.95 L513.16,239.07 L515.08,236.91 L517.03,234.82 L519.08,233.15 L521.23,232.21 L523.17,232.15 L524.75,233.01 L525.97,234.76 L526.83,237.25 L527.40,240.21 L527.79,243.31 L528.17,246.20 L528.62,248.52 L529.47,250.11 L530.97,250.82 L533.14,250.64 L535.82,249.72 L538.70,248.28 L541.47,246.65 L544.03,245.28 L546.22,244.47 L547.94,244.45 L549.18,245.29 L550.04,246.96 L550.69,249.30 L551.32,252.04 L552.17,254.87 L553.24,257.49 L554.45,259.61 L555.74,261.02 L557.06,261.60 L558.51,261.34 L560.39,260.35 L562.35,258.72 L564.36,256.71 L566.46,254.65 L568.65,252.89 L570.89,251.77 L573.05,251.53 L574.84,252.26 L576.11,253.95 L576.86,256.44 L577.22,259.47 L577.41,262.71 L577.70,265.79 L578.17,268.29 L579.01,270.02 L580.47,270.87 L582.59,270.81 L585.20,269.95 L588.02,268.52 L590.69,266.83 L593.07,265.24 L595.11,264.11 L596.78,263.68 L598.14,264.09 L599.26,265.35 L600.20,267.36 L601.05,269.91 L602.03,272.95 L603.25,276.02 L604.63,278.49 L606.07,279.98 L607.43,280.49 L608.48,280.36"/></g><g fill="none" stroke="#e4677a" stroke-width="1.25" stroke-linejoin="round"><path d="M440.00,72.72 L440.03,74.83 L440.17,77.54 L440.71,80.19 L441.99,82.06 L444.10,82.67 L446.79,82.08 L449.53,80.75 L452.18,79.05 L454.69,77.35 L456.93,75.99 L458.80,75.23 L460.30,75.26 L461.47,76.14 L462.32,77.76 L463.17,79.98 L464.16,82.58 L465.24,85.26 L466.32,87.75 L467.35,89.78 L468.37,91.14 L469.79,91.74 L471.40,91.48 L473.20,90.44 L475.20,88.82 L477.42,86.92 L479.83,85.07 L482.35,83.66 L484.79,82.97 L486.82,83.20 L488.27,84.39 L489.12,86.48 L489.49,89.27 L489.65,92.46 L489.82,95.66 L490.12,98.56 L490.81,100.82 L492.08,102.22 L493.97,102.66 L496.33,102.19 L498.92,100.94 L501.41,99.19 L503.71,97.30 L505.77,95.62 L507.60,94.47 L509.23,94.06 L510.68,94.51 L511.86,95.80 L512.81,97.73 L513.84,100.17 L514.92,102.84 L515.97,105.46 L516.92,107.74 L517.77,109.44 L518.83,110.43 L520.25,110.60 L522.03,109.96 L524.17,108.68 L526.60,107.00 L529.21,105.26 L531.83,103.81 L534.38,103.05 L536.53,103.19 L538.03,104.29 L538.86,106.31 L539.18,109.05 L539.30,112.21 L539.53,115.42 L539.97,118.32 L540.78,120.62 L542.06,122.08 L543.82,122.59 L545.96,122.18 L548.31,120.98 L550.68,119.22 L552.83,117.20 L554.76,115.26 L556.55,113.74 L558.26,112.90 L559.94,112.92 L561.49,113.85 L562.61,115.54 L563.65,117.84 L564.64,120.52 L565.54,123.30 L566.35,125.86 L567.11,127.92 L567.95,129.27 L569.16,129.81 L570.89,129.55 L573.14,128.58 L575.78,127.14 L578.59,125.52 L581.30,124.07 L583.83,123.20 L585.99,123.19 L587.53,124.14 L588.41,126.00 L588.80,128.60 L588.98,131.67 L589.31,134.83 L589.93,137.74 L590.89,140.07 L592.22,141.61 L593.86,142.21 L595.74,141.90 L597.80,140.77 L599.98,139.05 L602.29,136.80 L604.55,134.47 L606.62,132.65 L608.41,131.74 L609.85,131.72 L610.97,132.24"/><path d="M440.00,72.72 L441.89,71.75 L444.36,70.63 L446.92,69.86 L449.05,70.01 L450.43,71.41 L451.12,73.85 L451.47,76.73 L451.82,79.84 L452.31,82.87 L453.07,85.50 L454.20,87.43 L455.70,88.49 L457.53,88.60 L459.68,87.86 L461.83,86.34 L463.84,84.33 L465.76,82.16 L467.68,80.19 L469.65,78.74 L471.63,78.07 L473.21,78.22 L474.60,79.25 L475.80,81.10 L476.80,83.59 L477.58,86.46 L478.17,89.38 L478.65,92.04 L479.21,94.14 L480.18,95.48 L481.73,95.95 L483.88,95.57 L486.51,94.50 L489.35,93.00 L492.18,91.43 L494.88,90.24 L497.19,89.70 L498.92,90.00 L500.03,91.20 L500.67,93.19 L501.08,95.79 L501.59,98.73 L502.29,101.66 L503.23,104.27 L504.40,106.27 L505.77,107.47 L507.32,107.78 L509.14,107.25 L511.19,105.95 L513.16,104.07 L515.08,101.91 L517.03,99.82 L519.08,98.15 L521.23,97.21 L523.17,97.15 L524.75,98.01 L525.97,99.76 L526.83,102.25 L527.40,105.21 L527.79,108.31 L528.17,111.20 L528.62,113.52 L529.47,115.11 L530.97,115.82 L533.14,115.64 L535.82,114.72 L538.70,113.28 L541.47,111.65 L544.03,110.28 L546.22,109.47 L547.94,109.45 L549.18,110.29 L550.04,111.96 L550.69,114.30 L551.32,117.04 L552.17,119.87 L553.24,122.49 L554.45,124.61 L555.74,126.02 L557.06,126.60 L558.51,126.34 L560.39,125.35 L562.35,123.72 L564.36,121.71 L566.46,119.65 L568.65,117.89 L570.89,116.77 L573.05,116.53 L574.84,117.26 L576.11,118.95 L576.86,121.44 L577.22,124.47 L577.41,127.71 L577.70,130.79 L578.17,133.29 L579.01,135.02 L580.47,135.87 L582.59,135.81 L585.20,134.95 L588.02,133.52 L590.69,131.83 L593.07,130.24 L595.11,129.11 L596.78,128.68 L598.14,129.09 L599.26,130.35 L600.20,132.36 L601.05,134.91 L602.03,137.95 L603.25,141.02 L604.63,143.49 L606.07,144.98 L607.43,145.49 L608.48,145.36"/><path d="M481.50,92.00 C481.83,93.10 482.25,96.62 483.50,98.60 C484.75,100.58 486.75,102.35 489.00,103.90 C491.25,105.45 493.92,106.90 497.00,107.90 C500.08,108.90 504.87,109.90 507.50,109.90 C510.13,109.90 511.55,109.05 512.80,107.90 C514.05,106.75 514.63,103.82 515.00,103.00"/><path d="M522.00,100.00 C523.00,100.83 525.83,102.83 528.00,105.00 C530.17,107.17 533.33,110.33 535.00,113.00 C536.67,115.67 536.33,118.67 538.00,121.00 C539.67,123.33 542.00,125.33 545.00,127.00 C548.00,128.67 552.17,130.00 556.00,131.00 C559.83,132.00 564.83,132.17 568.00,133.00 C571.17,133.83 573.83,135.50 575.00,136.00"/><path d="M525.00,96.00 C526.17,94.67 529.17,90.00 532.00,88.00 C534.83,86.00 538.50,84.83 542.00,84.00 C545.50,83.17 549.50,82.67 553.00,83.00 C556.50,83.33 560.17,84.50 563.00,86.00 C565.83,87.50 568.17,89.50 570.00,92.00 C571.83,94.50 573.33,99.50 574.00,101.00"/><path d="M440.00,117.72 L440.03,119.83 L440.17,122.54 L440.71,125.19 L441.99,127.06 L444.10,127.67 L446.79,127.08 L449.53,125.75 L452.18,124.05 L454.69,122.35 L456.93,120.99 L458.80,120.23 L460.30,120.26 L461.47,121.14 L462.32,122.76 L463.17,124.98 L464.16,127.58 L465.24,130.26 L466.32,132.75 L467.35,134.78 L468.37,136.14 L469.79,136.74 L471.40,136.48 L473.20,135.44 L475.20,133.82 L477.42,131.92 L479.83,130.07 L482.35,128.66 L484.79,127.97 L486.82,128.20 L488.27,129.39 L489.12,131.48 L489.49,134.27 L489.65,137.46 L489.82,140.66 L490.12,143.56 L490.81,145.82 L492.08,147.22 L493.97,147.66 L496.33,147.19 L498.92,145.94 L501.41,144.19 L503.71,142.30 L505.77,140.62 L507.60,139.47 L509.23,139.06 L510.68,139.51 L511.86,140.80 L512.81,142.73 L513.84,145.17 L514.92,147.84 L515.97,150.46 L516.92,152.74 L517.77,154.44 L518.83,155.43 L520.25,155.60 L522.03,154.96 L524.17,153.68 L526.60,152.00 L529.21,150.26 L531.83,148.81 L534.38,148.05 L536.53,148.19 L538.03,149.29 L538.86,151.31 L539.18,154.05 L539.30,157.21 L539.53,160.42 L539.97,163.32 L540.78,165.62 L542.06,167.08 L543.82,167.59 L545.96,167.18 L548.31,165.98 L550.68,164.22 L552.83,162.20 L554.76,160.26 L556.55,158.74 L558.26,157.90 L559.94,157.92 L561.49,158.85 L562.61,160.54 L563.65,162.84 L564.64,165.52 L565.54,168.30 L566.35,170.86 L567.11,172.92 L567.95,174.27 L569.16,174.81 L570.89,174.55 L573.14,173.58 L575.78,172.14 L578.59,170.52 L581.30,169.07 L583.83,168.20 L585.99,168.19 L587.53,169.14 L588.41,171.00 L588.80,173.60 L588.98,176.67 L589.31,179.83 L589.93,182.74 L590.89,185.07 L592.22,186.61 L593.86,187.21 L595.74,186.90 L597.80,185.77 L599.98,184.05 L602.29,181.80 L604.55,179.47 L606.62,177.65 L608.41,176.74 L609.85,176.72 L610.97,177.24"/><path d="M440.00,117.72 L441.89,116.75 L444.36,115.63 L446.92,114.86 L449.05,115.01 L450.43,116.41 L451.12,118.85 L451.47,121.73 L451.82,124.84 L452.31,127.87 L453.07,130.50 L454.20,132.43 L455.70,133.49 L457.53,133.60 L459.68,132.86 L461.83,131.34 L463.84,129.33 L465.76,127.16 L467.68,125.19 L469.65,123.74 L471.63,123.07 L473.21,123.22 L474.60,124.25 L475.80,126.10 L476.80,128.59 L477.58,131.46 L478.17,134.38 L478.65,137.04 L479.21,139.14 L480.18,140.48 L481.73,140.95 L483.88,140.57 L486.51,139.50 L489.35,138.00 L492.18,136.43 L494.88,135.24 L497.19,134.70 L498.92,135.00 L500.03,136.20 L500.67,138.19 L501.08,140.79 L501.59,143.73 L502.29,146.66 L503.23,149.27 L504.40,151.27 L505.77,152.47 L507.32,152.78 L509.14,152.25 L511.19,150.95 L513.16,149.07 L515.08,146.91 L517.03,144.82 L519.08,143.15 L521.23,142.21 L523.17,142.15 L524.75,143.01 L525.97,144.76 L526.83,147.25 L527.40,150.21 L527.79,153.31 L528.17,156.20 L528.62,158.52 L529.47,160.11 L530.97,160.82 L533.14,160.64 L535.82,159.72 L538.70,158.28 L541.47,156.65 L544.03,155.28 L546.22,154.47 L547.94,154.45 L549.18,155.29 L550.04,156.96 L550.69,159.30 L551.32,162.04 L552.17,164.87 L553.24,167.49 L554.45,169.61 L555.74,171.02 L557.06,171.60 L558.51,171.34 L560.39,170.35 L562.35,168.72 L564.36,166.71 L566.46,164.65 L568.65,162.89 L570.89,161.77 L573.05,161.53 L574.84,162.26 L576.11,163.95 L576.86,166.44 L577.22,169.47 L577.41,172.71 L577.70,175.79 L578.17,178.29 L579.01,180.02 L580.47,180.87 L582.59,180.81 L585.20,179.95 L588.02,178.52 L590.69,176.83 L593.07,175.24 L595.11,174.11 L596.78,173.68 L598.14,174.09 L599.26,175.35 L600.20,177.36 L601.05,179.91 L602.03,182.95 L603.25,186.02 L604.63,188.49 L606.07,189.98 L607.43,190.49 L608.48,190.36"/><path d="M481.50,137.00 C481.83,138.10 482.25,141.62 483.50,143.60 C484.75,145.58 486.75,147.35 489.00,148.90 C491.25,150.45 493.92,151.90 497.00,152.90 C500.08,153.90 504.87,154.90 507.50,154.90 C510.13,154.90 511.55,154.05 512.80,152.90 C514.05,151.75 514.63,148.82 515.00,148.00"/><path d="M522.00,145.00 C523.00,145.83 525.83,147.83 528.00,150.00 C530.17,152.17 533.33,155.33 535.00,158.00 C536.67,160.67 536.33,163.67 538.00,166.00 C539.67,168.33 542.00,170.33 545.00,172.00 C548.00,173.67 552.17,175.00 556.00,176.00 C559.83,177.00 564.83,177.17 568.00,178.00 C571.17,178.83 573.83,180.50 575.00,181.00"/><path d="M525.00,141.00 C526.17,139.67 529.17,135.00 532.00,133.00 C534.83,131.00 538.50,129.83 542.00,129.00 C545.50,128.17 549.50,127.67 553.00,128.00 C556.50,128.33 560.17,129.50 563.00,131.00 C565.83,132.50 568.17,134.50 570.00,137.00 C571.83,139.50 573.33,144.50 574.00,146.00"/><path d="M440.00,162.72 L440.03,164.83 L440.17,167.54 L440.71,170.19 L441.99,172.06 L444.10,172.67 L446.79,172.08 L449.53,170.75 L452.18,169.05 L454.69,167.35 L456.93,165.99 L458.80,165.23 L460.30,165.26 L461.47,166.14 L462.32,167.76 L463.17,169.98 L464.16,172.58 L465.24,175.26 L466.32,177.75 L467.35,179.78 L468.37,181.14 L469.79,181.74 L471.40,181.48 L473.20,180.44 L475.20,178.82 L477.42,176.92 L479.83,175.07 L482.35,173.66 L484.79,172.97 L486.82,173.20 L488.27,174.39 L489.12,176.48 L489.49,179.27 L489.65,182.46 L489.82,185.66 L490.12,188.56 L490.81,190.82 L492.08,192.22 L493.97,192.66 L496.33,192.19 L498.92,190.94 L501.41,189.19 L503.71,187.30 L505.77,185.62 L507.60,184.47 L509.23,184.06 L510.68,184.51 L511.86,185.80 L512.81,187.73 L513.84,190.17 L514.92,192.84 L515.97,195.46 L516.92,197.74 L517.77,199.44 L518.83,200.43 L520.25,200.60 L522.03,199.96 L524.17,198.68 L526.60,197.00 L529.21,195.26 L531.83,193.81 L534.38,193.05 L536.53,193.19 L538.03,194.29 L538.86,196.31 L539.18,199.05 L539.30,202.21 L539.53,205.42 L539.97,208.32 L540.78,210.62 L542.06,212.08 L543.82,212.59 L545.96,212.18 L548.31,210.98 L550.68,209.22 L552.83,207.20 L554.76,205.26 L556.55,203.74 L558.26,202.90 L559.94,202.92 L561.49,203.85 L562.61,205.54 L563.65,207.84 L564.64,210.52 L565.54,213.30 L566.35,215.86 L567.11,217.92 L567.95,219.27 L569.16,219.81 L570.89,219.55 L573.14,218.58 L575.78,217.14 L578.59,215.52 L581.30,214.07 L583.83,213.20 L585.99,213.19 L587.53,214.14 L588.41,216.00 L588.80,218.60 L588.98,221.67 L589.31,224.83 L589.93,227.74 L590.89,230.07 L592.22,231.61 L593.86,232.21 L595.74,231.90 L597.80,230.77 L599.98,229.05 L602.29,226.80 L604.55,224.47 L606.62,222.65 L608.41,221.74 L609.85,221.72 L610.97,222.24"/><path d="M440.00,162.72 L441.89,161.75 L444.36,160.63 L446.92,159.86 L449.05,160.01 L450.43,161.41 L451.12,163.85 L451.47,166.73 L451.82,169.84 L452.31,172.87 L453.07,175.50 L454.20,177.43 L455.70,178.49 L457.53,178.60 L459.68,177.86 L461.83,176.34 L463.84,174.33 L465.76,172.16 L467.68,170.19 L469.65,168.74 L471.63,168.07 L473.21,168.22 L474.60,169.25 L475.80,171.10 L476.80,173.59 L477.58,176.46 L478.17,179.38 L478.65,182.04 L479.21,184.14 L480.18,185.48 L481.73,185.95 L483.88,185.57 L486.51,184.50 L489.35,183.00 L492.18,181.43 L494.88,180.24 L497.19,179.70 L498.92,180.00 L500.03,181.20 L500.67,183.19 L501.08,185.79 L501.59,188.73 L502.29,191.66 L503.23,194.27 L504.40,196.27 L505.77,197.47 L507.32,197.78 L509.14,197.25 L511.19,195.95 L513.16,194.07 L515.08,191.91 L517.03,189.82 L519.08,188.15 L521.23,187.21 L523.17,187.15 L524.75,188.01 L525.97,189.76 L526.83,192.25 L527.40,195.21 L527.79,198.31 L528.17,201.20 L528.62,203.52 L529.47,205.11 L530.97,205.82 L533.14,205.64 L535.82,204.72 L538.70,203.28 L541.47,201.65 L544.03,200.28 L546.22,199.47 L547.94,199.45 L549.18,200.29 L550.04,201.96 L550.69,204.30 L551.32,207.04 L552.17,209.87 L553.24,212.49 L554.45,214.61 L555.74,216.02 L557.06,216.60 L558.51,216.34 L560.39,215.35 L562.35,213.72 L564.36,211.71 L566.46,209.65 L568.65,207.89 L570.89,206.77 L573.05,206.53 L574.84,207.26 L576.11,208.95 L576.86,211.44 L577.22,214.47 L577.41,217.71 L577.70,220.79 L578.17,223.29 L579.01,225.02 L580.47,225.87 L582.59,225.81 L585.20,224.95 L588.02,223.52 L590.69,221.83 L593.07,220.24 L595.11,219.11 L596.78,218.68 L598.14,219.09 L599.26,220.35 L600.20,222.36 L601.05,224.91 L602.03,227.95 L603.25,231.02 L604.63,233.49 L606.07,234.98 L607.43,235.49 L608.48,235.36"/><path d="M481.50,182.00 C481.83,183.10 482.25,186.62 483.50,188.60 C484.75,190.58 486.75,192.35 489.00,193.90 C491.25,195.45 493.92,196.90 497.00,197.90 C500.08,198.90 504.87,199.90 507.50,199.90 C510.13,199.90 511.55,199.05 512.80,197.90 C514.05,196.75 514.63,193.82 515.00,193.00"/><path d="M522.00,190.00 C523.00,190.83 525.83,192.83 528.00,195.00 C530.17,197.17 533.33,200.33 535.00,203.00 C536.67,205.67 536.33,208.67 538.00,211.00 C539.67,213.33 542.00,215.33 545.00,217.00 C548.00,218.67 552.17,220.00 556.00,221.00 C559.83,222.00 564.83,222.17 568.00,223.00 C571.17,223.83 573.83,225.50 575.00,226.00"/><path d="M525.00,186.00 C526.17,184.67 529.17,180.00 532.00,178.00 C534.83,176.00 538.50,174.83 542.00,174.00 C545.50,173.17 549.50,172.67 553.00,173.00 C556.50,173.33 560.17,174.50 563.00,176.00 C565.83,177.50 568.17,179.50 570.00,182.00 C571.83,184.50 573.33,189.50 574.00,191.00"/><path d="M440.00,207.72 L440.03,209.83 L440.17,212.54 L440.71,215.19 L441.99,217.06 L444.10,217.67 L446.79,217.08 L449.53,215.75 L452.18,214.05 L454.69,212.35 L456.93,210.99 L458.80,210.23 L460.30,210.26 L461.47,211.14 L462.32,212.76 L463.17,214.98 L464.16,217.58 L465.24,220.26 L466.32,222.75 L467.35,224.78 L468.37,226.14 L469.79,226.74 L471.40,226.48 L473.20,225.44 L475.20,223.82 L477.42,221.92 L479.83,220.07 L482.35,218.66 L484.79,217.97 L486.82,218.20 L488.27,219.39 L489.12,221.48 L489.49,224.27 L489.65,227.46 L489.82,230.66 L490.12,233.56 L490.81,235.82 L492.08,237.22 L493.97,237.66 L496.33,237.19 L498.92,235.94 L501.41,234.19 L503.71,232.30 L505.77,230.62 L507.60,229.47 L509.23,229.06 L510.68,229.51 L511.86,230.80 L512.81,232.73 L513.84,235.17 L514.92,237.84 L515.97,240.46 L516.92,242.74 L517.77,244.44 L518.83,245.43 L520.25,245.60 L522.03,244.96 L524.17,243.68 L526.60,242.00 L529.21,240.26 L531.83,238.81 L534.38,238.05 L536.53,238.19 L538.03,239.29 L538.86,241.31 L539.18,244.05 L539.30,247.21 L539.53,250.42 L539.97,253.32 L540.78,255.62 L542.06,257.08 L543.82,257.59 L545.96,257.18 L548.31,255.98 L550.68,254.22 L552.83,252.20 L554.76,250.26 L556.55,248.74 L558.26,247.90 L559.94,247.92 L561.49,248.85 L562.61,250.54 L563.65,252.84 L564.64,255.52 L565.54,258.30 L566.35,260.86 L567.11,262.92 L567.95,264.27 L569.16,264.81 L570.89,264.55 L573.14,263.58 L575.78,262.14 L578.59,260.52 L581.30,259.07 L583.83,258.20 L585.99,258.19 L587.53,259.14 L588.41,261.00 L588.80,263.60 L588.98,266.67 L589.31,269.83 L589.93,272.74 L590.89,275.07 L592.22,276.61 L593.86,277.21 L595.74,276.90 L597.80,275.77 L599.98,274.05 L602.29,271.80 L604.55,269.47 L606.62,267.65 L608.41,266.74 L609.85,266.72 L610.97,267.24"/><path d="M440.00,207.72 L441.89,206.75 L444.36,205.63 L446.92,204.86 L449.05,205.01 L450.43,206.41 L451.12,208.85 L451.47,211.73 L451.82,214.84 L452.31,217.87 L453.07,220.50 L454.20,222.43 L455.70,223.49 L457.53,223.60 L459.68,222.86 L461.83,221.34 L463.84,219.33 L465.76,217.16 L467.68,215.19 L469.65,213.74 L471.63,213.07 L473.21,213.22 L474.60,214.25 L475.80,216.10 L476.80,218.59 L477.58,221.46 L478.17,224.38 L478.65,227.04 L479.21,229.14 L480.18,230.48 L481.73,230.95 L483.88,230.57 L486.51,229.50 L489.35,228.00 L492.18,226.43 L494.88,225.24 L497.19,224.70 L498.92,225.00 L500.03,226.20 L500.67,228.19 L501.08,230.79 L501.59,233.73 L502.29,236.66 L503.23,239.27 L504.40,241.27 L505.77,242.47 L507.32,242.78 L509.14,242.25 L511.19,240.95 L513.16,239.07 L515.08,236.91 L517.03,234.82 L519.08,233.15 L521.23,232.21 L523.17,232.15 L524.75,233.01 L525.97,234.76 L526.83,237.25 L527.40,240.21 L527.79,243.31 L528.17,246.20 L528.62,248.52 L529.47,250.11 L530.97,250.82 L533.14,250.64 L535.82,249.72 L538.70,248.28 L541.47,246.65 L544.03,245.28 L546.22,244.47 L547.94,244.45 L549.18,245.29 L550.04,246.96 L550.69,249.30 L551.32,252.04 L552.17,254.87 L553.24,257.49 L554.45,259.61 L555.74,261.02 L557.06,261.60 L558.51,261.34 L560.39,260.35 L562.35,258.72 L564.36,256.71 L566.46,254.65 L568.65,252.89 L570.89,251.77 L573.05,251.53 L574.84,252.26 L576.11,253.95 L576.86,256.44 L577.22,259.47 L577.41,262.71 L577.70,265.79 L578.17,268.29 L579.01,270.02 L580.47,270.87 L582.59,270.81 L585.20,269.95 L588.02,268.52 L590.69,266.83 L593.07,265.24 L595.11,264.11 L596.78,263.68 L598.14,264.09 L599.26,265.35 L600.20,267.36 L601.05,269.91 L602.03,272.95 L603.25,276.02 L604.63,278.49 L606.07,279.98 L607.43,280.49 L608.48,280.36"/><path d="M481.50,227.00 C481.83,228.10 482.25,231.62 483.50,233.60 C484.75,235.58 486.75,237.35 489.00,238.90 C491.25,240.45 493.92,241.90 497.00,242.90 C500.08,243.90 504.87,244.90 507.50,244.90 C510.13,244.90 511.55,244.05 512.80,242.90 C514.05,241.75 514.63,238.82 515.00,238.00"/><path d="M522.00,235.00 C523.00,235.83 525.83,237.83 528.00,240.00 C530.17,242.17 533.33,245.33 535.00,248.00 C536.67,250.67 536.33,253.67 538.00,256.00 C539.67,258.33 542.00,260.33 545.00,262.00 C548.00,263.67 552.17,265.00 556.00,266.00 C559.83,267.00 564.83,267.17 568.00,268.00 C571.17,268.83 573.83,270.50 575.00,271.00"/><path d="M525.00,231.00 C526.17,229.67 529.17,225.00 532.00,223.00 C534.83,221.00 538.50,219.83 542.00,219.00 C545.50,218.17 549.50,217.67 553.00,218.00 C556.50,218.33 560.17,219.50 563.00,221.00 C565.83,222.50 568.17,224.50 570.00,227.00 C571.83,229.50 573.33,234.50 574.00,236.00"/></g><g fill="none" stroke="#f7902a" stroke-width="1.5"><path d="M519.0,95.0 l2,7 M531.0,102.0 l1.5,7 M497.0,85.0 l1,6"/><path d="M519.0,140.0 l2,7 M531.0,147.0 l1.5,7 M497.0,130.0 l1,6"/><path d="M519.0,185.0 l2,7 M531.0,192.0 l1.5,7 M497.0,175.0 l1,6"/><path d="M519.0,230.0 l2,7 M531.0,237.0 l1.5,7 M497.0,220.0 l1,6"/></g><g fill="#fde27a" filter="url(#soft)"><circle cx="477.50" cy="86.69" r="1.0"/><circle cx="489.50" cy="92.73" r="1.0"/><circle cx="501.50" cy="98.96" r="1.0"/><circle cx="514.50" cy="102.29" r="1.0"/><circle cx="527.50" cy="106.33" r="1.0"/><circle cx="539.00" cy="112.74" r="1.0"/><circle cx="551.50" cy="118.27" r="1.0"/><circle cx="564.50" cy="121.11" r="1.0"/><circle cx="577.00" cy="126.08" r="1.0"/><circle cx="477.50" cy="131.69" r="1.0"/><circle cx="489.50" cy="137.73" r="1.0"/><circle cx="501.50" cy="143.96" r="1.0"/><circle cx="514.50" cy="147.29" r="1.0"/><circle cx="527.50" cy="151.33" r="1.0"/><circle cx="539.00" cy="157.74" r="1.0"/><circle cx="551.50" cy="163.27" r="1.0"/><circle cx="564.50" cy="166.11" r="1.0"/><circle cx="577.00" cy="171.08" r="1.0"/><circle cx="477.50" cy="176.69" r="1.0"/><circle cx="489.50" cy="182.73" r="1.0"/><circle cx="501.50" cy="188.96" r="1.0"/><circle cx="514.50" cy="192.29" r="1.0"/><circle cx="527.50" cy="196.33" r="1.0"/><circle cx="539.00" cy="202.74" r="1.0"/><circle cx="551.50" cy="208.27" r="1.0"/><circle cx="564.50" cy="211.11" r="1.0"/><circle cx="577.00" cy="216.08" r="1.0"/><circle cx="477.50" cy="221.69" r="1.0"/><circle cx="489.50" cy="227.73" r="1.0"/><circle cx="501.50" cy="233.96" r="1.0"/><circle cx="514.50" cy="237.29" r="1.0"/><circle cx="527.50" cy="241.33" r="1.0"/><circle cx="539.00" cy="247.74" r="1.0"/><circle cx="551.50" cy="253.27" r="1.0"/><circle cx="564.50" cy="256.11" r="1.0"/><circle cx="577.00" cy="261.08" r="1.0"/></g>
</g>
<text x="467.90" y="131.20" font-size="8" text-anchor="start" font-weight="bold" font-style="normal" fill="#000" >(j)</text>
<text x="469.90" y="152.80" font-size="8" text-anchor="middle" font-weight="normal" font-style="normal" fill="#000" >max</text>
<rect x="467.90" y="155.2" width="2.7" height="47.6" fill="url(#cbar)"/>
<text x="469.30" y="210.30" font-size="7.4" text-anchor="middle" font-weight="normal" font-style="normal" fill="#000" >0</text>
<text transform="translate(463.60,173.3) rotate(-90)" font-size="6.6" text-anchor="middle" dominant-baseline="central" font-style="italic">A(k, ω)</text>
<text x="473.50" y="183" font-size="9.5">k<tspan font-size="7" dy="1.8">y</tspan></text>
<text x="528.70" y="229.3" font-size="10.5" text-anchor="middle">k<tspan font-size="7.5" dy="1.8">x</tspan></text>
<defs>
<pattern id="pat_h" width="3" height="2.1" patternUnits="userSpaceOnUse"><rect width="3" height="2.1" fill="#000"/><rect y="0.9" width="3" height="0.35" fill="#fff" opacity="0.9"/></pattern>
<pattern id="pat_d" width="3" height="2.3" patternUnits="userSpaceOnUse" patternTransform="rotate(-25)"><rect width="3" height="2.3" fill="#000"/><rect y="1.0" width="3" height="0.35" fill="#fff" opacity="0.75"/></pattern>
<pattern id="pat_o" width="4.2" height="3.6" patternUnits="userSpaceOnUse"><rect width="4.2" height="3.6" fill="#000"/><ellipse cx="1.05" cy="0.9" rx="0.85" ry="0.45" fill="#fff"/><ellipse cx="3.15" cy="2.7" rx="0.85" ry="0.45" fill="#fff"/></pattern>
</defs>
<clipPath id="bc0"><rect x="22.90" y="245.50" width="91.50" height="91.50"/></clipPath>
<g clip-path="url(#bc0)">
<path d="M22.90,257.50 L25.50,258.30 L27.50,260.00 L28.60,258.00 L29.60,253.00 L30.50,248.00 L31.00,245.50 L35.80,245.50 L37.90,250.90 L39.30,257.80 L40.50,266.00 L41.50,272.00 L42.60,276.00 L44.90,273.50 L48.40,268.80 L53.00,266.20 L57.60,269.00 L60.50,274.00 L62.20,277.60 L64.00,276.00 L65.60,274.20 L68.65,272.00 L68.65,286.60 L62.00,286.30 L55.00,285.60 L49.50,285.20 L46.00,283.00 L42.60,280.50 L40.00,277.50 L38.30,274.90 L36.50,270.50 L33.80,264.00 L31.50,266.50 L29.50,271.00 L27.50,276.00 L26.00,280.00 L24.80,283.50 L22.90,285.00Z M114.40,257.50 L111.80,258.30 L109.80,260.00 L108.70,258.00 L107.70,253.00 L106.80,248.00 L106.30,245.50 L101.50,245.50 L99.40,250.90 L98.00,257.80 L96.80,266.00 L95.80,272.00 L94.70,276.00 L92.40,273.50 L88.90,268.80 L84.30,266.20 L79.70,269.00 L76.80,274.00 L75.10,277.60 L73.30,276.00 L71.70,274.20 L68.65,272.00 L68.65,286.60 L75.30,286.30 L82.30,285.60 L87.80,285.20 L91.30,283.00 L94.70,280.50 L97.30,277.50 L99.00,274.90 L100.80,270.50 L103.50,264.00 L105.80,266.50 L107.80,271.00 L109.80,276.00 L111.30,280.00 L112.50,283.50 L114.40,285.00Z M22.90,325.00 L25.50,324.20 L27.50,322.50 L28.60,324.50 L29.60,329.50 L30.50,334.50 L31.00,337.00 L35.80,337.00 L37.90,331.60 L39.30,324.70 L40.50,316.50 L41.50,310.50 L42.60,306.50 L44.90,309.00 L48.40,313.70 L53.00,316.30 L57.60,313.50 L60.50,308.50 L62.20,304.90 L64.00,306.50 L65.60,308.30 L68.65,310.50 L68.65,295.90 L62.00,296.20 L55.00,296.90 L49.50,297.30 L46.00,299.50 L42.60,302.00 L40.00,305.00 L38.30,307.60 L36.50,312.00 L33.80,318.50 L31.50,316.00 L29.50,311.50 L27.50,306.50 L26.00,302.50 L24.80,299.00 L22.90,297.50Z M114.40,325.00 L111.80,324.20 L109.80,322.50 L108.70,324.50 L107.70,329.50 L106.80,334.50 L106.30,337.00 L101.50,337.00 L99.40,331.60 L98.00,324.70 L96.80,316.50 L95.80,310.50 L94.70,306.50 L92.40,309.00 L88.90,313.70 L84.30,316.30 L79.70,313.50 L76.80,308.50 L75.10,304.90 L73.30,306.50 L71.70,308.30 L68.65,310.50 L68.65,295.90 L75.30,296.20 L82.30,296.90 L87.80,297.30 L91.30,299.50 L94.70,302.00 L97.30,305.00 L99.00,307.60 L100.80,312.00 L103.50,318.50 L105.80,316.00 L107.80,311.50 L109.80,306.50 L111.30,302.50 L112.50,299.00 L114.40,297.50Z" fill="#000" stroke="#000" stroke-width="0.6" stroke-linejoin="round"/>
<path d="M28.90,281.25 L30.89,281.91 L32.88,282.55 L34.86,283.03 L36.85,283.25 L38.84,283.18 L40.82,282.87 L42.81,282.45 L44.80,282.08 L46.79,281.96 L48.77,282.24 L50.76,282.98 L52.75,284.18 L54.74,285.70 L56.72,287.36 L58.71,288.93 L60.70,290.21 L62.69,291.06 L64.67,291.46 L66.66,291.46 L68.65,291.25 L70.64,291.04 L72.62,291.04 L74.61,291.44 L76.60,292.29 L78.59,293.57 L80.58,295.14 L82.56,296.80 L84.55,298.32 L86.54,299.52 L88.53,300.26 L90.51,300.54 L92.50,300.42 L94.49,300.05 L96.47,299.63 L98.46,299.32 L100.45,299.25 L102.44,299.47 L104.42,299.95 L106.41,300.59 L108.40,301.25" fill="none" stroke="#f010f0" stroke-width="1.25" stroke-linejoin="round"/>
<path d="M28.90,297.80 L30.89,297.65 L32.88,297.24 L34.86,296.63 L36.85,295.93 L38.84,295.28 L40.82,294.80 L42.81,294.57 L44.80,294.63 L46.79,294.92 L48.77,295.34 L50.76,295.72 L52.75,295.91 L54.74,295.78 L56.72,295.27 L58.71,294.40 L60.70,293.27 L62.69,292.04 L64.67,290.91 L66.66,290.03 L68.65,289.50 L70.64,289.37 L72.62,289.55 L74.61,289.92 L76.60,290.29 L78.59,290.50 L80.58,290.41 L82.56,289.97 L84.55,289.20 L86.54,288.21 L88.53,287.16 L90.51,286.21 L92.50,285.51 L94.49,285.14 L96.47,285.11 L98.46,285.36 L100.45,285.78 L102.44,286.25 L104.42,286.62 L106.41,286.81 L108.40,286.80" fill="none" stroke="#f010f0" stroke-width="1.25" stroke-linejoin="round"/>
<path d="M28.90,301.30 L30.89,300.64 L32.88,299.98 L34.86,299.48 L36.85,299.23 L38.84,299.27 L40.82,299.56 L42.81,299.98 L44.80,300.36 L46.79,300.50 L48.77,300.26 L50.76,299.55 L52.75,298.39 L54.74,296.88 L56.72,295.22 L58.71,293.63 L60.70,292.32 L62.69,291.42 L64.67,290.99 L66.66,290.96 L68.65,291.16 L70.64,291.38 L72.62,291.40 L74.61,291.05 L76.60,290.24 L78.59,288.99 L80.58,287.44 L82.56,285.79 L84.55,284.25 L86.54,283.02 L88.53,282.24 L90.51,281.93 L92.50,282.02 L94.49,282.37 L96.47,282.80 L98.46,283.13 L100.45,283.23 L102.44,283.04 L104.42,282.59 L106.41,281.96 L108.40,281.30" fill="none" stroke="#10d8e8" stroke-width="1.25" stroke-linejoin="round"/>
<path d="M28.90,284.70 L30.89,284.73 L32.88,285.03 L34.86,285.58 L36.85,286.27 L38.84,286.99 L40.82,287.60 L42.81,287.98 L44.80,288.08 L46.79,287.90 L48.77,287.54 L50.76,287.12 L52.75,286.82 L54.74,286.78 L56.72,287.10 L58.71,287.81 L60.70,288.84 L62.69,290.04 L64.67,291.25 L66.66,292.29 L68.65,293.00 L70.64,293.33 L72.62,293.29 L74.61,293.00 L76.60,292.60 L78.59,292.29 L80.58,292.21 L82.56,292.47 L84.55,293.07 L86.54,293.95 L88.53,294.96 L90.51,295.96 L92.50,296.78 L94.49,297.31 L96.47,297.50 L98.46,297.37 L100.45,297.01 L102.44,296.54 L104.42,296.11 L106.41,295.81 L108.40,295.70" fill="none" stroke="#10d8e8" stroke-width="1.25" stroke-linejoin="round"/>
<path d="M24.40,290.25 L28.90,285.25 L31.90,279.25 L33.90,274.25 L32.40,270.25 L34.90,267.25" fill="none" stroke="#f010f0" stroke-width="1.25"/>
<path d="M24.40,292.25 L28.90,297.25 L31.90,303.25 L33.90,308.25 L32.40,312.25 L34.90,315.25" fill="none" stroke="#10d8e8" stroke-width="1.25"/>
<path d="M112.90,290.25 L108.40,285.25 L105.40,279.25 L103.40,274.25 L104.90,270.25 L102.40,267.25" fill="none" stroke="#f010f0" stroke-width="1.25"/>
<path d="M112.90,292.25 L108.40,297.25 L105.40,303.25 L103.40,308.25 L104.90,312.25 L102.40,315.25" fill="none" stroke="#10d8e8" stroke-width="1.25"/>
</g>
<rect x="22.90" y="245.50" width="91.50" height="91.50" fill="none" stroke="#9a9a9a" stroke-width="0.7"/>
<text x="10.70" y="240.20" font-size="8" text-anchor="start" font-weight="bold" font-style="normal" fill="#000" >(k)</text>
<rect x="38.60" y="232.4" width="70.20" height="2.9" fill="url(#gbar)"/>
<text x="36.10" y="242.60" font-size="7.4" text-anchor="start" font-weight="normal" font-style="normal" fill="#000" >upper</text>
<text x="67.40" y="242.60" font-size="7.4" text-anchor="start" font-weight="normal" font-style="normal" fill="#000" >bulk</text>
<text x="111.30" y="242.60" font-size="7.4" text-anchor="end" font-weight="normal" font-style="normal" fill="#000" >lower</text>
<text x="70.70" y="257.60" font-size="8" text-anchor="middle" font-weight="normal" font-style="normal" fill="#000" >C=6</text>
<text x="21.10" y="265.60" font-size="7.2" text-anchor="end" font-weight="normal" font-style="normal" fill="#000" >0.25</text>
<text x="21.10" y="294.40" font-size="7.2" text-anchor="end" font-weight="normal" font-style="normal" fill="#000" >0</text>
<text x="21.10" y="323.30" font-size="7.2" text-anchor="end" font-weight="normal" font-style="normal" fill="#000" >−0.25</text>
<text transform="translate(9.50,290.8) rotate(-90)" font-size="10" text-anchor="middle" font-style="italic">(E − μ<tspan font-size="5.5" dy="1.4" font-style="normal">2</tspan><tspan dy="-1.4" font-style="normal">)/Δ</tspan></text>
<text x="24.10" y="346.30" font-size="7.4" text-anchor="middle" font-weight="normal" font-style="normal" fill="#000" >Γ</text>
<text x="68.15" y="346.30" font-size="7.4" text-anchor="middle" font-weight="normal" font-style="italic" fill="#000" >X</text>
<text x="110.90" y="346.30" font-size="7.4" text-anchor="middle" font-weight="normal" font-style="normal" fill="#000" >Γ</text>
<clipPath id="bc1"><rect x="139.20" y="245.50" width="91.40" height="91.50"/></clipPath>
<g clip-path="url(#bc1)">
<path d="M139.20,247.80 L141.80,248.80 L143.10,250.90 L145.20,254.40 L146.60,245.50 L150.40,245.50 L150.90,252.00 L151.50,256.00 L153.50,262.00 L152.80,268.90 L151.80,274.40 L147.30,278.60 L143.10,281.40 L141.10,282.70 L139.20,283.00Z M230.60,247.80 L228.00,248.80 L226.70,250.90 L224.60,254.40 L223.20,245.50 L219.40,245.50 L218.90,252.00 L218.30,256.00 L216.30,262.00 L217.00,268.90 L218.00,274.40 L222.50,278.60 L226.70,281.40 L228.70,282.70 L230.60,283.00Z M139.20,334.70 L141.80,333.70 L143.10,331.60 L145.20,328.10 L146.60,337.00 L150.40,337.00 L150.90,330.50 L151.50,326.50 L153.50,320.50 L152.80,313.60 L151.80,308.10 L147.30,303.90 L143.10,301.10 L141.10,299.80 L139.20,299.50Z M230.60,334.70 L228.00,333.70 L226.70,331.60 L224.60,328.10 L223.20,337.00 L219.40,337.00 L218.90,330.50 L218.30,326.50 L216.30,320.50 L217.00,313.60 L218.00,308.10 L222.50,303.90 L226.70,301.10 L228.70,299.80 L230.60,299.50Z" fill="#000" stroke="#000" stroke-width="0.6" stroke-linejoin="round"/>
<path d="M152.10,245.50 L157.00,245.50 L158.40,254.40 L159.50,262.00 L160.20,269.00 L162.50,267.00 L166.10,263.50 L168.90,261.50 L172.40,261.00 L175.80,261.50 L178.60,265.00 L182.10,271.00 L184.90,276.00 L184.90,285.00 L181.00,284.00 L178.20,283.00 L174.00,282.00 L170.00,282.00 L166.00,283.00 L163.50,284.50 L162.00,285.50 L161.10,286.50 L159.70,279.30 L159.00,272.40 L157.00,265.50 L155.60,262.00 L153.20,258.00 L152.60,252.00Z M217.70,245.50 L212.80,245.50 L211.40,254.40 L210.30,262.00 L209.60,269.00 L207.30,267.00 L203.70,263.50 L200.90,261.50 L197.40,261.00 L194.00,261.50 L191.20,265.00 L187.70,271.00 L184.90,276.00 L184.90,285.00 L188.80,284.00 L191.60,283.00 L195.80,282.00 L199.80,282.00 L203.80,283.00 L206.30,284.50 L207.80,285.50 L208.70,286.50 L210.10,279.30 L210.80,272.40 L212.80,265.50 L214.20,262.00 L216.60,258.00 L217.20,252.00Z M152.10,337.00 L157.00,337.00 L158.40,328.10 L159.50,320.50 L160.20,313.50 L162.50,315.50 L166.10,319.00 L168.90,321.00 L172.40,321.50 L175.80,321.00 L178.60,317.50 L182.10,311.50 L184.90,306.50 L184.90,297.50 L181.00,298.50 L178.20,299.50 L174.00,300.50 L170.00,300.50 L166.00,299.50 L163.50,298.00 L162.00,297.00 L161.10,296.00 L159.70,303.20 L159.00,310.10 L157.00,317.00 L155.60,320.50 L153.20,324.50 L152.60,330.50Z M217.70,337.00 L212.80,337.00 L211.40,328.10 L210.30,320.50 L209.60,313.50 L207.30,315.50 L203.70,319.00 L200.90,321.00 L197.40,321.50 L194.00,321.00 L191.20,317.50 L187.70,311.50 L184.90,306.50 L184.90,297.50 L188.80,298.50 L191.60,299.50 L195.80,300.50 L199.80,300.50 L203.80,299.50 L206.30,298.00 L207.80,297.00 L208.70,296.00 L210.10,303.20 L210.80,310.10 L212.80,317.00 L214.20,320.50 L216.60,324.50 L217.20,330.50Z" fill="#000" stroke="#000" stroke-width="0.6" stroke-linejoin="round"/>
<path d="M145.20,282.25 L147.19,283.07 L149.17,283.78 L151.16,284.16 L153.14,284.10 L155.12,283.63 L157.11,282.94 L159.09,282.32 L161.08,282.06 L163.06,282.40 L165.05,283.39 L167.03,284.90 L169.02,286.64 L171.00,288.26 L172.99,289.43 L174.97,289.96 L176.96,289.85 L178.94,289.34 L180.93,288.76 L182.91,288.50 L184.90,288.85 L186.88,289.91 L188.87,291.57 L190.85,293.54 L192.84,295.41 L194.82,296.84 L196.81,297.60 L198.79,297.67 L200.78,297.23 L202.76,296.59 L204.75,296.12 L206.73,296.09 L208.72,296.62 L210.70,297.66 L212.69,298.98 L214.68,300.26 L216.66,301.21 L218.64,301.66 L220.63,301.56 L222.62,301.01 L224.60,300.25" fill="none" stroke="#f010f0" stroke-width="1.25" stroke-linejoin="round"/>
<path d="M145.20,297.34 L147.19,297.13 L149.17,296.57 L151.16,295.79 L153.14,295.00 L155.12,294.43 L157.11,294.22 L159.09,294.43 L161.08,294.96 L163.06,295.60 L165.05,296.09 L167.03,296.19 L169.02,295.76 L171.00,294.82 L172.99,293.55 L174.97,292.22 L176.96,291.13 L178.94,290.51 L180.93,290.45 L182.91,290.86 L184.90,291.50 L186.88,292.07 L188.87,292.28 L190.85,291.95 L192.84,291.09 L194.82,289.84 L196.81,288.48 L198.79,287.32 L200.78,286.60 L202.76,286.41 L204.75,286.72 L206.73,287.31 L208.72,287.93 L210.70,288.33 L212.69,288.34 L214.68,287.93 L216.66,287.21 L218.64,286.37 L220.63,285.64 L222.62,285.21 L224.60,285.16" fill="none" stroke="#f010f0" stroke-width="1.25" stroke-linejoin="round"/>
<path d="M145.20,300.31 L147.19,299.48 L149.17,298.75 L151.16,298.34 L153.14,298.36 L155.12,298.80 L157.11,299.49 L159.09,300.12 L161.08,300.41 L163.06,300.12 L165.05,299.17 L167.03,297.69 L169.02,295.94 L171.00,294.30 L172.99,293.09 L174.97,292.51 L176.96,292.57 L178.94,293.07 L180.93,293.65 L182.91,293.95 L184.90,293.65 L186.88,292.64 L188.87,291.01 L190.85,289.06 L192.84,287.17 L194.82,285.69 L196.81,284.88 L198.79,284.77 L200.78,285.19 L202.76,285.82 L204.75,286.32 L206.73,286.39 L208.72,285.90 L210.70,284.90 L212.69,283.60 L214.68,282.31 L216.66,281.33 L218.64,280.85 L220.63,280.92 L222.62,281.43 L224.60,282.19" fill="none" stroke="#10d8e8" stroke-width="1.25" stroke-linejoin="round"/>
<path d="M145.20,285.16 L147.19,285.22 L149.17,285.66 L151.16,286.39 L153.14,287.23 L155.12,287.94 L157.11,288.34 L159.09,288.32 L161.08,287.91 L163.06,287.28 L165.05,286.69 L167.03,286.40 L169.02,286.60 L171.00,287.34 L172.99,288.51 L174.97,289.87 L176.96,291.11 L178.94,291.96 L180.93,292.26 L182.91,292.04 L184.90,291.47 L186.88,290.83 L188.87,290.43 L190.85,290.51 L192.84,291.14 L194.82,292.24 L196.81,293.58 L198.79,294.85 L200.78,295.77 L202.76,296.19 L204.75,296.08 L206.73,295.58 L208.72,294.93 L210.70,294.41 L212.69,294.21 L214.68,294.43 L216.66,295.02 L218.64,295.81 L220.63,296.59 L222.62,297.14 L224.60,297.34" fill="none" stroke="#10d8e8" stroke-width="1.25" stroke-linejoin="round"/>
<path d="M140.70,290.25 L145.20,285.25 L148.20,279.25 L150.20,274.25 L148.70,270.25 L151.20,267.25" fill="none" stroke="#f010f0" stroke-width="1.25"/>
<path d="M140.70,292.25 L145.20,297.25 L148.20,303.25 L150.20,308.25 L148.70,312.25 L151.20,315.25" fill="none" stroke="#10d8e8" stroke-width="1.25"/>
<path d="M229.10,290.25 L224.60,285.25 L221.60,279.25 L219.60,274.25 L221.10,270.25 L218.60,267.25" fill="none" stroke="#f010f0" stroke-width="1.25"/>
<path d="M229.10,292.25 L224.60,297.25 L221.60,303.25 L219.60,308.25 L221.10,312.25 L218.60,315.25" fill="none" stroke="#10d8e8" stroke-width="1.25"/>
</g>
<rect x="139.20" y="245.50" width="91.40" height="91.50" fill="none" stroke="#9a9a9a" stroke-width="0.7"/>
<text x="127.00" y="240.20" font-size="8" text-anchor="start" font-weight="bold" font-style="normal" fill="#000" >(l)</text>
<rect x="154.90" y="232.4" width="70.20" height="2.9" fill="url(#gbar)"/>
<text x="152.40" y="242.60" font-size="7.4" text-anchor="start" font-weight="normal" font-style="normal" fill="#000" >upper</text>
<text x="183.70" y="242.60" font-size="7.4" text-anchor="start" font-weight="normal" font-style="normal" fill="#000" >bulk</text>
<text x="227.60" y="242.60" font-size="7.4" text-anchor="end" font-weight="normal" font-style="normal" fill="#000" >lower</text>
<text x="183.50" y="257.60" font-size="8" text-anchor="middle" font-weight="normal" font-style="normal" fill="#000" >C=5</text>
<text x="137.40" y="265.60" font-size="7.2" text-anchor="end" font-weight="normal" font-style="normal" fill="#000" >0.25</text>
<text x="137.40" y="294.40" font-size="7.2" text-anchor="end" font-weight="normal" font-style="normal" fill="#000" >0</text>
<text x="137.40" y="323.30" font-size="7.2" text-anchor="end" font-weight="normal" font-style="normal" fill="#000" >−0.25</text>
<text transform="translate(125.80,290.8) rotate(-90)" font-size="10" text-anchor="middle" font-style="italic">(E − μ<tspan font-size="5.5" dy="1.4" font-style="normal">2</tspan><tspan dy="-1.4" font-style="normal">)/Δ</tspan></text>
<text x="140.40" y="346.30" font-size="7.4" text-anchor="middle" font-weight="normal" font-style="normal" fill="#000" >Γ</text>
<text x="184.40" y="346.30" font-size="7.4" text-anchor="middle" font-weight="normal" font-style="italic" fill="#000" >X</text>
<text x="227.10" y="346.30" font-size="7.4" text-anchor="middle" font-weight="normal" font-style="normal" fill="#000" >Γ</text>
<clipPath id="bc2"><rect x="255.10" y="245.50" width="91.40" height="91.50"/></clipPath>
<g clip-path="url(#bc2)">
<path d="M255.10,245.50 L258.10,245.50 L258.80,252.00 L259.30,262.00 L259.50,272.00 L259.20,281.40 L255.10,282.00Z M346.50,245.50 L343.50,245.50 L342.80,252.00 L342.30,262.00 L342.10,272.00 L342.40,281.40 L346.50,282.00Z M255.10,337.00 L258.10,337.00 L258.80,330.50 L259.30,320.50 L259.50,310.50 L259.20,301.10 L255.10,300.50Z M346.50,337.00 L343.50,337.00 L342.80,330.50 L342.30,320.50 L342.10,310.50 L342.40,301.10 L346.50,300.50Z" fill="url(#pat_h)" stroke="#000" stroke-width="0.6" stroke-linejoin="round"/>
<path d="M262.30,245.50 L269.90,245.50 L270.50,254.40 L271.30,261.30 L270.90,268.00 L269.00,274.50 L265.40,278.60 L260.50,281.40 L261.60,270.00 L261.90,258.00Z M339.30,245.50 L331.70,245.50 L331.10,254.40 L330.30,261.30 L330.70,268.00 L332.60,274.50 L336.20,278.60 L341.10,281.40 L340.00,270.00 L339.70,258.00Z M262.30,337.00 L269.90,337.00 L270.50,328.10 L271.30,321.20 L270.90,314.50 L269.00,308.00 L265.40,303.90 L260.50,301.10 L261.60,312.50 L261.90,324.50Z M339.30,337.00 L331.70,337.00 L331.10,328.10 L330.30,321.20 L330.70,314.50 L332.60,308.00 L336.20,303.90 L341.10,301.10 L340.00,312.50 L339.70,324.50Z" fill="url(#pat_d)" stroke="#000" stroke-width="0.6" stroke-linejoin="round"/>
<path d="M271.80,270.00 L273.50,265.00 L276.10,259.20 L278.90,255.50 L281.70,259.50 L284.20,260.50 L286.50,257.00 L289.50,254.80 L291.00,258.00 L292.70,265.00 L295.00,277.70 L297.50,276.00 L299.50,274.50 L300.80,274.20 L300.80,284.60 L298.30,283.20 L294.10,281.00 L288.60,279.00 L284.40,281.30 L278.90,282.90 L273.40,284.50 L270.50,282.00 L270.80,275.00Z M329.80,270.00 L328.10,265.00 L325.50,259.20 L322.70,255.50 L319.90,259.50 L317.40,260.50 L315.10,257.00 L312.10,254.80 L310.60,258.00 L308.90,265.00 L306.60,277.70 L304.10,276.00 L302.10,274.50 L300.80,274.20 L300.80,284.60 L303.30,283.20 L307.50,281.00 L313.00,279.00 L317.20,281.30 L322.70,282.90 L328.20,284.50 L331.10,282.00 L330.80,275.00Z M271.80,312.50 L273.50,317.50 L276.10,323.30 L278.90,327.00 L281.70,323.00 L284.20,322.00 L286.50,325.50 L289.50,327.70 L291.00,324.50 L292.70,317.50 L295.00,304.80 L297.50,306.50 L299.50,308.00 L300.80,308.30 L300.80,297.90 L298.30,299.30 L294.10,301.50 L288.60,303.50 L284.40,301.20 L278.90,299.60 L273.40,298.00 L270.50,300.50 L270.80,307.50Z M329.80,312.50 L328.10,317.50 L325.50,323.30 L322.70,327.00 L319.90,323.00 L317.40,322.00 L315.10,325.50 L312.10,327.70 L310.60,324.50 L308.90,317.50 L306.60,304.80 L304.10,306.50 L302.10,308.00 L300.80,308.30 L300.80,297.90 L303.30,299.30 L307.50,301.50 L313.00,303.50 L317.20,301.20 L322.70,299.60 L328.20,298.00 L331.10,300.50 L330.80,307.50Z" fill="#000" stroke="#000" stroke-width="0.6" stroke-linejoin="round"/>
<path d="M261.10,280.25 L263.09,281.25 L265.07,282.02 L267.06,282.27 L269.04,281.89 L271.03,281.09 L273.01,280.25 L275.00,279.87 L276.98,280.29 L278.97,281.57 L280.95,283.47 L282.94,285.49 L284.92,287.07 L286.91,287.83 L288.89,287.72 L290.88,287.04 L292.86,286.35 L294.85,286.24 L296.83,287.07 L298.81,288.86 L300.80,291.25 L302.79,293.64 L304.77,295.43 L306.75,296.26 L308.74,296.15 L310.73,295.46 L312.71,294.78 L314.69,294.67 L316.68,295.43 L318.67,297.01 L320.65,299.03 L322.63,300.93 L324.62,302.21 L326.61,302.63 L328.59,302.25 L330.57,301.41 L332.56,300.61 L334.55,300.23 L336.53,300.48 L338.51,301.25 L340.50,302.25" fill="none" stroke="#f010f0" stroke-width="1.25" stroke-linejoin="round"/>
<path d="M261.10,298.54 L263.09,298.24 L265.07,297.48 L267.06,296.51 L269.04,295.68 L271.03,295.29 L273.01,295.46 L275.00,296.10 L276.98,296.89 L278.97,297.42 L280.95,297.35 L282.94,296.55 L284.92,295.16 L286.91,293.57 L288.89,292.25 L290.88,291.57 L292.86,291.64 L294.85,292.28 L296.83,293.08 L298.81,293.55 L300.80,293.31 L302.79,292.28 L304.77,290.68 L306.75,288.96 L308.74,287.59 L310.73,286.93 L312.71,287.06 L314.69,287.73 L316.68,288.52 L318.67,288.97 L320.65,288.79 L322.63,287.95 L324.62,286.67 L326.61,285.37 L328.59,284.43 L330.57,284.11 L332.56,284.40 L334.55,285.10 L336.53,285.87 L338.51,286.37 L340.50,286.44" fill="none" stroke="#f010f0" stroke-width="1.25" stroke-linejoin="round"/>
<path d="M261.10,302.31 L263.09,301.31 L265.07,300.50 L267.06,300.21 L269.04,300.54 L271.03,301.33 L273.01,302.18 L275.00,302.60 L276.98,302.24 L278.97,301.00 L280.95,299.12 L282.94,297.09 L284.92,295.46 L286.91,294.64 L288.89,294.70 L290.88,295.35 L292.86,296.06 L294.85,296.23 L296.83,295.46 L298.81,293.73 L300.80,291.36 L302.79,288.95 L304.77,287.10 L306.75,286.21 L308.74,286.27 L310.73,286.94 L312.71,287.63 L314.69,287.80 L316.68,287.10 L318.67,285.57 L320.65,283.57 L322.63,281.65 L324.62,280.32 L326.61,279.85 L328.59,280.19 L330.57,281.01 L332.56,281.83 L334.55,282.24 L336.53,282.04 L338.51,281.30 L340.50,280.31" fill="none" stroke="#10d8e8" stroke-width="1.25" stroke-linejoin="round"/>
<path d="M261.10,283.96 L263.09,284.08 L265.07,284.70 L267.06,285.66 L269.04,286.61 L271.03,287.22 L273.01,287.27 L275.00,286.79 L276.98,286.01 L278.97,285.33 L280.95,285.15 L282.94,285.68 L284.92,286.90 L286.91,288.48 L288.89,289.97 L290.88,290.94 L292.86,291.15 L294.85,290.69 L296.83,289.89 L298.81,289.24 L300.80,289.18 L302.79,289.92 L304.77,291.34 L306.75,293.07 L308.74,294.62 L310.73,295.57 L312.71,295.73 L314.69,295.22 L316.68,294.42 L318.67,293.79 L320.65,293.70 L322.63,294.29 L324.62,295.43 L326.61,296.75 L328.59,297.84 L330.57,298.40 L332.56,298.31 L334.55,297.73 L336.53,296.95 L338.51,296.31 L340.50,296.06" fill="none" stroke="#10d8e8" stroke-width="1.25" stroke-linejoin="round"/>
<path d="M256.60,290.25 L261.10,285.25 L264.10,279.25 L266.10,274.25 L264.60,270.25 L267.10,267.25" fill="none" stroke="#f010f0" stroke-width="1.25"/>
<path d="M256.60,292.25 L261.10,297.25 L264.10,303.25 L266.10,308.25 L264.60,312.25 L267.10,315.25" fill="none" stroke="#10d8e8" stroke-width="1.25"/>
<path d="M345.00,290.25 L340.50,285.25 L337.50,279.25 L335.50,274.25 L337.00,270.25 L334.50,267.25" fill="none" stroke="#f010f0" stroke-width="1.25"/>
<path d="M345.00,292.25 L340.50,297.25 L337.50,303.25 L335.50,308.25 L337.00,312.25 L334.50,315.25" fill="none" stroke="#10d8e8" stroke-width="1.25"/>
</g>
<rect x="255.10" y="245.50" width="91.40" height="91.50" fill="none" stroke="#9a9a9a" stroke-width="0.7"/>
<text x="242.90" y="240.20" font-size="8" text-anchor="start" font-weight="bold" font-style="normal" fill="#000" >(m)</text>
<rect x="270.80" y="232.4" width="70.20" height="2.9" fill="url(#gbar)"/>
<text x="268.30" y="242.60" font-size="7.4" text-anchor="start" font-weight="normal" font-style="normal" fill="#000" >upper</text>
<text x="299.60" y="242.60" font-size="7.4" text-anchor="start" font-weight="normal" font-style="normal" fill="#000" >bulk</text>
<text x="343.50" y="242.60" font-size="7.4" text-anchor="end" font-weight="normal" font-style="normal" fill="#000" >lower</text>
<text x="302.00" y="257.60" font-size="8" text-anchor="middle" font-weight="normal" font-style="normal" fill="#000" >C=6</text>
<text x="253.30" y="265.60" font-size="7.2" text-anchor="end" font-weight="normal" font-style="normal" fill="#000" >0.25</text>
<text x="253.30" y="294.40" font-size="7.2" text-anchor="end" font-weight="normal" font-style="normal" fill="#000" >0</text>
<text x="253.30" y="323.30" font-size="7.2" text-anchor="end" font-weight="normal" font-style="normal" fill="#000" >−0.25</text>
<text transform="translate(241.70,290.8) rotate(-90)" font-size="10" text-anchor="middle" font-style="italic">(E − μ<tspan font-size="5.5" dy="1.4" font-style="normal">2</tspan><tspan dy="-1.4" font-style="normal">)/Δ</tspan></text>
<text x="256.30" y="346.30" font-size="7.4" text-anchor="middle" font-weight="normal" font-style="normal" fill="#000" >Γ</text>
<text x="300.30" y="346.30" font-size="7.4" text-anchor="middle" font-weight="normal" font-style="italic" fill="#000" >X</text>
<text x="343.00" y="346.30" font-size="7.4" text-anchor="middle" font-weight="normal" font-style="normal" fill="#000" >Γ</text>
<clipPath id="bc3"><rect x="368.40" y="245.50" width="91.40" height="91.50"/></clipPath>
<g clip-path="url(#bc3)">
<path d="M368.40,251.60 L370.10,253.00 L372.10,255.80 L373.50,259.90 L374.60,264.70 L375.30,264.70 L376.30,257.80 L378.40,247.80 L380.40,254.40 L382.50,261.30 L384.30,267.00 L384.80,267.00 L386.70,259.90 L388.70,256.40 L392.00,254.40 L394.80,252.30 L398.30,257.80 L401.10,262.00 L403.80,266.10 L405.20,269.60 L408.00,270.30 L410.70,268.90 L414.10,269.60 L414.10,281.30 L410.70,282.00 L403.80,282.70 L396.90,278.60 L392.00,275.80 L390.80,275.80 L387.40,277.90 L381.10,281.40 L378.40,280.70 L372.10,284.80 L368.40,285.00Z M459.80,251.60 L458.10,253.00 L456.10,255.80 L454.70,259.90 L453.60,264.70 L452.90,264.70 L451.90,257.80 L449.80,247.80 L447.80,254.40 L445.70,261.30 L443.90,267.00 L443.40,267.00 L441.50,259.90 L439.50,256.40 L436.20,254.40 L433.40,252.30 L429.90,257.80 L427.10,262.00 L424.40,266.10 L423.00,269.60 L420.20,270.30 L417.50,268.90 L414.10,269.60 L414.10,281.30 L417.50,282.00 L424.40,282.70 L431.30,278.60 L436.20,275.80 L437.40,275.80 L440.80,277.90 L447.10,281.40 L449.80,280.70 L456.10,284.80 L459.80,285.00Z M368.40,330.90 L370.10,329.50 L372.10,326.70 L373.50,322.60 L374.60,317.80 L375.30,317.80 L376.30,324.70 L378.40,334.70 L380.40,328.10 L382.50,321.20 L384.30,315.50 L384.80,315.50 L386.70,322.60 L388.70,326.10 L392.00,328.10 L394.80,330.20 L398.30,324.70 L401.10,320.50 L403.80,316.40 L405.20,312.90 L408.00,312.20 L410.70,313.60 L414.10,312.90 L414.10,301.20 L410.70,300.50 L403.80,299.80 L396.90,303.90 L392.00,306.70 L390.80,306.70 L387.40,304.60 L381.10,301.10 L378.40,301.80 L372.10,297.70 L368.40,297.50Z M459.80,330.90 L458.10,329.50 L456.10,326.70 L454.70,322.60 L453.60,317.80 L452.90,317.80 L451.90,324.70 L449.80,334.70 L447.80,328.10 L445.70,321.20 L443.90,315.50 L443.40,315.50 L441.50,322.60 L439.50,326.10 L436.20,328.10 L433.40,330.20 L429.90,324.70 L427.10,320.50 L424.40,316.40 L423.00,312.90 L420.20,312.20 L417.50,313.60 L414.10,312.90 L414.10,301.20 L417.50,300.50 L424.40,299.80 L431.30,303.90 L436.20,306.70 L437.40,306.70 L440.80,304.60 L447.10,301.10 L449.80,301.80 L456.10,297.70 L459.80,297.50Z" fill="#000" stroke="#000" stroke-width="0.6" stroke-linejoin="round"/>
<path d="M368.40,262.00 L372.00,262.00 L372.50,283.00 L368.40,284.00Z M459.80,262.00 L456.20,262.00 L455.70,283.00 L459.80,284.00Z M368.40,320.50 L372.00,320.50 L372.50,299.50 L368.40,298.50Z M459.80,320.50 L456.20,320.50 L455.70,299.50 L459.80,298.50Z" fill="url(#pat_h)" stroke="#000" stroke-width="0.6" stroke-linejoin="round"/>
<path d="M373.80,268.00 L376.50,262.00 L381.50,266.00 L382.50,272.00 L380.00,279.00 L375.00,282.00Z M454.40,268.00 L451.70,262.00 L446.70,266.00 L445.70,272.00 L448.20,279.00 L453.20,282.00Z M373.80,314.50 L376.50,320.50 L381.50,316.50 L382.50,310.50 L380.00,303.50 L375.00,300.50Z M454.40,314.50 L451.70,320.50 L446.70,316.50 L445.70,310.50 L448.20,303.50 L453.20,300.50Z" fill="url(#pat_d)" stroke="#000" stroke-width="0.6" stroke-linejoin="round"/>
<path d="M374.40,281.25 L376.38,282.07 L378.37,282.79 L380.35,283.19 L382.34,283.14 L384.32,282.70 L386.31,282.05 L388.29,281.46 L390.28,281.25 L392.26,281.64 L394.25,282.68 L396.24,284.25 L398.22,286.06 L400.20,287.74 L402.19,288.98 L404.18,289.57 L406.16,289.54 L408.14,289.10 L410.13,288.60 L412.12,288.42 L414.10,288.85 L416.08,289.99 L418.07,291.73 L420.06,293.77 L422.04,295.72 L424.02,297.23 L426.01,298.06 L428.00,298.19 L429.98,297.81 L431.97,297.24 L433.95,296.82 L435.94,296.85 L437.92,297.43 L439.90,298.52 L441.89,299.87 L443.88,301.18 L445.86,302.17 L447.85,302.63 L449.83,302.54 L451.81,302.01 L453.80,301.25" fill="none" stroke="#f010f0" stroke-width="1.25" stroke-linejoin="round"/>
<path d="M374.40,297.89 L376.38,297.68 L378.37,297.11 L380.35,296.32 L382.34,295.53 L384.32,294.94 L386.31,294.71 L388.29,294.90 L390.28,295.40 L392.26,296.02 L394.25,296.48 L396.24,296.55 L398.22,296.08 L400.20,295.11 L402.19,293.80 L404.18,292.43 L406.16,291.30 L408.14,290.64 L410.13,290.53 L412.12,290.90 L414.10,291.50 L416.08,292.02 L418.07,292.19 L420.06,291.82 L422.04,290.92 L424.02,289.63 L426.01,288.23 L428.00,287.04 L429.98,286.27 L431.97,286.06 L433.95,286.33 L435.94,286.89 L437.92,287.49 L439.90,287.86 L441.89,287.85 L443.88,287.42 L445.86,286.68 L447.85,285.83 L449.83,285.10 L451.81,284.66 L453.80,284.61" fill="none" stroke="#f010f0" stroke-width="1.25" stroke-linejoin="round"/>
<path d="M374.40,301.31 L376.38,300.48 L378.37,299.74 L380.35,299.31 L382.34,299.31 L384.32,299.73 L386.31,300.38 L388.29,300.97 L390.28,301.22 L392.26,300.88 L394.25,299.88 L396.24,298.34 L398.22,296.53 L400.20,294.82 L402.19,293.54 L404.18,292.89 L406.16,292.88 L408.14,293.30 L410.13,293.81 L412.12,294.02 L414.10,293.65 L416.08,292.56 L418.07,290.86 L420.06,288.83 L422.04,286.86 L424.02,285.31 L426.01,284.43 L428.00,284.25 L429.98,284.60 L431.97,285.17 L433.95,285.61 L435.94,285.63 L437.92,285.09 L439.90,284.04 L441.89,282.71 L443.88,281.39 L445.86,280.38 L447.85,279.87 L449.83,279.93 L451.81,280.44 L453.80,281.19" fill="none" stroke="#10d8e8" stroke-width="1.25" stroke-linejoin="round"/>
<path d="M374.40,284.61 L376.38,284.67 L378.37,285.12 L380.35,285.86 L382.34,286.70 L384.32,287.43 L386.31,287.85 L388.29,287.85 L390.28,287.46 L392.26,286.86 L394.25,286.30 L396.24,286.05 L398.22,286.28 L400.20,287.06 L402.19,288.26 L404.18,289.66 L406.16,290.94 L408.14,291.83 L410.13,292.18 L412.12,292.00 L414.10,291.47 L416.08,290.87 L418.07,290.52 L420.06,290.64 L422.04,291.31 L424.02,292.45 L426.01,293.83 L428.00,295.14 L429.98,296.10 L431.97,296.54 L433.95,296.46 L435.94,296.00 L437.92,295.38 L439.90,294.88 L441.89,294.70 L443.88,294.94 L445.86,295.54 L447.85,296.35 L449.83,297.13 L451.81,297.69 L453.80,297.89" fill="none" stroke="#10d8e8" stroke-width="1.25" stroke-linejoin="round"/>
<path d="M369.90,290.25 L374.40,285.25 L377.40,279.25 L379.40,274.25 L377.90,270.25 L380.40,267.25" fill="none" stroke="#f010f0" stroke-width="1.25"/>
<path d="M369.90,292.25 L374.40,297.25 L377.40,303.25 L379.40,308.25 L377.90,312.25 L380.40,315.25" fill="none" stroke="#10d8e8" stroke-width="1.25"/>
<path d="M458.30,290.25 L453.80,285.25 L450.80,279.25 L448.80,274.25 L450.30,270.25 L447.80,267.25" fill="none" stroke="#f010f0" stroke-width="1.25"/>
<path d="M458.30,292.25 L453.80,297.25 L450.80,303.25 L448.80,308.25 L450.30,312.25 L447.80,315.25" fill="none" stroke="#10d8e8" stroke-width="1.25"/>
</g>
<rect x="368.40" y="245.50" width="91.40" height="91.50" fill="none" stroke="#9a9a9a" stroke-width="0.7"/>
<text x="356.20" y="240.20" font-size="8" text-anchor="start" font-weight="bold" font-style="normal" fill="#000" >(n)</text>
<rect x="384.10" y="232.4" width="70.20" height="2.9" fill="url(#gbar)"/>
<text x="381.60" y="242.60" font-size="7.4" text-anchor="start" font-weight="normal" font-style="normal" fill="#000" >upper</text>
<text x="412.90" y="242.60" font-size="7.4" text-anchor="start" font-weight="normal" font-style="normal" fill="#000" >bulk</text>
<text x="456.80" y="242.60" font-size="7.4" text-anchor="end" font-weight="normal" font-style="normal" fill="#000" >lower</text>
<text x="411.70" y="257.60" font-size="8" text-anchor="middle" font-weight="normal" font-style="normal" fill="#000" >C=4</text>
<text x="366.60" y="265.60" font-size="7.2" text-anchor="end" font-weight="normal" font-style="normal" fill="#000" >0.25</text>
<text x="366.60" y="294.40" font-size="7.2" text-anchor="end" font-weight="normal" font-style="normal" fill="#000" >0</text>
<text x="366.60" y="323.30" font-size="7.2" text-anchor="end" font-weight="normal" font-style="normal" fill="#000" >−0.25</text>
<text transform="translate(355.00,290.8) rotate(-90)" font-size="10" text-anchor="middle" font-style="italic">(E − μ<tspan font-size="5.5" dy="1.4" font-style="normal">2</tspan><tspan dy="-1.4" font-style="normal">)/Δ</tspan></text>
<text x="369.60" y="346.30" font-size="7.4" text-anchor="middle" font-weight="normal" font-style="normal" fill="#000" >Γ</text>
<text x="413.60" y="346.30" font-size="7.4" text-anchor="middle" font-weight="normal" font-style="italic" fill="#000" >X</text>
<text x="456.30" y="346.30" font-size="7.4" text-anchor="middle" font-weight="normal" font-style="normal" fill="#000" >Γ</text>
<clipPath id="bc4"><rect x="481.80" y="245.50" width="91.40" height="91.50"/></clipPath>
<g clip-path="url(#bc4)">
<path d="M481.80,254.50 L485.00,256.50 L488.50,259.50 L491.50,262.00 L494.50,262.00 L497.50,255.00 L500.30,245.50 L510.50,245.50 L511.50,256.00 L513.50,264.00 L515.50,256.00 L517.50,245.50 L527.50,245.50 L527.50,278.50 L520.00,279.00 L511.00,280.50 L505.00,283.00 L500.80,286.60 L495.00,285.00 L488.00,283.00 L481.80,281.00Z M573.20,254.50 L570.00,256.50 L566.50,259.50 L563.50,262.00 L560.50,262.00 L557.50,255.00 L554.70,245.50 L544.50,245.50 L543.50,256.00 L541.50,264.00 L539.50,256.00 L537.50,245.50 L527.50,245.50 L527.50,278.50 L535.00,279.00 L544.00,280.50 L550.00,283.00 L554.20,286.60 L560.00,285.00 L567.00,283.00 L573.20,281.00Z M481.80,328.00 L485.00,326.00 L488.50,323.00 L491.50,320.50 L494.50,320.50 L497.50,327.50 L500.30,337.00 L510.50,337.00 L511.50,326.50 L513.50,318.50 L515.50,326.50 L517.50,337.00 L527.50,337.00 L527.50,304.00 L520.00,303.50 L511.00,302.00 L505.00,299.50 L500.80,295.90 L495.00,297.50 L488.00,299.50 L481.80,301.50Z M573.20,328.00 L570.00,326.00 L566.50,323.00 L563.50,320.50 L560.50,320.50 L557.50,327.50 L554.70,337.00 L544.50,337.00 L543.50,326.50 L541.50,318.50 L539.50,326.50 L537.50,337.00 L527.50,337.00 L527.50,304.00 L535.00,303.50 L544.00,302.00 L550.00,299.50 L554.20,295.90 L560.00,297.50 L567.00,299.50 L573.20,301.50Z" fill="#000" stroke="#000" stroke-width="0.6" stroke-linejoin="round"/>
<path d="M500.00,247.00 L510.00,247.00 L511.00,256.00 L510.00,268.00 L506.00,278.00 L499.00,280.00 L494.00,272.00 L497.00,258.00Z M555.00,247.00 L545.00,247.00 L544.00,256.00 L545.00,268.00 L549.00,278.00 L556.00,280.00 L561.00,272.00 L558.00,258.00Z M500.00,335.50 L510.00,335.50 L511.00,326.50 L510.00,314.50 L506.00,304.50 L499.00,302.50 L494.00,310.50 L497.00,324.50Z M555.00,335.50 L545.00,335.50 L544.00,326.50 L545.00,314.50 L549.00,304.50 L556.00,302.50 L561.00,310.50 L558.00,324.50Z" fill="url(#pat_o)" stroke="#000" stroke-width="0.6" stroke-linejoin="round"/>
<path d="M518.50,247.00 L527.50,247.00 L527.50,277.00 L519.00,277.50 L516.00,268.00 L516.50,256.00Z M536.50,247.00 L527.50,247.00 L527.50,277.00 L536.00,277.50 L539.00,268.00 L538.50,256.00Z M518.50,335.50 L527.50,335.50 L527.50,305.50 L519.00,305.00 L516.00,314.50 L516.50,326.50Z M536.50,335.50 L527.50,335.50 L527.50,305.50 L536.00,305.00 L539.00,314.50 L538.50,326.50Z" fill="url(#pat_o)" stroke="#000" stroke-width="0.6" stroke-linejoin="round"/>
<path d="M487.80,282.25 L489.79,282.76 L491.77,283.30 L493.75,283.78 L495.74,284.14 L497.73,284.33 L499.71,284.34 L501.69,284.20 L503.68,283.97 L505.67,283.75 L507.65,283.64 L509.64,283.73 L511.62,284.11 L513.61,284.81 L515.59,285.81 L517.58,287.06 L519.56,288.47 L521.55,289.91 L523.53,291.25 L525.51,292.39 L527.50,293.25 L529.49,293.80 L531.47,294.07 L533.46,294.11 L535.44,294.03 L537.43,293.95 L539.41,293.98 L541.39,294.21 L543.38,294.69 L545.37,295.42 L547.35,296.37 L549.34,297.44 L551.32,298.53 L553.31,299.54 L555.29,300.37 L557.28,300.96 L559.26,301.26 L561.25,301.28 L563.23,301.08 L565.22,300.71 L567.20,300.25" fill="none" stroke="#f010f0" stroke-width="1.25" stroke-linejoin="round"/>
<path d="M487.80,297.15 L489.79,297.06 L491.77,296.79 L493.75,296.35 L495.74,295.81 L497.73,295.22 L499.71,294.67 L501.69,294.22 L503.68,293.93 L505.67,293.82 L507.65,293.89 L509.64,294.09 L511.62,294.35 L513.61,294.59 L515.59,294.71 L517.58,294.64 L519.56,294.34 L521.55,293.78 L523.53,293.00 L525.51,292.05 L527.50,291.04 L529.49,290.06 L531.47,289.21 L533.46,288.57 L535.44,288.16 L537.43,288.01 L539.41,288.07 L541.39,288.27 L543.38,288.53 L545.37,288.76 L547.35,288.87 L549.34,288.81 L551.32,288.57 L553.31,288.15 L555.29,287.60 L557.28,286.99 L559.26,286.39 L561.25,285.88 L563.23,285.52 L565.22,285.34 L567.20,285.35" fill="none" stroke="#f010f0" stroke-width="1.25" stroke-linejoin="round"/>
<path d="M487.80,300.30 L489.79,299.79 L491.77,299.24 L493.75,298.74 L495.74,298.36 L497.73,298.15 L499.71,298.12 L501.69,298.24 L503.68,298.46 L505.67,298.69 L507.65,298.81 L509.64,298.74 L511.62,298.39 L513.61,297.72 L515.59,296.74 L517.58,295.51 L519.56,294.11 L521.55,292.67 L523.53,291.31 L525.51,290.14 L527.50,289.25 L529.49,288.67 L531.47,288.38 L533.46,288.32 L535.44,288.39 L537.43,288.47 L539.41,288.46 L541.39,288.25 L543.38,287.81 L545.37,287.10 L547.35,286.19 L549.34,285.13 L551.32,284.04 L553.31,283.02 L555.29,282.17 L557.28,281.57 L559.26,281.24 L561.25,281.20 L563.23,281.39 L565.22,281.75 L567.20,282.20" fill="none" stroke="#10d8e8" stroke-width="1.25" stroke-linejoin="round"/>
<path d="M487.80,285.35 L489.79,285.34 L491.77,285.53 L493.75,285.90 L495.74,286.41 L497.73,287.01 L499.71,287.62 L501.69,288.16 L503.68,288.57 L505.67,288.81 L507.65,288.85 L509.64,288.74 L511.62,288.51 L513.61,288.25 L515.59,288.05 L517.58,288.00 L519.56,288.16 L521.55,288.57 L523.53,289.23 L525.51,290.09 L527.50,291.07 L529.49,292.08 L531.47,293.02 L533.46,293.79 L535.44,294.34 L537.43,294.64 L539.41,294.69 L541.39,294.56 L543.38,294.33 L545.37,294.06 L547.35,293.87 L549.34,293.81 L551.32,293.93 L553.31,294.23 L555.29,294.68 L557.28,295.24 L559.26,295.83 L561.25,296.37 L563.23,296.80 L565.22,297.07 L567.20,297.15" fill="none" stroke="#10d8e8" stroke-width="1.25" stroke-linejoin="round"/>
<path d="M483.30,290.25 L487.80,285.25 L490.80,279.25 L492.80,274.25 L491.30,270.25 L493.80,267.25" fill="none" stroke="#f010f0" stroke-width="1.25"/>
<path d="M483.30,292.25 L487.80,297.25 L490.80,303.25 L492.80,308.25 L491.30,312.25 L493.80,315.25" fill="none" stroke="#10d8e8" stroke-width="1.25"/>
<path d="M571.70,290.25 L567.20,285.25 L564.20,279.25 L562.20,274.25 L563.70,270.25 L561.20,267.25" fill="none" stroke="#f010f0" stroke-width="1.25"/>
<path d="M571.70,292.25 L567.20,297.25 L564.20,303.25 L562.20,308.25 L563.70,312.25 L561.20,315.25" fill="none" stroke="#10d8e8" stroke-width="1.25"/>
</g>
<rect x="481.80" y="245.50" width="91.40" height="91.50" fill="none" stroke="#9a9a9a" stroke-width="0.7"/>
<text x="469.60" y="240.20" font-size="8" text-anchor="start" font-weight="bold" font-style="normal" fill="#000" >(o)</text>
<rect x="497.50" y="232.4" width="70.20" height="2.9" fill="url(#gbar)"/>
<text x="495.00" y="242.60" font-size="7.4" text-anchor="start" font-weight="normal" font-style="normal" fill="#000" >upper</text>
<text x="526.30" y="242.60" font-size="7.4" text-anchor="start" font-weight="normal" font-style="normal" fill="#000" >bulk</text>
<text x="570.20" y="242.60" font-size="7.4" text-anchor="end" font-weight="normal" font-style="normal" fill="#000" >lower</text>
<text x="483.60" y="254.30" font-size="8" text-anchor="start" font-weight="normal" font-style="normal" fill="#000" >C=2</text>
<text x="480.00" y="265.60" font-size="7.2" text-anchor="end" font-weight="normal" font-style="normal" fill="#000" >0.25</text>
<text x="480.00" y="294.40" font-size="7.2" text-anchor="end" font-weight="normal" font-style="normal" fill="#000" >0</text>
<text x="480.00" y="323.30" font-size="7.2" text-anchor="end" font-weight="normal" font-style="normal" fill="#000" >−0.25</text>
<text transform="translate(468.40,290.8) rotate(-90)" font-size="10" text-anchor="middle" font-style="italic">(E − μ<tspan font-size="5.5" dy="1.4" font-style="normal">2</tspan><tspan dy="-1.4" font-style="normal">)/Δ</tspan></text>
<text x="483.00" y="346.30" font-size="7.4" text-anchor="middle" font-weight="normal" font-style="normal" fill="#000" >Γ</text>
<text x="527.00" y="346.30" font-size="7.4" text-anchor="middle" font-weight="normal" font-style="italic" fill="#000" >X</text>
<text x="569.70" y="346.30" font-size="7.4" text-anchor="middle" font-weight="normal" font-style="normal" fill="#000" >Γ</text>
<defs><linearGradient id="gbar" x1="0" x2="1" y1="0" y2="0"><stop offset="0" stop-color="#ff00ff"/><stop offset="0.5" stop-color="#000"/><stop offset="1" stop-color="#00ffff"/></linearGradient></defs>
</svg></body></html>
